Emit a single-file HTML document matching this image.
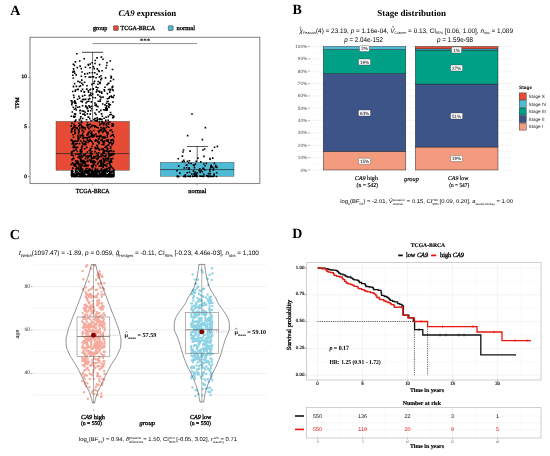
<!DOCTYPE html>
<html><head><meta charset="utf-8"><style>
html,body{margin:0;padding:0;background:#fff;width:550px;height:456px;overflow:hidden;}
svg{display:block;will-change:transform;}
text{white-space:pre;text-rendering:geometricPrecision;}
</style></head><body>
<svg width="550" height="456" viewBox="0 0 550 456">
<rect width="550" height="456" fill="#fff"/>
<text x="10.20" y="11.00" font-family='"Liberation Serif", serif' font-size="14.00" font-weight="bold" font-style="normal" text-anchor="start" fill="#000" dominant-baseline="central" >A</text>
<text x="118.41" y="12.90" font-family='"Liberation Serif", serif' font-size="8.80" font-weight="bold" font-style="italic" text-anchor="start" fill="#000" dominant-baseline="central" >CA9</text>
<text x="134.55" y="12.90" font-family='"Liberation Serif", serif' font-size="8.80" font-weight="bold" font-style="normal" text-anchor="start" fill="#000" dominant-baseline="central" > expression</text>
<g transform="translate(93.00,28.20) scale(0.9729,1)">
<text x="0.00" y="0.00" font-family='"Liberation Serif", serif' font-size="6.30" font-weight="normal" font-style="normal" text-anchor="start" fill="#000" dominant-baseline="central" stroke="#000" stroke-width="0.3">group</text>
</g>
<rect x="113.5" y="25.8" width="4.8" height="4.6" rx="0.5" fill="#E64B35" stroke="#444" stroke-width="0.6"/>
<g transform="translate(120.60,28.20) scale(0.9658,1)">
<text x="0.00" y="0.00" font-family='"Liberation Serif", serif' font-size="6.20" font-weight="normal" font-style="normal" text-anchor="start" fill="#000" dominant-baseline="central" stroke="#000" stroke-width="0.3">TCGA-BRCA</text>
</g>
<rect x="168.3" y="25.8" width="4.8" height="4.6" rx="0.5" fill="#4DBBD5" stroke="#444" stroke-width="0.6"/>
<g transform="translate(176.60,28.20) scale(1.0311,1)">
<text x="0.00" y="0.00" font-family='"Liberation Serif", serif' font-size="6.30" font-weight="normal" font-style="normal" text-anchor="start" fill="#000" dominant-baseline="central" stroke="#000" stroke-width="0.3">normal</text>
</g>
<rect x="30" y="37.3" width="229.8" height="146.2" fill="none" stroke="#8a8a8a" stroke-width="1.1"/>
<line x1="28" x2="30" y1="176.6" y2="176.6" stroke="#555" stroke-width="0.5"/>
<text x="26.80" y="176.60" font-family='"Liberation Serif", serif' font-size="5.20" font-weight="normal" font-style="normal" text-anchor="end" fill="#000" dominant-baseline="central" stroke="#000" stroke-width="0.3">0</text>
<line x1="28" x2="30" y1="127.0" y2="127.0" stroke="#555" stroke-width="0.5"/>
<text x="26.80" y="127.00" font-family='"Liberation Serif", serif' font-size="5.20" font-weight="normal" font-style="normal" text-anchor="end" fill="#000" dominant-baseline="central" stroke="#000" stroke-width="0.3">5</text>
<line x1="28" x2="30" y1="77.4" y2="77.4" stroke="#555" stroke-width="0.5"/>
<text x="26.80" y="77.40" font-family='"Liberation Serif", serif' font-size="5.20" font-weight="normal" font-style="normal" text-anchor="end" fill="#000" dominant-baseline="central" stroke="#000" stroke-width="0.3">10</text>
<text x="17.5" y="103" font-family='"Liberation Serif", serif' font-size="5.5" text-anchor="middle" dominant-baseline="central" transform="rotate(-90 17.5 103)" stroke="#000" stroke-width="0.3">TPM</text>
<line x1="92.6" x2="92.6" y1="183.5" y2="185.3" stroke="#555" stroke-width="0.5"/>
<g transform="translate(75.75,191.00) scale(0.9462,1)">
<text x="0.00" y="0.00" font-family='"Liberation Serif", serif' font-size="6.20" font-weight="normal" font-style="normal" text-anchor="start" fill="#000" dominant-baseline="central" stroke="#000" stroke-width="0.3">TCGA-BRCA</text>
</g>
<line x1="197.2" x2="197.2" y1="183.5" y2="185.3" stroke="#555" stroke-width="0.5"/>
<g transform="translate(188.30,191.00) scale(1.0250,1)">
<text x="0.00" y="0.00" font-family='"Liberation Serif", serif' font-size="6.20" font-weight="normal" font-style="normal" text-anchor="start" fill="#000" dominant-baseline="central" stroke="#000" stroke-width="0.3">normal</text>
</g>
<line x1="92.6" x2="92.6" y1="52" y2="176.6" stroke="#111" stroke-width="0.6"/>
<line x1="82" x2="103" y1="52.3" y2="52.3" stroke="#111" stroke-width="0.8"/>
<rect x="56" y="121.4" width="73.4" height="48.8" fill="#E64B35" stroke="#333" stroke-width="0.4"/>
<line x1="56" x2="129.4" y1="153.6" y2="153.6" stroke="#222" stroke-width="0.7"/>
<line x1="197.2" x2="197.2" y1="146.4" y2="176.2" stroke="#111" stroke-width="0.6"/>
<line x1="187" x2="208" y1="146.5" y2="146.5" stroke="#111" stroke-width="0.7"/>
<rect x="160.4" y="162.4" width="73.6" height="13.8" fill="#4DBBD5" stroke="#333" stroke-width="0.4"/>
<line x1="160.4" x2="234" y1="169.6" y2="169.6" stroke="#222" stroke-width="0.7"/>
<line x1="71" x2="114.2" y1="176.6" y2="176.6" stroke="#000" stroke-width="1.4"/>
<path d="M79.5 150.9h1.6v1.6h-1.6zM73.9 128.7h1.6v1.6h-1.6zM89.2 138.6h1.6v1.6h-1.6zM101.2 172.1h1.6v1.6h-1.6zM103.8 169.3h1.6v1.6h-1.6zM71.0 130.6h1.6v1.6h-1.6zM110.8 175.8h1.6v1.6h-1.6zM80.9 134.9h1.6v1.6h-1.6zM82.9 136.9h1.6v1.6h-1.6zM106.1 160.2h1.6v1.6h-1.6zM108.8 169.2h1.6v1.6h-1.6zM102.0 170.2h1.6v1.6h-1.6zM84.6 171.0h1.6v1.6h-1.6zM90.2 161.4h1.6v1.6h-1.6zM106.2 158.2h1.6v1.6h-1.6zM85.7 155.5h1.6v1.6h-1.6zM104.9 120.6h1.6v1.6h-1.6zM103.9 137.2h1.6v1.6h-1.6zM90.5 151.2h1.6v1.6h-1.6zM108.9 121.2h1.6v1.6h-1.6zM86.8 172.5h1.6v1.6h-1.6zM102.5 174.6h1.6v1.6h-1.6zM97.8 152.0h1.6v1.6h-1.6zM84.5 175.6h1.6v1.6h-1.6zM93.2 175.7h1.6v1.6h-1.6zM96.4 157.6h1.6v1.6h-1.6zM93.4 160.3h1.6v1.6h-1.6zM75.1 127.0h1.6v1.6h-1.6zM112.9 150.6h1.6v1.6h-1.6zM111.9 157.7h1.6v1.6h-1.6zM71.9 158.6h1.6v1.6h-1.6zM110.9 171.3h1.6v1.6h-1.6zM93.2 175.8h1.6v1.6h-1.6zM75.7 173.4h1.6v1.6h-1.6zM105.6 145.5h1.6v1.6h-1.6zM88.9 173.0h1.6v1.6h-1.6zM101.0 165.6h1.6v1.6h-1.6zM105.9 175.8h1.6v1.6h-1.6zM93.4 134.2h1.6v1.6h-1.6zM72.4 174.8h1.6v1.6h-1.6zM105.7 170.6h1.6v1.6h-1.6zM100.1 130.0h1.6v1.6h-1.6zM109.4 157.9h1.6v1.6h-1.6zM81.9 132.8h1.6v1.6h-1.6zM104.1 149.7h1.6v1.6h-1.6zM107.8 141.4h1.6v1.6h-1.6zM85.6 175.5h1.6v1.6h-1.6zM87.9 156.2h1.6v1.6h-1.6zM84.7 158.0h1.6v1.6h-1.6zM70.5 130.8h1.6v1.6h-1.6zM80.3 166.0h1.6v1.6h-1.6zM84.6 153.1h1.6v1.6h-1.6zM75.0 175.6h1.6v1.6h-1.6zM103.2 164.6h1.6v1.6h-1.6zM88.7 168.1h1.6v1.6h-1.6zM94.7 174.9h1.6v1.6h-1.6zM82.5 135.3h1.6v1.6h-1.6zM85.8 165.0h1.6v1.6h-1.6zM102.7 122.0h1.6v1.6h-1.6zM90.5 153.5h1.6v1.6h-1.6zM96.0 152.6h1.6v1.6h-1.6zM88.5 149.9h1.6v1.6h-1.6zM94.3 146.7h1.6v1.6h-1.6zM108.9 174.9h1.6v1.6h-1.6zM81.8 161.7h1.6v1.6h-1.6zM92.6 171.6h1.6v1.6h-1.6zM99.9 163.8h1.6v1.6h-1.6zM74.0 175.5h1.6v1.6h-1.6zM111.7 122.9h1.6v1.6h-1.6zM91.7 172.5h1.6v1.6h-1.6zM80.8 147.1h1.6v1.6h-1.6zM103.0 169.3h1.6v1.6h-1.6zM105.4 130.6h1.6v1.6h-1.6zM97.4 147.9h1.6v1.6h-1.6zM109.7 175.3h1.6v1.6h-1.6zM74.1 132.9h1.6v1.6h-1.6zM93.0 124.8h1.6v1.6h-1.6zM102.2 128.1h1.6v1.6h-1.6zM109.7 154.6h1.6v1.6h-1.6zM97.9 175.1h1.6v1.6h-1.6zM96.2 173.4h1.6v1.6h-1.6zM87.0 126.1h1.6v1.6h-1.6zM94.9 155.6h1.6v1.6h-1.6zM94.2 173.8h1.6v1.6h-1.6zM109.2 129.7h1.6v1.6h-1.6zM105.9 149.6h1.6v1.6h-1.6zM102.0 154.6h1.6v1.6h-1.6zM110.0 165.2h1.6v1.6h-1.6zM73.1 163.3h1.6v1.6h-1.6zM103.4 171.6h1.6v1.6h-1.6zM90.2 175.7h1.6v1.6h-1.6zM102.6 130.4h1.6v1.6h-1.6zM83.0 160.2h1.6v1.6h-1.6zM90.4 155.8h1.6v1.6h-1.6zM105.8 168.1h1.6v1.6h-1.6zM71.8 140.6h1.6v1.6h-1.6zM82.8 175.7h1.6v1.6h-1.6zM91.3 165.4h1.6v1.6h-1.6zM106.9 175.7h1.6v1.6h-1.6zM81.9 175.4h1.6v1.6h-1.6zM105.7 122.9h1.6v1.6h-1.6zM80.8 148.3h1.6v1.6h-1.6zM83.3 162.4h1.6v1.6h-1.6zM94.1 157.1h1.6v1.6h-1.6zM98.4 130.7h1.6v1.6h-1.6zM108.1 166.9h1.6v1.6h-1.6zM108.1 153.5h1.6v1.6h-1.6zM81.1 146.1h1.6v1.6h-1.6zM102.4 166.3h1.6v1.6h-1.6zM97.6 157.4h1.6v1.6h-1.6zM86.9 139.5h1.6v1.6h-1.6zM103.7 127.7h1.6v1.6h-1.6zM108.9 174.9h1.6v1.6h-1.6zM90.9 125.7h1.6v1.6h-1.6zM109.7 175.8h1.6v1.6h-1.6zM75.8 140.5h1.6v1.6h-1.6zM77.4 135.8h1.6v1.6h-1.6zM103.2 175.3h1.6v1.6h-1.6zM83.4 162.9h1.6v1.6h-1.6zM95.5 135.4h1.6v1.6h-1.6zM91.7 175.7h1.6v1.6h-1.6zM76.6 150.7h1.6v1.6h-1.6zM102.7 137.2h1.6v1.6h-1.6zM102.2 157.7h1.6v1.6h-1.6zM76.5 142.7h1.6v1.6h-1.6zM81.5 172.1h1.6v1.6h-1.6zM104.7 173.1h1.6v1.6h-1.6zM109.5 165.9h1.6v1.6h-1.6zM107.7 173.8h1.6v1.6h-1.6zM91.9 166.8h1.6v1.6h-1.6zM86.1 124.5h1.6v1.6h-1.6zM89.4 154.4h1.6v1.6h-1.6zM77.9 167.2h1.6v1.6h-1.6zM91.6 170.4h1.6v1.6h-1.6zM80.2 124.2h1.6v1.6h-1.6zM77.3 161.5h1.6v1.6h-1.6zM86.7 121.9h1.6v1.6h-1.6zM73.0 157.6h1.6v1.6h-1.6zM90.5 157.3h1.6v1.6h-1.6zM100.2 128.7h1.6v1.6h-1.6zM98.3 141.3h1.6v1.6h-1.6zM112.2 154.0h1.6v1.6h-1.6zM108.4 162.4h1.6v1.6h-1.6zM97.6 130.2h1.6v1.6h-1.6zM108.9 163.3h1.6v1.6h-1.6zM89.4 126.6h1.6v1.6h-1.6zM104.7 175.6h1.6v1.6h-1.6zM82.5 162.3h1.6v1.6h-1.6zM92.9 157.4h1.6v1.6h-1.6zM112.4 124.3h1.6v1.6h-1.6zM96.0 171.2h1.6v1.6h-1.6zM92.1 136.1h1.6v1.6h-1.6zM104.2 146.7h1.6v1.6h-1.6zM83.7 143.4h1.6v1.6h-1.6zM106.0 150.6h1.6v1.6h-1.6zM71.1 122.6h1.6v1.6h-1.6zM80.5 167.6h1.6v1.6h-1.6zM77.9 164.0h1.6v1.6h-1.6zM81.4 173.0h1.6v1.6h-1.6zM111.0 175.6h1.6v1.6h-1.6zM71.3 172.6h1.6v1.6h-1.6zM83.1 127.2h1.6v1.6h-1.6zM95.0 133.3h1.6v1.6h-1.6zM100.5 175.4h1.6v1.6h-1.6zM103.6 152.7h1.6v1.6h-1.6zM86.8 159.6h1.6v1.6h-1.6zM79.8 153.3h1.6v1.6h-1.6zM107.0 148.1h1.6v1.6h-1.6zM75.5 169.0h1.6v1.6h-1.6zM73.1 123.4h1.6v1.6h-1.6zM80.3 160.3h1.6v1.6h-1.6zM91.5 150.7h1.6v1.6h-1.6zM110.8 150.1h1.6v1.6h-1.6zM101.6 173.7h1.6v1.6h-1.6zM94.6 175.6h1.6v1.6h-1.6zM92.7 163.3h1.6v1.6h-1.6zM100.1 139.6h1.6v1.6h-1.6zM97.2 135.4h1.6v1.6h-1.6zM84.8 142.3h1.6v1.6h-1.6zM74.3 175.4h1.6v1.6h-1.6zM78.9 127.3h1.6v1.6h-1.6zM104.0 136.4h1.6v1.6h-1.6zM97.6 130.3h1.6v1.6h-1.6zM104.6 157.2h1.6v1.6h-1.6zM72.2 127.2h1.6v1.6h-1.6zM109.0 175.6h1.6v1.6h-1.6zM86.7 175.7h1.6v1.6h-1.6zM110.1 175.7h1.6v1.6h-1.6zM95.9 171.1h1.6v1.6h-1.6zM93.8 171.3h1.6v1.6h-1.6zM105.5 173.5h1.6v1.6h-1.6zM97.2 154.8h1.6v1.6h-1.6zM99.3 175.7h1.6v1.6h-1.6zM77.1 153.5h1.6v1.6h-1.6zM96.3 174.3h1.6v1.6h-1.6zM85.6 146.6h1.6v1.6h-1.6zM73.6 175.7h1.6v1.6h-1.6zM76.0 168.8h1.6v1.6h-1.6zM90.9 125.3h1.6v1.6h-1.6zM81.6 156.3h1.6v1.6h-1.6zM103.2 135.7h1.6v1.6h-1.6zM75.6 148.2h1.6v1.6h-1.6zM70.9 152.1h1.6v1.6h-1.6zM113.2 173.4h1.6v1.6h-1.6zM83.8 154.4h1.6v1.6h-1.6zM92.2 175.7h1.6v1.6h-1.6zM79.3 136.5h1.6v1.6h-1.6zM79.3 123.5h1.6v1.6h-1.6zM87.6 132.2h1.6v1.6h-1.6zM104.3 175.6h1.6v1.6h-1.6zM72.0 167.2h1.6v1.6h-1.6zM106.3 168.4h1.6v1.6h-1.6zM112.9 175.4h1.6v1.6h-1.6zM94.3 150.8h1.6v1.6h-1.6zM85.8 136.8h1.6v1.6h-1.6zM80.4 168.6h1.6v1.6h-1.6zM78.2 131.5h1.6v1.6h-1.6zM84.2 136.9h1.6v1.6h-1.6zM106.9 175.3h1.6v1.6h-1.6zM70.4 139.3h1.6v1.6h-1.6zM104.1 129.9h1.6v1.6h-1.6zM99.0 173.2h1.6v1.6h-1.6zM71.1 154.4h1.6v1.6h-1.6zM73.3 149.8h1.6v1.6h-1.6zM101.9 152.2h1.6v1.6h-1.6zM99.2 175.5h1.6v1.6h-1.6zM83.8 148.0h1.6v1.6h-1.6zM107.3 150.4h1.6v1.6h-1.6zM79.3 134.7h1.6v1.6h-1.6zM88.7 136.3h1.6v1.6h-1.6zM75.2 167.9h1.6v1.6h-1.6zM98.1 143.0h1.6v1.6h-1.6zM74.0 131.1h1.6v1.6h-1.6zM78.0 129.0h1.6v1.6h-1.6zM103.3 174.5h1.6v1.6h-1.6zM91.8 175.7h1.6v1.6h-1.6zM98.8 148.8h1.6v1.6h-1.6zM101.9 172.5h1.6v1.6h-1.6zM96.4 155.0h1.6v1.6h-1.6zM78.8 124.8h1.6v1.6h-1.6zM100.3 165.0h1.6v1.6h-1.6zM75.3 171.1h1.6v1.6h-1.6zM81.9 160.8h1.6v1.6h-1.6zM89.6 148.3h1.6v1.6h-1.6zM75.2 175.4h1.6v1.6h-1.6zM74.9 165.0h1.6v1.6h-1.6zM98.3 175.3h1.6v1.6h-1.6zM102.2 147.9h1.6v1.6h-1.6zM86.2 134.1h1.6v1.6h-1.6zM87.1 165.2h1.6v1.6h-1.6zM79.2 165.4h1.6v1.6h-1.6zM92.7 156.3h1.6v1.6h-1.6zM95.3 172.5h1.6v1.6h-1.6zM110.4 171.3h1.6v1.6h-1.6zM72.0 167.7h1.6v1.6h-1.6zM109.4 160.8h1.6v1.6h-1.6zM112.9 175.5h1.6v1.6h-1.6zM85.2 140.5h1.6v1.6h-1.6zM101.5 154.1h1.6v1.6h-1.6zM105.8 169.4h1.6v1.6h-1.6zM98.3 175.5h1.6v1.6h-1.6zM82.7 139.6h1.6v1.6h-1.6zM97.1 175.3h1.6v1.6h-1.6zM108.0 175.3h1.6v1.6h-1.6zM74.9 175.3h1.6v1.6h-1.6zM90.9 175.5h1.6v1.6h-1.6zM71.3 127.9h1.6v1.6h-1.6zM106.6 170.5h1.6v1.6h-1.6zM103.8 169.0h1.6v1.6h-1.6zM72.3 133.9h1.6v1.6h-1.6zM102.4 151.4h1.6v1.6h-1.6zM100.0 173.6h1.6v1.6h-1.6zM75.7 162.0h1.6v1.6h-1.6zM92.9 129.7h1.6v1.6h-1.6zM99.9 165.2h1.6v1.6h-1.6zM84.7 143.9h1.6v1.6h-1.6zM92.0 175.5h1.6v1.6h-1.6zM112.3 142.6h1.6v1.6h-1.6zM97.6 138.5h1.6v1.6h-1.6zM91.9 134.5h1.6v1.6h-1.6zM73.1 146.9h1.6v1.6h-1.6zM75.5 165.5h1.6v1.6h-1.6zM106.9 175.6h1.6v1.6h-1.6zM102.2 157.4h1.6v1.6h-1.6zM106.2 140.1h1.6v1.6h-1.6zM95.2 173.4h1.6v1.6h-1.6zM95.1 170.6h1.6v1.6h-1.6zM93.1 156.5h1.6v1.6h-1.6zM101.9 140.8h1.6v1.6h-1.6zM84.5 128.7h1.6v1.6h-1.6zM91.7 175.4h1.6v1.6h-1.6zM90.5 173.7h1.6v1.6h-1.6zM98.8 136.7h1.6v1.6h-1.6zM79.6 149.3h1.6v1.6h-1.6zM71.4 143.1h1.6v1.6h-1.6zM74.1 120.5h1.6v1.6h-1.6zM78.0 125.2h1.6v1.6h-1.6zM107.2 133.1h1.6v1.6h-1.6zM101.1 138.5h1.6v1.6h-1.6zM102.5 164.2h1.6v1.6h-1.6zM89.4 149.6h1.6v1.6h-1.6zM74.7 173.7h1.6v1.6h-1.6zM90.3 139.9h1.6v1.6h-1.6zM107.4 140.1h1.6v1.6h-1.6zM92.2 143.1h1.6v1.6h-1.6zM97.5 161.5h1.6v1.6h-1.6zM86.4 165.1h1.6v1.6h-1.6zM76.8 162.8h1.6v1.6h-1.6zM97.2 175.7h1.6v1.6h-1.6zM91.2 133.0h1.6v1.6h-1.6zM85.2 156.1h1.6v1.6h-1.6zM81.4 164.6h1.6v1.6h-1.6zM100.2 155.8h1.6v1.6h-1.6zM84.0 143.0h1.6v1.6h-1.6zM95.1 164.9h1.6v1.6h-1.6zM81.5 134.1h1.6v1.6h-1.6zM102.7 126.8h1.6v1.6h-1.6zM86.4 164.6h1.6v1.6h-1.6zM90.9 175.3h1.6v1.6h-1.6zM110.2 139.9h1.6v1.6h-1.6zM101.2 120.8h1.6v1.6h-1.6zM102.0 175.0h1.6v1.6h-1.6zM84.9 143.8h1.6v1.6h-1.6zM106.4 134.5h1.6v1.6h-1.6zM86.9 126.7h1.6v1.6h-1.6zM112.8 175.4h1.6v1.6h-1.6zM108.8 175.5h1.6v1.6h-1.6zM98.6 121.2h1.6v1.6h-1.6zM106.1 175.4h1.6v1.6h-1.6zM93.7 173.9h1.6v1.6h-1.6zM101.8 154.4h1.6v1.6h-1.6zM75.7 161.4h1.6v1.6h-1.6zM112.8 140.7h1.6v1.6h-1.6zM104.7 173.4h1.6v1.6h-1.6zM76.4 127.3h1.6v1.6h-1.6zM80.7 172.4h1.6v1.6h-1.6zM95.0 139.1h1.6v1.6h-1.6zM103.1 175.6h1.6v1.6h-1.6zM76.7 159.9h1.6v1.6h-1.6zM111.6 175.7h1.6v1.6h-1.6zM85.2 168.6h1.6v1.6h-1.6zM113.1 168.7h1.6v1.6h-1.6zM102.7 143.2h1.6v1.6h-1.6zM91.2 160.9h1.6v1.6h-1.6zM85.9 175.6h1.6v1.6h-1.6zM74.4 120.6h1.6v1.6h-1.6zM74.1 129.4h1.6v1.6h-1.6zM97.4 127.1h1.6v1.6h-1.6zM103.6 171.3h1.6v1.6h-1.6zM109.3 164.2h1.6v1.6h-1.6zM86.0 172.1h1.6v1.6h-1.6zM110.6 175.4h1.6v1.6h-1.6zM83.1 175.7h1.6v1.6h-1.6zM110.7 158.3h1.6v1.6h-1.6zM109.8 175.4h1.6v1.6h-1.6zM77.0 174.0h1.6v1.6h-1.6zM107.3 131.7h1.6v1.6h-1.6zM100.6 159.3h1.6v1.6h-1.6zM100.5 173.7h1.6v1.6h-1.6zM106.4 147.3h1.6v1.6h-1.6zM93.4 170.6h1.6v1.6h-1.6zM92.1 157.0h1.6v1.6h-1.6zM86.1 170.0h1.6v1.6h-1.6zM107.5 157.6h1.6v1.6h-1.6zM109.0 150.6h1.6v1.6h-1.6zM77.2 156.5h1.6v1.6h-1.6zM103.5 164.1h1.6v1.6h-1.6zM82.1 137.4h1.6v1.6h-1.6zM78.2 130.6h1.6v1.6h-1.6zM78.8 173.8h1.6v1.6h-1.6zM95.0 175.3h1.6v1.6h-1.6zM82.3 175.4h1.6v1.6h-1.6zM80.7 121.9h1.6v1.6h-1.6zM74.5 125.0h1.6v1.6h-1.6zM84.3 171.9h1.6v1.6h-1.6zM103.6 122.7h1.6v1.6h-1.6zM71.2 172.8h1.6v1.6h-1.6zM91.1 158.1h1.6v1.6h-1.6zM96.2 158.6h1.6v1.6h-1.6zM72.4 127.2h1.6v1.6h-1.6zM82.9 175.7h1.6v1.6h-1.6zM109.3 168.5h1.6v1.6h-1.6zM113.1 153.0h1.6v1.6h-1.6zM106.9 175.6h1.6v1.6h-1.6zM77.6 171.7h1.6v1.6h-1.6zM103.2 160.3h1.6v1.6h-1.6zM89.7 130.0h1.6v1.6h-1.6zM77.6 139.8h1.6v1.6h-1.6zM91.0 134.2h1.6v1.6h-1.6zM110.0 139.8h1.6v1.6h-1.6zM108.0 144.2h1.6v1.6h-1.6zM87.1 132.5h1.6v1.6h-1.6zM73.0 146.3h1.6v1.6h-1.6zM109.0 141.9h1.6v1.6h-1.6zM112.7 169.3h1.6v1.6h-1.6zM92.3 174.3h1.6v1.6h-1.6zM80.0 140.2h1.6v1.6h-1.6zM93.7 174.3h1.6v1.6h-1.6zM100.2 126.8h1.6v1.6h-1.6zM91.0 153.2h1.6v1.6h-1.6zM85.5 167.7h1.6v1.6h-1.6zM81.0 125.4h1.6v1.6h-1.6zM83.1 174.7h1.6v1.6h-1.6zM72.4 157.7h1.6v1.6h-1.6zM81.3 175.5h1.6v1.6h-1.6zM111.3 123.1h1.6v1.6h-1.6zM70.6 154.3h1.6v1.6h-1.6zM101.6 136.3h1.6v1.6h-1.6zM104.2 170.0h1.6v1.6h-1.6zM87.7 136.5h1.6v1.6h-1.6zM95.9 144.6h1.6v1.6h-1.6zM79.8 149.4h1.6v1.6h-1.6zM99.0 124.3h1.6v1.6h-1.6zM100.7 162.1h1.6v1.6h-1.6zM101.9 163.1h1.6v1.6h-1.6zM91.4 145.4h1.6v1.6h-1.6zM112.0 133.7h1.6v1.6h-1.6zM107.6 167.4h1.6v1.6h-1.6zM94.9 147.3h1.6v1.6h-1.6zM99.6 172.7h1.6v1.6h-1.6zM82.1 155.6h1.6v1.6h-1.6zM110.9 139.1h1.6v1.6h-1.6zM98.0 175.6h1.6v1.6h-1.6zM108.8 142.5h1.6v1.6h-1.6zM82.7 175.7h1.6v1.6h-1.6zM112.5 123.7h1.6v1.6h-1.6zM74.8 160.1h1.6v1.6h-1.6zM93.1 163.4h1.6v1.6h-1.6zM75.1 143.1h1.6v1.6h-1.6zM78.5 157.2h1.6v1.6h-1.6zM103.2 142.3h1.6v1.6h-1.6zM73.1 175.5h1.6v1.6h-1.6zM86.8 155.0h1.6v1.6h-1.6zM78.5 155.3h1.6v1.6h-1.6zM106.9 125.8h1.6v1.6h-1.6zM73.8 175.7h1.6v1.6h-1.6zM84.8 161.0h1.6v1.6h-1.6zM107.1 150.4h1.6v1.6h-1.6zM99.8 155.7h1.6v1.6h-1.6zM100.5 175.5h1.6v1.6h-1.6zM112.9 153.4h1.6v1.6h-1.6zM71.3 172.2h1.6v1.6h-1.6zM98.9 173.2h1.6v1.6h-1.6zM102.3 130.2h1.6v1.6h-1.6zM102.5 173.2h1.6v1.6h-1.6zM101.0 160.9h1.6v1.6h-1.6zM73.4 140.7h1.6v1.6h-1.6zM73.9 144.2h1.6v1.6h-1.6zM103.5 155.5h1.6v1.6h-1.6zM96.6 136.0h1.6v1.6h-1.6zM81.6 160.3h1.6v1.6h-1.6zM70.7 151.3h1.6v1.6h-1.6zM93.2 135.1h1.6v1.6h-1.6zM74.2 146.6h1.6v1.6h-1.6zM102.5 149.6h1.6v1.6h-1.6zM85.0 163.6h1.6v1.6h-1.6zM105.0 155.3h1.6v1.6h-1.6zM74.4 164.1h1.6v1.6h-1.6zM91.5 141.2h1.6v1.6h-1.6zM74.6 165.0h1.6v1.6h-1.6zM103.9 160.3h1.6v1.6h-1.6zM94.4 140.3h1.6v1.6h-1.6zM80.4 158.2h1.6v1.6h-1.6zM111.7 167.3h1.6v1.6h-1.6zM99.6 134.4h1.6v1.6h-1.6zM84.8 164.9h1.6v1.6h-1.6zM107.1 133.0h1.6v1.6h-1.6zM86.6 137.8h1.6v1.6h-1.6zM110.8 161.3h1.6v1.6h-1.6zM83.1 143.7h1.6v1.6h-1.6zM112.6 175.7h1.6v1.6h-1.6zM73.0 164.5h1.6v1.6h-1.6zM101.9 131.7h1.6v1.6h-1.6zM82.8 154.1h1.6v1.6h-1.6zM88.5 155.3h1.6v1.6h-1.6zM97.7 147.7h1.6v1.6h-1.6zM72.3 146.6h1.6v1.6h-1.6zM79.9 153.9h1.6v1.6h-1.6zM74.8 162.8h1.6v1.6h-1.6zM102.1 173.7h1.6v1.6h-1.6zM79.8 169.6h1.6v1.6h-1.6zM91.7 169.6h1.6v1.6h-1.6zM84.4 162.2h1.6v1.6h-1.6zM80.5 120.3h1.6v1.6h-1.6zM110.5 166.5h1.6v1.6h-1.6zM92.1 161.3h1.6v1.6h-1.6zM98.3 165.4h1.6v1.6h-1.6zM100.6 154.0h1.6v1.6h-1.6zM105.6 124.5h1.6v1.6h-1.6zM81.6 129.3h1.6v1.6h-1.6zM73.7 165.1h1.6v1.6h-1.6zM90.4 170.6h1.6v1.6h-1.6zM77.6 129.7h1.6v1.6h-1.6zM71.2 158.8h1.6v1.6h-1.6zM109.8 146.0h1.6v1.6h-1.6zM97.2 175.5h1.6v1.6h-1.6zM88.1 131.2h1.6v1.6h-1.6zM76.2 168.6h1.6v1.6h-1.6zM103.0 158.7h1.6v1.6h-1.6zM93.2 173.1h1.6v1.6h-1.6zM77.8 162.8h1.6v1.6h-1.6zM112.5 134.3h1.6v1.6h-1.6zM111.2 134.4h1.6v1.6h-1.6zM110.2 159.9h1.6v1.6h-1.6zM105.8 139.2h1.6v1.6h-1.6zM93.2 160.7h1.6v1.6h-1.6zM83.2 165.3h1.6v1.6h-1.6zM98.3 155.9h1.6v1.6h-1.6zM76.8 173.0h1.6v1.6h-1.6zM96.8 168.4h1.6v1.6h-1.6zM73.1 144.3h1.6v1.6h-1.6zM70.9 139.0h1.6v1.6h-1.6zM101.1 175.6h1.6v1.6h-1.6zM85.0 142.1h1.6v1.6h-1.6zM100.3 135.2h1.6v1.6h-1.6zM103.8 161.4h1.6v1.6h-1.6zM106.2 175.6h1.6v1.6h-1.6zM96.8 146.2h1.6v1.6h-1.6zM106.7 171.4h1.6v1.6h-1.6zM98.6 149.4h1.6v1.6h-1.6zM110.2 165.2h1.6v1.6h-1.6zM108.9 149.9h1.6v1.6h-1.6zM72.2 170.9h1.6v1.6h-1.6zM81.8 159.7h1.6v1.6h-1.6zM87.0 157.1h1.6v1.6h-1.6zM81.1 150.4h1.6v1.6h-1.6zM77.9 173.0h1.6v1.6h-1.6zM107.9 123.4h1.6v1.6h-1.6zM71.4 169.8h1.6v1.6h-1.6zM78.1 169.0h1.6v1.6h-1.6zM103.0 171.0h1.6v1.6h-1.6zM79.9 175.6h1.6v1.6h-1.6zM81.4 162.6h1.6v1.6h-1.6zM111.9 138.9h1.6v1.6h-1.6zM103.1 144.0h1.6v1.6h-1.6zM89.6 173.2h1.6v1.6h-1.6zM76.2 175.3h1.6v1.6h-1.6zM81.9 168.2h1.6v1.6h-1.6zM112.5 139.2h1.6v1.6h-1.6zM104.3 159.1h1.6v1.6h-1.6zM73.3 126.5h1.6v1.6h-1.6zM100.7 148.4h1.6v1.6h-1.6zM86.5 151.3h1.6v1.6h-1.6zM101.3 139.3h1.6v1.6h-1.6zM83.0 140.7h1.6v1.6h-1.6zM75.9 167.0h1.6v1.6h-1.6zM71.1 171.0h1.6v1.6h-1.6zM83.0 161.8h1.6v1.6h-1.6zM107.3 159.0h1.6v1.6h-1.6zM108.6 175.2h1.6v1.6h-1.6zM99.7 161.6h1.6v1.6h-1.6zM102.5 149.7h1.6v1.6h-1.6zM78.7 175.3h1.6v1.6h-1.6zM85.5 175.3h1.6v1.6h-1.6zM109.0 174.0h1.6v1.6h-1.6zM112.7 170.0h1.6v1.6h-1.6zM89.4 123.4h1.6v1.6h-1.6zM103.7 175.7h1.6v1.6h-1.6zM110.4 173.7h1.6v1.6h-1.6zM113.2 174.4h1.6v1.6h-1.6zM83.0 159.8h1.6v1.6h-1.6zM98.4 175.7h1.6v1.6h-1.6zM87.1 160.7h1.6v1.6h-1.6zM90.3 174.5h1.6v1.6h-1.6zM90.2 170.5h1.6v1.6h-1.6zM82.3 137.2h1.6v1.6h-1.6zM71.1 173.7h1.6v1.6h-1.6zM103.3 151.6h1.6v1.6h-1.6zM100.2 163.6h1.6v1.6h-1.6zM106.4 162.9h1.6v1.6h-1.6zM76.9 135.2h1.6v1.6h-1.6zM80.5 174.5h1.6v1.6h-1.6zM95.9 126.5h1.6v1.6h-1.6zM110.6 129.0h1.6v1.6h-1.6zM90.6 147.4h1.6v1.6h-1.6zM78.9 175.6h1.6v1.6h-1.6zM95.9 147.8h1.6v1.6h-1.6zM111.5 153.0h1.6v1.6h-1.6zM107.6 138.9h1.6v1.6h-1.6zM109.0 172.6h1.6v1.6h-1.6zM88.0 124.1h1.6v1.6h-1.6zM81.6 129.6h1.6v1.6h-1.6zM107.7 175.4h1.6v1.6h-1.6zM104.2 168.5h1.6v1.6h-1.6zM106.9 175.7h1.6v1.6h-1.6zM87.1 134.1h1.6v1.6h-1.6zM82.6 127.2h1.6v1.6h-1.6zM80.6 121.1h1.6v1.6h-1.6zM107.7 152.0h1.6v1.6h-1.6zM109.8 147.6h1.6v1.6h-1.6zM86.1 146.6h1.6v1.6h-1.6zM107.9 154.6h1.6v1.6h-1.6zM86.7 124.1h1.6v1.6h-1.6zM89.6 152.3h1.6v1.6h-1.6zM94.7 167.4h1.6v1.6h-1.6zM79.8 157.7h1.6v1.6h-1.6zM81.8 175.7h1.6v1.6h-1.6zM81.8 142.8h1.6v1.6h-1.6zM81.5 145.3h1.6v1.6h-1.6zM92.5 162.7h1.6v1.6h-1.6zM74.6 132.4h1.6v1.6h-1.6zM103.9 140.3h1.6v1.6h-1.6zM77.8 167.4h1.6v1.6h-1.6zM89.4 175.5h1.6v1.6h-1.6zM97.9 175.3h1.6v1.6h-1.6zM76.2 173.7h1.6v1.6h-1.6zM87.9 169.1h1.6v1.6h-1.6zM94.5 161.3h1.6v1.6h-1.6zM94.0 126.1h1.6v1.6h-1.6zM108.7 170.2h1.6v1.6h-1.6zM104.1 128.5h1.6v1.6h-1.6zM75.5 146.4h1.6v1.6h-1.6zM106.1 132.2h1.6v1.6h-1.6zM93.9 163.7h1.6v1.6h-1.6zM99.5 175.8h1.6v1.6h-1.6zM77.2 137.7h1.6v1.6h-1.6zM90.6 171.4h1.6v1.6h-1.6zM100.4 175.2h1.6v1.6h-1.6zM104.6 136.7h1.6v1.6h-1.6zM104.9 145.9h1.6v1.6h-1.6zM79.6 172.6h1.6v1.6h-1.6zM106.1 170.6h1.6v1.6h-1.6zM94.7 125.2h1.6v1.6h-1.6zM99.1 170.5h1.6v1.6h-1.6zM106.9 144.6h1.6v1.6h-1.6zM87.7 175.3h1.6v1.6h-1.6zM109.8 135.4h1.6v1.6h-1.6zM108.2 175.4h1.6v1.6h-1.6zM105.0 157.6h1.6v1.6h-1.6zM86.6 175.7h1.6v1.6h-1.6zM93.0 155.7h1.6v1.6h-1.6zM77.7 132.8h1.6v1.6h-1.6zM103.0 175.5h1.6v1.6h-1.6zM108.6 170.3h1.6v1.6h-1.6zM77.2 139.5h1.6v1.6h-1.6zM102.3 152.3h1.6v1.6h-1.6zM100.1 168.7h1.6v1.6h-1.6zM71.9 150.6h1.6v1.6h-1.6zM109.7 160.9h1.6v1.6h-1.6zM90.9 131.5h1.6v1.6h-1.6zM81.9 169.6h1.6v1.6h-1.6zM71.6 140.1h1.6v1.6h-1.6zM103.9 150.1h1.6v1.6h-1.6zM84.8 141.5h1.6v1.6h-1.6zM92.4 165.1h1.6v1.6h-1.6zM78.7 142.8h1.6v1.6h-1.6zM96.4 144.9h1.6v1.6h-1.6zM87.4 164.6h1.6v1.6h-1.6zM105.0 175.7h1.6v1.6h-1.6zM99.0 123.3h1.6v1.6h-1.6zM101.3 143.7h1.6v1.6h-1.6zM81.1 172.9h1.6v1.6h-1.6zM73.0 142.3h1.6v1.6h-1.6zM108.1 170.1h1.6v1.6h-1.6zM110.5 160.1h1.6v1.6h-1.6zM98.0 131.7h1.6v1.6h-1.6zM109.9 161.3h1.6v1.6h-1.6zM100.7 169.8h1.6v1.6h-1.6zM96.4 169.1h1.6v1.6h-1.6zM88.3 175.5h1.6v1.6h-1.6zM85.6 172.3h1.6v1.6h-1.6zM91.4 170.4h1.6v1.6h-1.6zM79.9 174.1h1.6v1.6h-1.6zM88.7 175.6h1.6v1.6h-1.6zM92.1 160.3h1.6v1.6h-1.6zM71.6 172.5h1.6v1.6h-1.6zM87.2 141.6h1.6v1.6h-1.6zM82.5 126.6h1.6v1.6h-1.6zM97.6 170.4h1.6v1.6h-1.6zM105.2 154.5h1.6v1.6h-1.6zM96.7 158.1h1.6v1.6h-1.6zM98.8 175.5h1.6v1.6h-1.6zM96.7 175.4h1.6v1.6h-1.6zM81.3 129.7h1.6v1.6h-1.6zM86.5 159.9h1.6v1.6h-1.6zM106.6 136.2h1.6v1.6h-1.6zM111.0 175.6h1.6v1.6h-1.6zM78.1 153.3h1.6v1.6h-1.6zM70.8 131.3h1.6v1.6h-1.6zM111.6 131.1h1.6v1.6h-1.6zM107.3 175.8h1.6v1.6h-1.6zM96.4 157.3h1.6v1.6h-1.6zM105.4 165.6h1.6v1.6h-1.6zM95.9 139.9h1.6v1.6h-1.6zM109.2 175.5h1.6v1.6h-1.6zM80.8 170.7h1.6v1.6h-1.6zM89.4 135.6h1.6v1.6h-1.6zM99.1 160.1h1.6v1.6h-1.6zM79.6 161.0h1.6v1.6h-1.6zM101.0 122.8h1.6v1.6h-1.6zM81.6 168.3h1.6v1.6h-1.6zM100.8 175.7h1.6v1.6h-1.6zM104.9 164.3h1.6v1.6h-1.6zM88.5 174.8h1.6v1.6h-1.6zM112.9 175.5h1.6v1.6h-1.6zM97.4 154.7h1.6v1.6h-1.6zM102.8 124.0h1.6v1.6h-1.6zM71.2 154.1h1.6v1.6h-1.6zM75.2 149.1h1.6v1.6h-1.6zM100.9 168.1h1.6v1.6h-1.6zM110.9 154.6h1.6v1.6h-1.6zM97.3 140.5h1.6v1.6h-1.6zM109.6 153.6h1.6v1.6h-1.6zM72.8 136.4h1.6v1.6h-1.6zM108.6 155.7h1.6v1.6h-1.6zM108.0 173.1h1.6v1.6h-1.6zM97.3 153.9h1.6v1.6h-1.6zM88.8 158.9h1.6v1.6h-1.6zM100.6 174.3h1.6v1.6h-1.6zM80.8 151.4h1.6v1.6h-1.6zM99.0 135.2h1.6v1.6h-1.6zM100.2 175.3h1.6v1.6h-1.6zM93.5 156.0h1.6v1.6h-1.6zM81.5 142.0h1.6v1.6h-1.6zM70.4 163.7h1.6v1.6h-1.6zM78.7 170.5h1.6v1.6h-1.6zM106.2 165.4h1.6v1.6h-1.6zM79.4 156.2h1.6v1.6h-1.6zM73.5 145.9h1.6v1.6h-1.6zM80.9 155.2h1.6v1.6h-1.6zM92.6 175.4h1.6v1.6h-1.6zM95.5 135.2h1.6v1.6h-1.6zM108.0 126.5h1.6v1.6h-1.6zM107.1 175.4h1.6v1.6h-1.6zM112.0 171.2h1.6v1.6h-1.6zM108.3 174.1h1.6v1.6h-1.6zM89.7 132.6h1.6v1.6h-1.6zM76.4 127.6h1.6v1.6h-1.6zM111.4 175.6h1.6v1.6h-1.6zM80.1 167.6h1.6v1.6h-1.6zM97.1 173.4h1.6v1.6h-1.6zM81.7 160.1h1.6v1.6h-1.6zM105.4 126.7h1.6v1.6h-1.6zM78.9 175.6h1.6v1.6h-1.6zM88.4 174.1h1.6v1.6h-1.6zM79.7 159.1h1.6v1.6h-1.6zM107.3 157.1h1.6v1.6h-1.6zM96.9 141.1h1.6v1.6h-1.6zM97.4 161.8h1.6v1.6h-1.6zM83.8 175.3h1.6v1.6h-1.6zM77.9 166.4h1.6v1.6h-1.6zM107.2 121.7h1.6v1.6h-1.6zM103.2 140.6h1.6v1.6h-1.6zM101.9 175.4h1.6v1.6h-1.6zM113.2 135.9h1.6v1.6h-1.6zM94.4 168.8h1.6v1.6h-1.6zM78.0 138.1h1.6v1.6h-1.6zM96.5 175.8h1.6v1.6h-1.6zM82.7 130.8h1.6v1.6h-1.6zM92.4 174.5h1.6v1.6h-1.6zM90.1 160.9h1.6v1.6h-1.6zM94.5 147.9h1.6v1.6h-1.6zM109.9 158.0h1.6v1.6h-1.6zM105.1 174.4h1.6v1.6h-1.6zM88.2 175.3h1.6v1.6h-1.6zM105.4 169.9h1.6v1.6h-1.6zM107.3 175.6h1.6v1.6h-1.6zM103.6 172.5h1.6v1.6h-1.6zM94.0 175.3h1.6v1.6h-1.6zM109.0 160.4h1.6v1.6h-1.6zM91.5 166.3h1.6v1.6h-1.6zM74.9 153.7h1.6v1.6h-1.6zM82.0 170.1h1.6v1.6h-1.6zM98.6 175.7h1.6v1.6h-1.6zM86.6 167.7h1.6v1.6h-1.6zM88.5 140.3h1.6v1.6h-1.6zM87.6 171.0h1.6v1.6h-1.6zM78.6 163.6h1.6v1.6h-1.6zM74.3 140.3h1.6v1.6h-1.6zM72.4 163.5h1.6v1.6h-1.6zM99.2 129.5h1.6v1.6h-1.6zM84.2 127.0h1.6v1.6h-1.6zM89.9 168.8h1.6v1.6h-1.6zM110.5 141.9h1.6v1.6h-1.6zM97.2 171.1h1.6v1.6h-1.6zM105.2 175.3h1.6v1.6h-1.6zM103.1 161.8h1.6v1.6h-1.6zM111.3 152.8h1.6v1.6h-1.6zM73.2 125.5h1.6v1.6h-1.6zM86.8 175.1h1.6v1.6h-1.6zM111.1 143.8h1.6v1.6h-1.6zM90.3 159.8h1.6v1.6h-1.6zM111.1 175.3h1.6v1.6h-1.6zM78.2 122.5h1.6v1.6h-1.6zM72.9 145.1h1.6v1.6h-1.6zM108.8 175.3h1.6v1.6h-1.6zM88.0 128.0h1.6v1.6h-1.6zM92.2 175.4h1.6v1.6h-1.6zM110.6 175.5h1.6v1.6h-1.6zM79.7 167.6h1.6v1.6h-1.6zM111.9 125.3h1.6v1.6h-1.6zM87.4 175.7h1.6v1.6h-1.6zM80.9 126.9h1.6v1.6h-1.6zM80.3 152.0h1.6v1.6h-1.6zM92.6 175.6h1.6v1.6h-1.6zM90.4 154.7h1.6v1.6h-1.6zM108.4 160.7h1.6v1.6h-1.6zM72.5 154.9h1.6v1.6h-1.6zM72.2 141.8h1.6v1.6h-1.6zM76.9 146.5h1.6v1.6h-1.6zM96.3 120.5h1.6v1.6h-1.6zM103.9 174.7h1.6v1.6h-1.6zM90.9 135.6h1.6v1.6h-1.6zM96.7 163.3h1.6v1.6h-1.6zM97.9 138.0h1.6v1.6h-1.6zM71.1 129.1h1.6v1.6h-1.6zM80.9 120.9h1.6v1.6h-1.6zM113.2 170.6h1.6v1.6h-1.6zM84.5 161.0h1.6v1.6h-1.6zM111.0 124.9h1.6v1.6h-1.6zM91.5 124.7h1.6v1.6h-1.6zM79.9 165.4h1.6v1.6h-1.6zM70.4 125.1h1.6v1.6h-1.6zM79.7 163.6h1.6v1.6h-1.6zM84.1 165.3h1.6v1.6h-1.6zM89.2 140.2h1.6v1.6h-1.6zM89.5 160.0h1.6v1.6h-1.6zM93.9 161.3h1.6v1.6h-1.6zM90.7 164.7h1.6v1.6h-1.6zM71.7 162.1h1.6v1.6h-1.6zM81.8 88.6h1.6v1.6h-1.6zM111.7 68.7h1.6v1.6h-1.6zM71.5 111.2h1.6v1.6h-1.6zM101.9 103.2h1.6v1.6h-1.6zM90.8 107.9h1.6v1.6h-1.6zM100.7 113.1h1.6v1.6h-1.6zM84.6 75.9h1.6v1.6h-1.6zM86.2 84.9h1.6v1.6h-1.6zM92.5 87.9h1.6v1.6h-1.6zM109.4 89.5h1.6v1.6h-1.6zM84.4 111.5h1.6v1.6h-1.6zM74.0 72.5h1.6v1.6h-1.6zM71.9 90.7h1.6v1.6h-1.6zM108.2 106.4h1.6v1.6h-1.6zM83.8 81.4h1.6v1.6h-1.6zM75.4 74.1h1.6v1.6h-1.6zM95.9 109.0h1.6v1.6h-1.6zM106.6 97.9h1.6v1.6h-1.6zM96.1 89.1h1.6v1.6h-1.6zM76.8 106.4h1.6v1.6h-1.6zM87.7 64.4h1.6v1.6h-1.6zM81.8 95.3h1.6v1.6h-1.6zM71.0 103.8h1.6v1.6h-1.6zM111.8 86.3h1.6v1.6h-1.6zM90.0 92.2h1.6v1.6h-1.6zM76.1 52.9h1.6v1.6h-1.6zM108.4 104.4h1.6v1.6h-1.6zM112.7 78.7h1.6v1.6h-1.6zM105.4 109.3h1.6v1.6h-1.6zM81.2 71.2h1.6v1.6h-1.6zM78.5 119.2h1.6v1.6h-1.6zM92.9 82.6h1.6v1.6h-1.6zM95.4 86.3h1.6v1.6h-1.6zM108.1 82.4h1.6v1.6h-1.6zM111.9 85.4h1.6v1.6h-1.6zM109.4 88.4h1.6v1.6h-1.6zM85.0 105.1h1.6v1.6h-1.6zM95.5 119.9h1.6v1.6h-1.6zM75.6 85.6h1.6v1.6h-1.6zM92.6 65.9h1.6v1.6h-1.6zM73.3 101.2h1.6v1.6h-1.6zM75.1 104.9h1.6v1.6h-1.6zM75.5 109.2h1.6v1.6h-1.6zM83.3 91.5h1.6v1.6h-1.6zM83.6 91.0h1.6v1.6h-1.6zM100.6 56.3h1.6v1.6h-1.6zM73.6 64.6h1.6v1.6h-1.6zM75.1 102.6h1.6v1.6h-1.6zM98.5 70.7h1.6v1.6h-1.6zM99.2 82.6h1.6v1.6h-1.6zM100.8 91.3h1.6v1.6h-1.6zM101.3 70.0h1.6v1.6h-1.6zM98.8 63.8h1.6v1.6h-1.6zM94.1 117.7h1.6v1.6h-1.6zM102.2 96.3h1.6v1.6h-1.6zM73.8 82.8h1.6v1.6h-1.6zM79.4 109.4h1.6v1.6h-1.6zM102.2 58.5h1.6v1.6h-1.6zM78.6 85.7h1.6v1.6h-1.6zM93.1 118.9h1.6v1.6h-1.6zM81.5 110.2h1.6v1.6h-1.6zM88.8 106.4h1.6v1.6h-1.6zM106.2 109.3h1.6v1.6h-1.6zM98.7 90.4h1.6v1.6h-1.6zM89.4 63.2h1.6v1.6h-1.6zM82.1 83.8h1.6v1.6h-1.6zM104.9 107.3h1.6v1.6h-1.6zM98.6 76.1h1.6v1.6h-1.6zM89.2 106.3h1.6v1.6h-1.6zM107.7 88.7h1.6v1.6h-1.6zM100.1 78.8h1.6v1.6h-1.6zM112.5 116.8h1.6v1.6h-1.6zM98.9 91.4h1.6v1.6h-1.6zM109.0 91.3h1.6v1.6h-1.6zM94.0 71.9h1.6v1.6h-1.6zM100.8 112.9h1.6v1.6h-1.6zM106.5 108.1h1.6v1.6h-1.6zM74.2 102.4h1.6v1.6h-1.6zM90.7 105.6h1.6v1.6h-1.6zM96.3 73.5h1.6v1.6h-1.6zM72.8 115.5h1.6v1.6h-1.6zM104.2 104.1h1.6v1.6h-1.6zM101.1 118.6h1.6v1.6h-1.6zM110.6 113.7h1.6v1.6h-1.6zM86.3 106.6h1.6v1.6h-1.6zM90.5 101.1h1.6v1.6h-1.6zM109.5 60.2h1.6v1.6h-1.6zM88.0 116.4h1.6v1.6h-1.6zM106.2 61.9h1.6v1.6h-1.6zM88.4 76.4h1.6v1.6h-1.6zM84.8 98.6h1.6v1.6h-1.6zM82.2 113.5h1.6v1.6h-1.6zM79.5 112.5h1.6v1.6h-1.6zM88.9 97.8h1.6v1.6h-1.6zM77.2 80.6h1.6v1.6h-1.6zM105.9 64.7h1.6v1.6h-1.6zM112.2 115.0h1.6v1.6h-1.6zM74.5 101.3h1.6v1.6h-1.6zM72.7 85.6h1.6v1.6h-1.6zM70.5 115.5h1.6v1.6h-1.6zM110.4 95.2h1.6v1.6h-1.6zM73.5 70.6h1.6v1.6h-1.6zM99.5 100.4h1.6v1.6h-1.6zM83.4 58.0h1.6v1.6h-1.6zM78.8 97.3h1.6v1.6h-1.6zM80.9 82.4h1.6v1.6h-1.6zM100.0 109.6h1.6v1.6h-1.6zM71.1 100.3h1.6v1.6h-1.6zM107.5 115.6h1.6v1.6h-1.6zM94.7 118.0h1.6v1.6h-1.6zM80.4 90.3h1.6v1.6h-1.6zM79.3 65.3h1.6v1.6h-1.6zM98.5 118.1h1.6v1.6h-1.6zM97.4 100.4h1.6v1.6h-1.6zM84.0 73.1h1.6v1.6h-1.6zM84.7 66.5h1.6v1.6h-1.6zM90.2 119.9h1.6v1.6h-1.6zM109.5 103.9h1.6v1.6h-1.6zM93.4 67.8h1.6v1.6h-1.6zM106.4 100.7h1.6v1.6h-1.6zM97.9 100.4h1.6v1.6h-1.6zM94.5 97.0h1.6v1.6h-1.6zM91.4 62.0h1.6v1.6h-1.6zM99.6 118.5h1.6v1.6h-1.6zM91.4 76.0h1.6v1.6h-1.6zM101.5 115.5h1.6v1.6h-1.6zM78.1 95.5h1.6v1.6h-1.6zM84.2 114.3h1.6v1.6h-1.6zM107.8 105.9h1.6v1.6h-1.6zM87.3 110.3h1.6v1.6h-1.6zM106.6 92.8h1.6v1.6h-1.6zM110.6 76.6h1.6v1.6h-1.6zM95.2 113.7h1.6v1.6h-1.6zM74.7 89.3h1.6v1.6h-1.6zM102.8 109.0h1.6v1.6h-1.6zM98.9 82.0h1.6v1.6h-1.6zM82.8 98.8h1.6v1.6h-1.6zM107.4 119.4h1.6v1.6h-1.6zM91.1 83.6h1.6v1.6h-1.6zM72.8 68.1h1.6v1.6h-1.6zM73.2 96.6h1.6v1.6h-1.6zM80.1 115.9h1.6v1.6h-1.6zM96.5 68.1h1.6v1.6h-1.6zM105.4 106.5h1.6v1.6h-1.6zM74.6 61.1h1.6v1.6h-1.6zM71.3 102.1h1.6v1.6h-1.6zM97.1 94.1h1.6v1.6h-1.6zM87.9 100.4h1.6v1.6h-1.6zM89.3 89.0h1.6v1.6h-1.6zM105.6 107.3h1.6v1.6h-1.6zM109.8 80.3h1.6v1.6h-1.6zM111.9 117.0h1.6v1.6h-1.6zM103.8 90.2h1.6v1.6h-1.6zM70.4 99.9h1.6v1.6h-1.6zM76.8 98.5h1.6v1.6h-1.6zM95.6 105.1h1.6v1.6h-1.6zM111.4 88.7h1.6v1.6h-1.6zM73.8 113.1h1.6v1.6h-1.6zM92.4 88.5h1.6v1.6h-1.6zM87.3 109.9h1.6v1.6h-1.6zM87.8 91.4h1.6v1.6h-1.6zM81.8 104.9h1.6v1.6h-1.6zM81.9 117.7h1.6v1.6h-1.6zM80.5 67.8h1.6v1.6h-1.6zM74.7 113.3h1.6v1.6h-1.6zM94.1 102.2h1.6v1.6h-1.6zM89.5 93.9h1.6v1.6h-1.6zM101.0 92.3h1.6v1.6h-1.6zM97.8 69.8h1.6v1.6h-1.6zM111.3 86.6h1.6v1.6h-1.6zM84.9 105.8h1.6v1.6h-1.6zM108.2 97.3h1.6v1.6h-1.6zM86.8 107.8h1.6v1.6h-1.6zM98.7 118.9h1.6v1.6h-1.6zM104.9 119.6h1.6v1.6h-1.6zM87.4 116.3h1.6v1.6h-1.6zM89.5 113.3h1.6v1.6h-1.6zM97.4 80.7h1.6v1.6h-1.6zM75.1 119.2h1.6v1.6h-1.6zM93.2 82.6h1.6v1.6h-1.6zM74.4 115.6h1.6v1.6h-1.6zM80.0 115.9h1.6v1.6h-1.6zM97.1 105.8h1.6v1.6h-1.6zM112.1 101.2h1.6v1.6h-1.6zM113.3 94.7h1.6v1.6h-1.6zM81.5 101.1h1.6v1.6h-1.6zM76.6 88.7h1.6v1.6h-1.6zM92.6 76.1h1.6v1.6h-1.6zM89.3 76.3h1.6v1.6h-1.6zM86.6 113.1h1.6v1.6h-1.6zM103.3 117.5h1.6v1.6h-1.6zM100.8 77.6h1.6v1.6h-1.6zM94.5 59.7h1.6v1.6h-1.6zM97.0 86.9h1.6v1.6h-1.6zM95.3 76.9h1.6v1.6h-1.6zM99.4 81.5h1.6v1.6h-1.6zM110.2 77.2h1.6v1.6h-1.6zM111.0 96.3h1.6v1.6h-1.6zM112.4 96.6h1.6v1.6h-1.6zM107.3 82.8h1.6v1.6h-1.6zM74.8 107.6h1.6v1.6h-1.6zM89.7 88.6h1.6v1.6h-1.6zM103.9 109.2h1.6v1.6h-1.6zM83.0 98.4h1.6v1.6h-1.6zM96.4 116.9h1.6v1.6h-1.6zM72.7 85.8h1.6v1.6h-1.6zM79.1 109.8h1.6v1.6h-1.6zM87.5 89.9h1.6v1.6h-1.6zM73.3 116.5h1.6v1.6h-1.6zM88.5 94.8h1.6v1.6h-1.6zM80.2 100.4h1.6v1.6h-1.6zM107.4 115.9h1.6v1.6h-1.6zM84.0 94.5h1.6v1.6h-1.6zM86.7 72.8h1.6v1.6h-1.6zM104.8 77.1h1.6v1.6h-1.6zM94.4 119.9h1.6v1.6h-1.6zM72.5 63.5h1.6v1.6h-1.6zM79.7 85.1h1.6v1.6h-1.6zM96.6 118.8h1.6v1.6h-1.6zM78.9 60.2h1.6v1.6h-1.6zM81.0 79.3h1.6v1.6h-1.6zM97.1 83.4h1.6v1.6h-1.6zM91.6 71.9h1.6v1.6h-1.6zM81.9 98.8h1.6v1.6h-1.6zM94.3 104.5h1.6v1.6h-1.6zM97.6 90.4h1.6v1.6h-1.6zM72.0 74.4h1.6v1.6h-1.6zM82.1 113.4h1.6v1.6h-1.6zM83.5 113.2h1.6v1.6h-1.6zM108.1 103.1h1.6v1.6h-1.6zM72.5 77.2h1.6v1.6h-1.6zM85.2 102.2h1.6v1.6h-1.6zM78.7 106.1h1.6v1.6h-1.6zM100.2 96.6h1.6v1.6h-1.6zM105.2 67.2h1.6v1.6h-1.6zM72.8 94.5h1.6v1.6h-1.6zM107.4 100.7h1.6v1.6h-1.6zM100.2 74.9h1.6v1.6h-1.6zM79.6 117.8h1.6v1.6h-1.6zM109.7 111.7h1.6v1.6h-1.6zM82.9 110.3h1.6v1.6h-1.6zM104.2 86.5h1.6v1.6h-1.6zM73.5 108.5h1.6v1.6h-1.6zM89.9 109.9h1.6v1.6h-1.6zM92.0 96.7h1.6v1.6h-1.6zM108.9 95.9h1.6v1.6h-1.6zM106.3 83.9h1.6v1.6h-1.6zM93.8 80.5h1.6v1.6h-1.6zM72.5 106.5h1.6v1.6h-1.6zM88.8 71.9h1.6v1.6h-1.6zM86.4 101.0h1.6v1.6h-1.6zM113.1 115.8h1.6v1.6h-1.6zM99.6 98.7h1.6v1.6h-1.6zM87.7 98.5h1.6v1.6h-1.6zM86.0 88.3h1.6v1.6h-1.6zM103.3 117.4h1.6v1.6h-1.6zM74.4 90.5h1.6v1.6h-1.6zM105.4 108.9h1.6v1.6h-1.6zM99.1 95.6h1.6v1.6h-1.6zM89.0 118.0h1.6v1.6h-1.6zM100.8 118.4h1.6v1.6h-1.6zM87.4 63.7h1.6v1.6h-1.6zM76.5 66.8h1.6v1.6h-1.6zM88.2 105.0h1.6v1.6h-1.6zM72.5 70.4h1.6v1.6h-1.6zM74.0 100.1h1.6v1.6h-1.6zM89.2 67.0h1.6v1.6h-1.6zM105.8 102.5h1.6v1.6h-1.6zM79.1 81.3h1.6v1.6h-1.6zM91.8 93.3h1.6v1.6h-1.6zM112.4 89.6h1.6v1.6h-1.6zM105.9 104.9h1.6v1.6h-1.6zM109.1 113.9h1.6v1.6h-1.6zM99.3 118.0h1.6v1.6h-1.6zM95.6 91.1h1.6v1.6h-1.6zM95.3 103.5h1.6v1.6h-1.6zM96.2 57.1h1.6v1.6h-1.6zM90.3 94.7h1.6v1.6h-1.6zM85.8 118.9h1.6v1.6h-1.6zM80.6 75.4h1.6v1.6h-1.6zM73.1 115.6h1.6v1.6h-1.6zM86.2 107.1h1.6v1.6h-1.6zM103.4 88.9h1.6v1.6h-1.6zM94.1 112.2h1.6v1.6h-1.6zM77.4 88.6h1.6v1.6h-1.6zM105.3 116.5h1.6v1.6h-1.6zM72.1 71.5h1.6v1.6h-1.6zM110.3 75.4h1.6v1.6h-1.6zM98.3 111.1h1.6v1.6h-1.6zM94.2 62.7h1.6v1.6h-1.6zM88.0 175.7h1.6v1.6h-1.6zM105.8 174.2h1.6v1.6h-1.6zM70.6 174.1h1.6v1.6h-1.6zM71.0 169.9h1.6v1.6h-1.6zM92.7 174.4h1.6v1.6h-1.6zM83.1 175.5h1.6v1.6h-1.6zM87.6 173.3h1.6v1.6h-1.6zM93.4 171.9h1.6v1.6h-1.6zM72.2 174.9h1.6v1.6h-1.6zM112.6 170.8h1.6v1.6h-1.6zM99.4 174.6h1.6v1.6h-1.6zM74.6 171.6h1.6v1.6h-1.6zM102.1 174.8h1.6v1.6h-1.6zM93.2 170.6h1.6v1.6h-1.6zM99.8 174.6h1.6v1.6h-1.6zM102.0 171.4h1.6v1.6h-1.6zM112.9 170.8h1.6v1.6h-1.6zM75.4 174.3h1.6v1.6h-1.6zM113.1 175.2h1.6v1.6h-1.6zM90.8 172.3h1.6v1.6h-1.6zM78.9 172.8h1.6v1.6h-1.6zM86.4 172.9h1.6v1.6h-1.6zM86.0 171.1h1.6v1.6h-1.6zM108.8 173.0h1.6v1.6h-1.6zM92.8 172.8h1.6v1.6h-1.6zM73.2 172.9h1.6v1.6h-1.6zM101.0 173.1h1.6v1.6h-1.6zM91.7 173.4h1.6v1.6h-1.6zM105.3 174.8h1.6v1.6h-1.6zM72.3 174.0h1.6v1.6h-1.6zM107.5 174.2h1.6v1.6h-1.6zM108.7 174.3h1.6v1.6h-1.6zM70.7 171.1h1.6v1.6h-1.6zM90.8 175.1h1.6v1.6h-1.6zM75.5 174.6h1.6v1.6h-1.6zM93.1 172.7h1.6v1.6h-1.6zM74.1 173.9h1.6v1.6h-1.6zM108.4 174.4h1.6v1.6h-1.6zM78.2 173.6h1.6v1.6h-1.6zM99.0 172.8h1.6v1.6h-1.6zM98.4 171.8h1.6v1.6h-1.6zM84.1 170.0h1.6v1.6h-1.6zM79.5 170.7h1.6v1.6h-1.6zM109.7 173.2h1.6v1.6h-1.6zM72.0 173.1h1.6v1.6h-1.6zM81.2 173.3h1.6v1.6h-1.6zM84.3 174.4h1.6v1.6h-1.6zM95.4 170.1h1.6v1.6h-1.6zM86.2 175.4h1.6v1.6h-1.6zM75.1 174.6h1.6v1.6h-1.6zM94.8 171.9h1.6v1.6h-1.6zM101.4 172.3h1.6v1.6h-1.6zM100.6 174.1h1.6v1.6h-1.6zM91.4 170.2h1.6v1.6h-1.6zM83.5 173.4h1.6v1.6h-1.6zM70.7 172.3h1.6v1.6h-1.6zM93.2 175.3h1.6v1.6h-1.6zM97.3 170.5h1.6v1.6h-1.6zM89.3 175.2h1.6v1.6h-1.6zM111.5 173.5h1.6v1.6h-1.6zM79.0 170.5h1.6v1.6h-1.6zM105.3 170.2h1.6v1.6h-1.6zM101.2 170.4h1.6v1.6h-1.6zM109.0 170.9h1.6v1.6h-1.6zM110.1 174.4h1.6v1.6h-1.6zM80.5 175.6h1.6v1.6h-1.6zM109.9 173.1h1.6v1.6h-1.6zM87.6 175.4h1.6v1.6h-1.6zM99.5 170.1h1.6v1.6h-1.6zM111.3 175.8h1.6v1.6h-1.6zM95.9 173.9h1.6v1.6h-1.6zM95.4 174.6h1.6v1.6h-1.6zM73.3 175.7h1.6v1.6h-1.6zM96.0 172.8h1.6v1.6h-1.6zM80.7 175.3h1.6v1.6h-1.6zM87.0 170.4h1.6v1.6h-1.6zM86.5 171.7h1.6v1.6h-1.6zM112.2 173.6h1.6v1.6h-1.6zM97.7 170.8h1.6v1.6h-1.6zM101.5 171.1h1.6v1.6h-1.6zM77.7 173.9h1.6v1.6h-1.6zM83.4 170.8h1.6v1.6h-1.6zM108.0 170.3h1.6v1.6h-1.6zM75.5 172.1h1.6v1.6h-1.6zM111.3 173.7h1.6v1.6h-1.6zM88.7 170.4h1.6v1.6h-1.6zM87.1 170.2h1.6v1.6h-1.6zM92.4 173.7h1.6v1.6h-1.6zM89.4 175.3h1.6v1.6h-1.6zM90.5 170.6h1.6v1.6h-1.6zM88.5 171.8h1.6v1.6h-1.6zM100.5 174.4h1.6v1.6h-1.6zM82.2 172.4h1.6v1.6h-1.6zM77.5 174.0h1.6v1.6h-1.6zM89.0 170.3h1.6v1.6h-1.6zM74.1 173.8h1.6v1.6h-1.6zM89.5 174.6h1.6v1.6h-1.6zM91.6 175.5h1.6v1.6h-1.6zM104.0 173.8h1.6v1.6h-1.6zM75.0 169.9h1.6v1.6h-1.6zM87.4 174.5h1.6v1.6h-1.6zM103.9 173.1h1.6v1.6h-1.6zM84.8 170.0h1.6v1.6h-1.6zM106.3 175.8h1.6v1.6h-1.6zM101.2 174.0h1.6v1.6h-1.6zM72.1 170.9h1.6v1.6h-1.6zM86.9 175.2h1.6v1.6h-1.6zM103.3 170.3h1.6v1.6h-1.6zM92.9 170.8h1.6v1.6h-1.6zM99.2 174.9h1.6v1.6h-1.6zM112.9 172.3h1.6v1.6h-1.6zM99.3 172.5h1.6v1.6h-1.6zM93.8 171.7h1.6v1.6h-1.6zM106.7 174.0h1.6v1.6h-1.6zM88.8 173.5h1.6v1.6h-1.6zM70.7 174.4h1.6v1.6h-1.6zM82.0 174.1h1.6v1.6h-1.6zM95.9 174.8h1.6v1.6h-1.6zM111.1 170.4h1.6v1.6h-1.6zM96.4 170.5h1.6v1.6h-1.6zM82.5 173.7h1.6v1.6h-1.6zM113.0 171.7h1.6v1.6h-1.6zM87.5 172.9h1.6v1.6h-1.6zM80.1 174.1h1.6v1.6h-1.6zM94.1 173.7h1.6v1.6h-1.6zM85.1 170.1h1.6v1.6h-1.6zM75.1 173.8h1.6v1.6h-1.6zM100.9 172.4h1.6v1.6h-1.6zM100.0 170.2h1.6v1.6h-1.6zM112.1 174.0h1.6v1.6h-1.6zM76.2 171.0h1.6v1.6h-1.6zM109.5 175.1h1.6v1.6h-1.6zM104.6 171.4h1.6v1.6h-1.6zM81.2 171.0h1.6v1.6h-1.6zM90.9 170.8h1.6v1.6h-1.6zM97.4 170.0h1.6v1.6h-1.6zM83.8 171.6h1.6v1.6h-1.6zM74.9 170.0h1.6v1.6h-1.6zM106.3 174.1h1.6v1.6h-1.6zM77.4 172.7h1.6v1.6h-1.6zM192.7 170.3h1.6v1.6h-1.6zM188.6 171.5h1.6v1.6h-1.6zM209.3 158.5h1.6v1.6h-1.6zM209.1 168.7h1.6v1.6h-1.6zM196.3 171.9h1.6v1.6h-1.6zM211.5 149.7h1.6v1.6h-1.6zM202.9 173.6h1.6v1.6h-1.6zM204.3 164.9h1.6v1.6h-1.6zM187.2 175.4h1.6v1.6h-1.6zM186.1 164.2h1.6v1.6h-1.6zM185.5 164.3h1.6v1.6h-1.6zM213.6 162.6h1.6v1.6h-1.6zM209.0 170.4h1.6v1.6h-1.6zM213.1 175.4h1.6v1.6h-1.6zM209.9 167.0h1.6v1.6h-1.6zM209.2 157.8h1.6v1.6h-1.6zM194.1 174.6h1.6v1.6h-1.6zM207.6 175.8h1.6v1.6h-1.6zM183.0 175.5h1.6v1.6h-1.6zM203.1 155.6h1.6v1.6h-1.6zM178.0 175.8h1.6v1.6h-1.6zM215.8 175.7h1.6v1.6h-1.6zM212.3 175.6h1.6v1.6h-1.6zM183.0 159.5h1.6v1.6h-1.6zM207.7 172.8h1.6v1.6h-1.6zM210.0 165.7h1.6v1.6h-1.6zM177.9 165.3h1.6v1.6h-1.6zM199.4 171.6h1.6v1.6h-1.6zM193.4 164.7h1.6v1.6h-1.6zM201.6 171.0h1.6v1.6h-1.6zM212.5 169.1h1.6v1.6h-1.6zM205.8 174.7h1.6v1.6h-1.6zM184.9 175.8h1.6v1.6h-1.6zM198.9 167.9h1.6v1.6h-1.6zM199.2 175.3h1.6v1.6h-1.6zM176.7 175.3h1.6v1.6h-1.6zM181.6 160.8h1.6v1.6h-1.6zM190.9 173.3h1.6v1.6h-1.6zM183.5 175.6h1.6v1.6h-1.6zM185.9 167.0h1.6v1.6h-1.6zM203.9 169.1h1.6v1.6h-1.6zM215.6 175.7h1.6v1.6h-1.6zM195.0 173.7h1.6v1.6h-1.6zM202.7 167.5h1.6v1.6h-1.6zM207.4 175.3h1.6v1.6h-1.6zM203.8 148.2h1.6v1.6h-1.6zM203.1 163.2h1.6v1.6h-1.6zM176.2 169.9h1.6v1.6h-1.6zM211.9 157.3h1.6v1.6h-1.6zM182.8 175.7h1.6v1.6h-1.6zM183.6 175.4h1.6v1.6h-1.6zM197.1 157.3h1.6v1.6h-1.6zM200.3 169.8h1.6v1.6h-1.6zM207.2 175.5h1.6v1.6h-1.6zM188.2 168.4h1.6v1.6h-1.6zM215.0 164.8h1.6v1.6h-1.6zM202.0 167.6h1.6v1.6h-1.6zM210.8 175.7h1.6v1.6h-1.6zM195.8 175.7h1.6v1.6h-1.6zM179.1 172.3h1.6v1.6h-1.6zM176.7 175.8h1.6v1.6h-1.6zM202.5 175.7h1.6v1.6h-1.6zM193.7 166.8h1.6v1.6h-1.6zM194.3 171.5h1.6v1.6h-1.6zM189.6 175.6h1.6v1.6h-1.6zM183.5 161.0h1.6v1.6h-1.6zM195.6 173.2h1.6v1.6h-1.6zM186.6 160.4h1.6v1.6h-1.6zM212.8 167.5h1.6v1.6h-1.6zM183.5 167.2h1.6v1.6h-1.6zM215.9 171.9h1.6v1.6h-1.6zM211.5 166.1h1.6v1.6h-1.6zM191.9 175.4h1.6v1.6h-1.6zM207.9 175.3h1.6v1.6h-1.6zM200.0 161.1h1.6v1.6h-1.6zM195.3 175.4h1.6v1.6h-1.6zM209.5 172.8h1.6v1.6h-1.6zM210.3 164.4h1.6v1.6h-1.6zM184.5 174.1h1.6v1.6h-1.6zM213.3 173.3h1.6v1.6h-1.6zM177.5 157.9h1.6v1.6h-1.6zM176.4 175.4h1.6v1.6h-1.6zM196.0 175.4h1.6v1.6h-1.6zM188.6 160.0h1.6v1.6h-1.6zM193.5 175.3h1.6v1.6h-1.6zM195.8 174.1h1.6v1.6h-1.6zM195.4 160.5h1.6v1.6h-1.6zM213.4 174.3h1.6v1.6h-1.6zM213.8 146.5h1.6v1.6h-1.6zM190.4 162.7h1.6v1.6h-1.6zM188.0 162.1h1.6v1.6h-1.6zM203.0 175.4h1.6v1.6h-1.6zM184.3 175.4h1.6v1.6h-1.6zM192.6 164.3h1.6v1.6h-1.6zM205.6 162.6h1.6v1.6h-1.6zM176.4 175.4h1.6v1.6h-1.6zM207.8 175.4h1.6v1.6h-1.6zM206.3 175.4h1.6v1.6h-1.6zM192.1 175.6h1.6v1.6h-1.6zM186.4 171.9h1.6v1.6h-1.6zM198.3 170.0h1.6v1.6h-1.6zM188.3 167.1h1.6v1.6h-1.6zM209.9 175.7h1.6v1.6h-1.6zM200.4 175.5h1.6v1.6h-1.6zM188.8 175.6h1.6v1.6h-1.6zM209.3 175.3h1.6v1.6h-1.6zM201.1 175.5h1.6v1.6h-1.6zM181.6 155.3h1.6v1.6h-1.6zM193.2 173.1h1.6v1.6h-1.6zM196.3 175.6h1.6v1.6h-1.6zM214.9 166.2h1.6v1.6h-1.6zM189.3 150.3h1.6v1.6h-1.6zM194.6 163.3h1.6v1.6h-1.6zM216.2 166.6h1.6v1.6h-1.6zM193.7 173.0h1.6v1.6h-1.6zM191.2 113.2h1.6v1.6h-1.6zM204.6 126.8h1.6v1.6h-1.6zM186.8 134.8h1.6v1.6h-1.6zM201.6 138.8h1.6v1.6h-1.6zM216.6 145.6h1.6v1.6h-1.6zM182.2 151.2h1.6v1.6h-1.6zM182.7 149.2h1.6v1.6h-1.6zM202.2 149.2h1.6v1.6h-1.6z" fill="#000"/>
<line x1="92.6" x2="197.2" y1="43.6" y2="43.6" stroke="#222" stroke-width="0.5"/>
<text x="145.00" y="41.20" font-family='"Liberation Serif", serif' font-size="7.00" font-weight="bold" font-style="normal" text-anchor="middle" fill="#000" dominant-baseline="central" >***</text>
<text x="292.50" y="10.80" font-family='"Liberation Serif", serif' font-size="14.00" font-weight="bold" font-style="normal" text-anchor="start" fill="#000" dominant-baseline="central" >B</text>
<text x="411.70" y="13.30" font-family='"Liberation Serif", serif' font-size="9.00" font-weight="bold" font-style="normal" text-anchor="middle" fill="#000" dominant-baseline="central" >Stage distribution</text>
<line x1="310" x2="512" y1="170.00" y2="170.00" stroke="#e8e8e8" stroke-width="0.5"/>
<line x1="310" x2="512" y1="163.82" y2="163.82" stroke="#f2f2f2" stroke-width="0.5"/>
<line x1="310" x2="512" y1="157.65" y2="157.65" stroke="#e8e8e8" stroke-width="0.5"/>
<line x1="310" x2="512" y1="151.47" y2="151.47" stroke="#f2f2f2" stroke-width="0.5"/>
<line x1="310" x2="512" y1="145.30" y2="145.30" stroke="#e8e8e8" stroke-width="0.5"/>
<line x1="310" x2="512" y1="139.12" y2="139.12" stroke="#f2f2f2" stroke-width="0.5"/>
<line x1="310" x2="512" y1="132.95" y2="132.95" stroke="#e8e8e8" stroke-width="0.5"/>
<line x1="310" x2="512" y1="126.78" y2="126.78" stroke="#f2f2f2" stroke-width="0.5"/>
<line x1="310" x2="512" y1="120.60" y2="120.60" stroke="#e8e8e8" stroke-width="0.5"/>
<line x1="310" x2="512" y1="114.42" y2="114.42" stroke="#f2f2f2" stroke-width="0.5"/>
<line x1="310" x2="512" y1="108.25" y2="108.25" stroke="#e8e8e8" stroke-width="0.5"/>
<line x1="310" x2="512" y1="102.07" y2="102.07" stroke="#f2f2f2" stroke-width="0.5"/>
<line x1="310" x2="512" y1="95.90" y2="95.90" stroke="#e8e8e8" stroke-width="0.5"/>
<line x1="310" x2="512" y1="89.72" y2="89.72" stroke="#f2f2f2" stroke-width="0.5"/>
<line x1="310" x2="512" y1="83.55" y2="83.55" stroke="#e8e8e8" stroke-width="0.5"/>
<line x1="310" x2="512" y1="77.37" y2="77.37" stroke="#f2f2f2" stroke-width="0.5"/>
<line x1="310" x2="512" y1="71.20" y2="71.20" stroke="#e8e8e8" stroke-width="0.5"/>
<line x1="310" x2="512" y1="65.02" y2="65.02" stroke="#f2f2f2" stroke-width="0.5"/>
<line x1="310" x2="512" y1="58.85" y2="58.85" stroke="#e8e8e8" stroke-width="0.5"/>
<line x1="310" x2="512" y1="52.67" y2="52.67" stroke="#f2f2f2" stroke-width="0.5"/>
<line x1="310" x2="512" y1="46.50" y2="46.50" stroke="#e8e8e8" stroke-width="0.5"/>
<line x1="307.8" x2="310" y1="170.00" y2="170.00" stroke="#444" stroke-width="0.4"/>
<text x="307.20" y="170.00" font-family='"Liberation Sans", sans-serif' font-size="4.70" font-weight="normal" font-style="normal" text-anchor="end" fill="#555" dominant-baseline="central" >0%</text>
<line x1="307.8" x2="310" y1="157.65" y2="157.65" stroke="#444" stroke-width="0.4"/>
<text x="307.20" y="157.65" font-family='"Liberation Sans", sans-serif' font-size="4.70" font-weight="normal" font-style="normal" text-anchor="end" fill="#555" dominant-baseline="central" >10%</text>
<line x1="307.8" x2="310" y1="145.30" y2="145.30" stroke="#444" stroke-width="0.4"/>
<text x="307.20" y="145.30" font-family='"Liberation Sans", sans-serif' font-size="4.70" font-weight="normal" font-style="normal" text-anchor="end" fill="#555" dominant-baseline="central" >20%</text>
<line x1="307.8" x2="310" y1="132.95" y2="132.95" stroke="#444" stroke-width="0.4"/>
<text x="307.20" y="132.95" font-family='"Liberation Sans", sans-serif' font-size="4.70" font-weight="normal" font-style="normal" text-anchor="end" fill="#555" dominant-baseline="central" >30%</text>
<line x1="307.8" x2="310" y1="120.60" y2="120.60" stroke="#444" stroke-width="0.4"/>
<text x="307.20" y="120.60" font-family='"Liberation Sans", sans-serif' font-size="4.70" font-weight="normal" font-style="normal" text-anchor="end" fill="#555" dominant-baseline="central" >40%</text>
<line x1="307.8" x2="310" y1="108.25" y2="108.25" stroke="#444" stroke-width="0.4"/>
<text x="307.20" y="108.25" font-family='"Liberation Sans", sans-serif' font-size="4.70" font-weight="normal" font-style="normal" text-anchor="end" fill="#555" dominant-baseline="central" >50%</text>
<line x1="307.8" x2="310" y1="95.90" y2="95.90" stroke="#444" stroke-width="0.4"/>
<text x="307.20" y="95.90" font-family='"Liberation Sans", sans-serif' font-size="4.70" font-weight="normal" font-style="normal" text-anchor="end" fill="#555" dominant-baseline="central" >60%</text>
<line x1="307.8" x2="310" y1="83.55" y2="83.55" stroke="#444" stroke-width="0.4"/>
<text x="307.20" y="83.55" font-family='"Liberation Sans", sans-serif' font-size="4.70" font-weight="normal" font-style="normal" text-anchor="end" fill="#555" dominant-baseline="central" >70%</text>
<line x1="307.8" x2="310" y1="71.20" y2="71.20" stroke="#444" stroke-width="0.4"/>
<text x="307.20" y="71.20" font-family='"Liberation Sans", sans-serif' font-size="4.70" font-weight="normal" font-style="normal" text-anchor="end" fill="#555" dominant-baseline="central" >80%</text>
<line x1="307.8" x2="310" y1="58.85" y2="58.85" stroke="#444" stroke-width="0.4"/>
<text x="307.20" y="58.85" font-family='"Liberation Sans", sans-serif' font-size="4.70" font-weight="normal" font-style="normal" text-anchor="end" fill="#555" dominant-baseline="central" >90%</text>
<line x1="307.8" x2="310" y1="46.50" y2="46.50" stroke="#444" stroke-width="0.4"/>
<text x="307.20" y="46.50" font-family='"Liberation Sans", sans-serif' font-size="4.70" font-weight="normal" font-style="normal" text-anchor="end" fill="#555" dominant-baseline="central" >100%</text>
<rect x="323.2" y="151.47" width="82.6" height="18.53" fill="#F39B7F" stroke="#222" stroke-width="0.45"/>
<rect x="323.2" y="73.42" width="82.6" height="78.05" fill="#3C5488" stroke="#222" stroke-width="0.45"/>
<rect x="323.2" y="49.59" width="82.6" height="23.84" fill="#00A087" stroke="#222" stroke-width="0.45"/>
<rect x="323.2" y="46.50" width="82.6" height="3.09" fill="#4DBBD5" stroke="#222" stroke-width="0.45"/>
<rect x="415.3" y="147.03" width="82.7" height="22.97" fill="#F39B7F" stroke="#222" stroke-width="0.45"/>
<rect x="415.3" y="84.04" width="82.7" height="62.98" fill="#3C5488" stroke="#222" stroke-width="0.45"/>
<rect x="415.3" y="50.08" width="82.7" height="33.96" fill="#00A087" stroke="#222" stroke-width="0.45"/>
<rect x="415.3" y="48.85" width="82.7" height="1.23" fill="#4DBBD5" stroke="#222" stroke-width="0.45"/>
<rect x="415.3" y="46.50" width="82.7" height="2.35" fill="#E64B35" stroke="#222" stroke-width="0.45"/>
<rect x="358.5" y="158.2" width="12" height="6" rx="1" fill="#fff" stroke="#333" stroke-width="0.35"/>
<text x="364.50" y="161.40" font-family='"Liberation Sans", sans-serif' font-size="4.60" font-weight="normal" font-style="normal" text-anchor="middle" fill="#000" dominant-baseline="central" >15%</text>
<rect x="358.5" y="110.0" width="12" height="6" rx="1" fill="#fff" stroke="#333" stroke-width="0.35"/>
<text x="364.50" y="113.20" font-family='"Liberation Sans", sans-serif' font-size="4.60" font-weight="normal" font-style="normal" text-anchor="middle" fill="#000" dominant-baseline="central" >63%</text>
<rect x="358.5" y="59.0" width="12" height="6" rx="1" fill="#fff" stroke="#333" stroke-width="0.35"/>
<text x="364.50" y="62.20" font-family='"Liberation Sans", sans-serif' font-size="4.60" font-weight="normal" font-style="normal" text-anchor="middle" fill="#000" dominant-baseline="central" >19%</text>
<rect x="359.5" y="45.6" width="10" height="6" rx="1" fill="#fff" stroke="#333" stroke-width="0.35"/>
<text x="364.50" y="48.80" font-family='"Liberation Sans", sans-serif' font-size="4.60" font-weight="normal" font-style="normal" text-anchor="middle" fill="#000" dominant-baseline="central" >2%</text>
<rect x="450.6" y="155.6" width="12" height="6" rx="1" fill="#fff" stroke="#333" stroke-width="0.35"/>
<text x="456.60" y="158.80" font-family='"Liberation Sans", sans-serif' font-size="4.60" font-weight="normal" font-style="normal" text-anchor="middle" fill="#000" dominant-baseline="central" >19%</text>
<rect x="450.6" y="113.0" width="12" height="6" rx="1" fill="#fff" stroke="#333" stroke-width="0.35"/>
<text x="456.60" y="116.20" font-family='"Liberation Sans", sans-serif' font-size="4.60" font-weight="normal" font-style="normal" text-anchor="middle" fill="#000" dominant-baseline="central" >51%</text>
<rect x="450.6" y="65.0" width="12" height="6" rx="1" fill="#fff" stroke="#333" stroke-width="0.35"/>
<text x="456.60" y="68.20" font-family='"Liberation Sans", sans-serif' font-size="4.60" font-weight="normal" font-style="normal" text-anchor="middle" fill="#000" dominant-baseline="central" >27%</text>
<rect x="451.6" y="47.0" width="10" height="6" rx="1" fill="#fff" stroke="#333" stroke-width="0.35"/>
<text x="456.60" y="50.20" font-family='"Liberation Sans", sans-serif' font-size="4.60" font-weight="normal" font-style="normal" text-anchor="middle" fill="#000" dominant-baseline="central" >1%</text>
<g transform="translate(299.40,31.00) scale(0.9696,1)">
<text x="0.00" y="0.00" font-family='"Liberation Sans", sans-serif' font-size="6.60" font-weight="normal" font-style="italic" text-anchor="start" fill="#000" dominant-baseline="central" >&#967;</text>
<text x="0.00" y="-3.30" font-family='"Liberation Sans", sans-serif' font-size="3.63" font-weight="normal" font-style="normal" text-anchor="start" fill="#000" dominant-baseline="central" >2</text>
<text x="3.60" y="1.98" font-family='"Liberation Sans", sans-serif' font-size="3.63" font-weight="normal" font-style="italic" text-anchor="start" fill="#000" dominant-baseline="central" >Pearson</text>
<text x="17.12" y="0.00" font-family='"Liberation Sans", sans-serif' font-size="6.60" font-weight="normal" font-style="normal" text-anchor="start" fill="#000" dominant-baseline="central" >(4) = 23.19, </text>
<text x="52.90" y="0.00" font-family='"Liberation Sans", sans-serif' font-size="6.60" font-weight="normal" font-style="italic" text-anchor="start" fill="#000" dominant-baseline="central" >p</text>
<text x="56.57" y="0.00" font-family='"Liberation Sans", sans-serif' font-size="6.60" font-weight="normal" font-style="normal" text-anchor="start" fill="#000" dominant-baseline="central" > = 1.16e-04, </text>
<text x="93.81" y="0.00" font-family='"Liberation Sans", sans-serif' font-size="6.60" font-weight="normal" font-style="italic" text-anchor="start" fill="#000" dominant-baseline="central" >V&#770;</text>
<text x="98.21" y="1.98" font-family='"Liberation Sans", sans-serif' font-size="3.63" font-weight="normal" font-style="normal" text-anchor="start" fill="#000" dominant-baseline="central" >Cramer</text>
<text x="110.31" y="0.00" font-family='"Liberation Sans", sans-serif' font-size="6.60" font-weight="normal" font-style="normal" text-anchor="start" fill="#000" dominant-baseline="central" > = 0.13, CI</text>
<text x="140.95" y="1.98" font-family='"Liberation Sans", sans-serif' font-size="3.63" font-weight="normal" font-style="normal" text-anchor="start" fill="#000" dominant-baseline="central" >95%</text>
<text x="148.21" y="0.00" font-family='"Liberation Sans", sans-serif' font-size="6.60" font-weight="normal" font-style="normal" text-anchor="start" fill="#000" dominant-baseline="central" > [0.06, 1.00], </text>
<text x="186.74" y="0.00" font-family='"Liberation Sans", sans-serif' font-size="6.60" font-weight="normal" font-style="italic" text-anchor="start" fill="#000" dominant-baseline="central" >n</text>
<text x="190.41" y="1.98" font-family='"Liberation Sans", sans-serif' font-size="3.63" font-weight="normal" font-style="normal" text-anchor="start" fill="#000" dominant-baseline="central" >obs</text>
<text x="196.26" y="0.00" font-family='"Liberation Sans", sans-serif' font-size="6.60" font-weight="normal" font-style="normal" text-anchor="start" fill="#000" dominant-baseline="central" > = 1,089</text>
</g>
<g transform="translate(344.20,40.50) scale(0.8940,1)">
<text x="0.00" y="0.00" font-family='"Liberation Sans", sans-serif' font-size="7.00" font-weight="normal" font-style="italic" text-anchor="start" fill="#000" dominant-baseline="central" >p</text>
<text x="3.89" y="0.00" font-family='"Liberation Sans", sans-serif' font-size="7.00" font-weight="normal" font-style="normal" text-anchor="start" fill="#000" dominant-baseline="central" > = 2.04e-152</text>
</g>
<g transform="translate(437.00,40.80) scale(0.9113,1)">
<text x="0.00" y="0.00" font-family='"Liberation Sans", sans-serif' font-size="7.00" font-weight="normal" font-style="italic" text-anchor="start" fill="#000" dominant-baseline="central" >p</text>
<text x="3.89" y="0.00" font-family='"Liberation Sans", sans-serif' font-size="7.00" font-weight="normal" font-style="normal" text-anchor="start" fill="#000" dominant-baseline="central" > = 1.59e-98</text>
</g>
<g transform="translate(354.70,179.00) scale(1.0204,1)">
<text x="0.00" y="0.00" font-family='"Liberation Serif", serif' font-size="6.00" font-weight="normal" font-style="italic" text-anchor="start" fill="#000" dominant-baseline="central" stroke="#000" stroke-width="0.16">CA9</text>
<text x="10.67" y="0.00" font-family='"Liberation Serif", serif' font-size="6.00" font-weight="normal" font-style="normal" text-anchor="start" fill="#000" dominant-baseline="central" stroke="#000" stroke-width="0.16"> high</text>
</g>
<g transform="translate(356.50,185.60) scale(0.9770,1)">
<text x="0.00" y="0.00" font-family='"Liberation Serif", serif' font-size="5.90" font-weight="normal" font-style="normal" text-anchor="start" fill="#000" dominant-baseline="central" stroke="#000" stroke-width="0.16">(n = 542)</text>
</g>
<g transform="translate(448.00,179.00) scale(0.9638,1)">
<text x="0.00" y="0.00" font-family='"Liberation Serif", serif' font-size="6.00" font-weight="normal" font-style="italic" text-anchor="start" fill="#000" dominant-baseline="central" stroke="#000" stroke-width="0.16">CA9</text>
<text x="10.67" y="0.00" font-family='"Liberation Serif", serif' font-size="6.00" font-weight="normal" font-style="normal" text-anchor="start" fill="#000" dominant-baseline="central" stroke="#000" stroke-width="0.16"> low</text>
</g>
<g transform="translate(449.30,185.60) scale(0.9043,1)">
<text x="0.00" y="0.00" font-family='"Liberation Serif", serif' font-size="5.90" font-weight="normal" font-style="normal" text-anchor="start" fill="#000" dominant-baseline="central" stroke="#000" stroke-width="0.16">(n = 547)</text>
</g>
<g transform="translate(404.00,179.00) scale(1.0149,1)">
<text x="0.00" y="0.00" font-family='"Liberation Serif", serif' font-size="6.20" font-weight="normal" font-style="italic" text-anchor="start" fill="#000" dominant-baseline="central" stroke="#000" stroke-width="0.16">group</text>
</g>
<g transform="translate(340.30,202.30) scale(1.0669,1)">
<text x="0.00" y="0.00" font-family='"Liberation Sans", sans-serif' font-size="5.50" font-weight="normal" font-style="normal" text-anchor="start" fill="#000" dominant-baseline="central" >log</text>
<text x="7.34" y="1.65" font-family='"Liberation Sans", sans-serif' font-size="3.30" font-weight="normal" font-style="normal" text-anchor="start" fill="#000" dominant-baseline="central" >e</text>
<text x="9.17" y="0.00" font-family='"Liberation Sans", sans-serif' font-size="5.50" font-weight="normal" font-style="normal" text-anchor="start" fill="#000" dominant-baseline="central" >(BF</text>
<text x="18.03" y="1.65" font-family='"Liberation Sans", sans-serif' font-size="3.30" font-weight="normal" font-style="normal" text-anchor="start" fill="#000" dominant-baseline="central" >01</text>
<text x="21.71" y="0.00" font-family='"Liberation Sans", sans-serif' font-size="5.50" font-weight="normal" font-style="normal" text-anchor="start" fill="#000" dominant-baseline="central" >) = -2.01, </text>
<text x="45.40" y="0.00" font-family='"Liberation Sans", sans-serif' font-size="5.50" font-weight="normal" font-style="italic" text-anchor="start" fill="#000" dominant-baseline="central" >V&#770;</text>
<text x="49.07" y="-2.20" font-family='"Liberation Sans", sans-serif' font-size="3.03" font-weight="normal" font-style="normal" text-anchor="start" fill="#000" dominant-baseline="central" >posterior</text>
<text x="49.07" y="1.92" font-family='"Liberation Sans", sans-serif' font-size="3.03" font-weight="normal" font-style="normal" text-anchor="start" fill="#000" dominant-baseline="central" >Cramer</text>
<text x="60.84" y="0.00" font-family='"Liberation Sans", sans-serif' font-size="5.50" font-weight="normal" font-style="normal" text-anchor="start" fill="#000" dominant-baseline="central" > = 0.15, CI</text>
<text x="86.36" y="-2.20" font-family='"Liberation Sans", sans-serif' font-size="3.03" font-weight="normal" font-style="normal" text-anchor="start" fill="#000" dominant-baseline="central" >HDI</text>
<text x="86.36" y="1.92" font-family='"Liberation Sans", sans-serif' font-size="3.03" font-weight="normal" font-style="normal" text-anchor="start" fill="#000" dominant-baseline="central" >95%</text>
<text x="91.57" y="0.00" font-family='"Liberation Sans", sans-serif' font-size="5.50" font-weight="normal" font-style="normal" text-anchor="start" fill="#000" dominant-baseline="central" > [0.09, 0.20], </text>
<text x="123.68" y="0.00" font-family='"Liberation Sans", sans-serif' font-size="5.50" font-weight="normal" font-style="italic" text-anchor="start" fill="#000" dominant-baseline="central" >a</text>
<text x="126.74" y="1.65" font-family='"Liberation Sans", sans-serif' font-size="3.03" font-weight="normal" font-style="normal" text-anchor="start" fill="#000" dominant-baseline="central" >Gunel-Dickey</text>
<text x="144.89" y="0.00" font-family='"Liberation Sans", sans-serif' font-size="5.50" font-weight="normal" font-style="normal" text-anchor="start" fill="#000" dominant-baseline="central" > = 1.00</text>
</g>
<text x="519.00" y="88.00" font-family='"Liberation Sans", sans-serif' font-size="4.80" font-weight="bold" font-style="normal" text-anchor="start" fill="#000" dominant-baseline="central" >Stage</text>
<rect x="519.2" y="92.90" width="7" height="7" fill="#E64B35" stroke="#222" stroke-width="0.4"/>
<text x="528.60" y="96.50" font-family='"Liberation Sans", sans-serif' font-size="4.60" font-weight="normal" font-style="normal" text-anchor="start" fill="#222" dominant-baseline="central" >Stage X</text>
<rect x="519.2" y="100.45" width="7" height="7" fill="#4DBBD5" stroke="#222" stroke-width="0.4"/>
<text x="528.60" y="104.05" font-family='"Liberation Sans", sans-serif' font-size="4.60" font-weight="normal" font-style="normal" text-anchor="start" fill="#222" dominant-baseline="central" >Stage IV</text>
<rect x="519.2" y="108.00" width="7" height="7" fill="#00A087" stroke="#222" stroke-width="0.4"/>
<text x="528.60" y="111.60" font-family='"Liberation Sans", sans-serif' font-size="4.60" font-weight="normal" font-style="normal" text-anchor="start" fill="#222" dominant-baseline="central" >Stage III</text>
<rect x="519.2" y="115.55" width="7" height="7" fill="#3C5488" stroke="#222" stroke-width="0.4"/>
<text x="528.60" y="119.15" font-family='"Liberation Sans", sans-serif' font-size="4.60" font-weight="normal" font-style="normal" text-anchor="start" fill="#222" dominant-baseline="central" >Stage II</text>
<rect x="519.2" y="123.10" width="7" height="7" fill="#F39B7F" stroke="#222" stroke-width="0.4"/>
<text x="528.60" y="126.70" font-family='"Liberation Sans", sans-serif' font-size="4.60" font-weight="normal" font-style="normal" text-anchor="start" fill="#222" dominant-baseline="central" >Stage I</text>
<text x="9.70" y="235.60" font-family='"Liberation Serif", serif' font-size="14.00" font-weight="bold" font-style="normal" text-anchor="start" fill="#000" dominant-baseline="central" >C</text>
<line x1="32.5" x2="266.5" y1="395.10" y2="395.10" stroke="#efefef" stroke-width="0.6"/>
<line x1="32.5" x2="266.5" y1="373.40" y2="373.40" stroke="#e4e4e4" stroke-width="0.6"/>
<line x1="32.5" x2="266.5" y1="351.70" y2="351.70" stroke="#efefef" stroke-width="0.6"/>
<line x1="32.5" x2="266.5" y1="330.00" y2="330.00" stroke="#e4e4e4" stroke-width="0.6"/>
<line x1="32.5" x2="266.5" y1="308.30" y2="308.30" stroke="#efefef" stroke-width="0.6"/>
<line x1="32.5" x2="266.5" y1="286.60" y2="286.60" stroke="#e4e4e4" stroke-width="0.6"/>
<line x1="32.5" x2="266.5" y1="264.90" y2="264.90" stroke="#efefef" stroke-width="0.6"/>
<line x1="30.8" x2="32.5" y1="373.40" y2="373.40" stroke="#444" stroke-width="0.4"/>
<text x="30.20" y="373.40" font-family='"Liberation Sans", sans-serif' font-size="5.20" font-weight="normal" font-style="normal" text-anchor="end" fill="#333" dominant-baseline="central" >40</text>
<line x1="30.8" x2="32.5" y1="330.00" y2="330.00" stroke="#444" stroke-width="0.4"/>
<text x="30.20" y="330.00" font-family='"Liberation Sans", sans-serif' font-size="5.20" font-weight="normal" font-style="normal" text-anchor="end" fill="#333" dominant-baseline="central" >60</text>
<line x1="30.8" x2="32.5" y1="286.60" y2="286.60" stroke="#444" stroke-width="0.4"/>
<text x="30.20" y="286.60" font-family='"Liberation Sans", sans-serif' font-size="5.20" font-weight="normal" font-style="normal" text-anchor="end" fill="#333" dominant-baseline="central" >80</text>
<text x="17.8" y="334" font-family='"Liberation Sans", sans-serif' font-size="5.3" font-style="italic" text-anchor="middle" dominant-baseline="central" transform="rotate(-90 17.8 334)">age</text>
<text x="19.00" y="253.40" font-family='"Liberation Sans", sans-serif' font-size="6.45" font-weight="normal" font-style="italic" text-anchor="start" fill="#000" dominant-baseline="central" >t</text>
<text x="20.79" y="255.46" font-family='"Liberation Sans", sans-serif' font-size="4.00" font-weight="normal" font-style="italic" text-anchor="start" fill="#000" dominant-baseline="central" >Welch</text>
<text x="31.83" y="253.40" font-family='"Liberation Sans", sans-serif' font-size="6.45" font-weight="normal" font-style="normal" text-anchor="start" fill="#000" dominant-baseline="central" >(1097.47) = -1.89, </text>
<text x="85.09" y="253.40" font-family='"Liberation Sans", sans-serif' font-size="6.45" font-weight="normal" font-style="italic" text-anchor="start" fill="#000" dominant-baseline="central" >p</text>
<text x="88.68" y="253.40" font-family='"Liberation Sans", sans-serif' font-size="6.45" font-weight="normal" font-style="normal" text-anchor="start" fill="#000" dominant-baseline="central" > = 0.059, </text>
<text x="115.76" y="253.40" font-family='"Liberation Sans", sans-serif' font-size="6.45" font-weight="normal" font-style="italic" text-anchor="start" fill="#000" dominant-baseline="central" >g&#770;</text>
<text x="119.35" y="255.46" font-family='"Liberation Sans", sans-serif' font-size="4.00" font-weight="normal" font-style="normal" text-anchor="start" fill="#000" dominant-baseline="central" >Hedges</text>
<text x="133.13" y="253.40" font-family='"Liberation Sans", sans-serif' font-size="6.45" font-weight="normal" font-style="normal" text-anchor="start" fill="#000" dominant-baseline="central" > = -0.11, CI</text>
<text x="164.74" y="255.46" font-family='"Liberation Sans", sans-serif' font-size="4.00" font-weight="normal" font-style="normal" text-anchor="start" fill="#000" dominant-baseline="central" >95%</text>
<text x="172.75" y="253.40" font-family='"Liberation Sans", sans-serif' font-size="6.45" font-weight="normal" font-style="normal" text-anchor="start" fill="#000" dominant-baseline="central" > [-0.23, 4.46e-03], </text>
<text x="225.47" y="253.40" font-family='"Liberation Sans", sans-serif' font-size="6.45" font-weight="normal" font-style="italic" text-anchor="start" fill="#000" dominant-baseline="central" >n</text>
<text x="229.06" y="255.46" font-family='"Liberation Sans", sans-serif' font-size="4.00" font-weight="normal" font-style="normal" text-anchor="start" fill="#000" dominant-baseline="central" >obs</text>
<text x="235.50" y="253.40" font-family='"Liberation Sans", sans-serif' font-size="6.45" font-weight="normal" font-style="normal" text-anchor="start" fill="#000" dominant-baseline="central" > = 1,100</text>
<path d="M87.3 311.2a1.2 1.2 0 1 0 2.4 0a1.2 1.2 0 1 0 -2.4 0M87.5 370.2a1.2 1.2 0 1 0 2.4 0a1.2 1.2 0 1 0 -2.4 0M84.9 333.0a1.2 1.2 0 1 0 2.4 0a1.2 1.2 0 1 0 -2.4 0M93.4 318.5a1.2 1.2 0 1 0 2.4 0a1.2 1.2 0 1 0 -2.4 0M102.9 340.1a1.2 1.2 0 1 0 2.4 0a1.2 1.2 0 1 0 -2.4 0M98.8 323.6a1.2 1.2 0 1 0 2.4 0a1.2 1.2 0 1 0 -2.4 0M84.8 361.5a1.2 1.2 0 1 0 2.4 0a1.2 1.2 0 1 0 -2.4 0M83.7 375.5a1.2 1.2 0 1 0 2.4 0a1.2 1.2 0 1 0 -2.4 0M87.4 353.3a1.2 1.2 0 1 0 2.4 0a1.2 1.2 0 1 0 -2.4 0M84.7 304.7a1.2 1.2 0 1 0 2.4 0a1.2 1.2 0 1 0 -2.4 0M84.2 308.1a1.2 1.2 0 1 0 2.4 0a1.2 1.2 0 1 0 -2.4 0M97.5 348.4a1.2 1.2 0 1 0 2.4 0a1.2 1.2 0 1 0 -2.4 0M88.1 303.4a1.2 1.2 0 1 0 2.4 0a1.2 1.2 0 1 0 -2.4 0M93.8 344.9a1.2 1.2 0 1 0 2.4 0a1.2 1.2 0 1 0 -2.4 0M88.1 295.0a1.2 1.2 0 1 0 2.4 0a1.2 1.2 0 1 0 -2.4 0M103.3 323.0a1.2 1.2 0 1 0 2.4 0a1.2 1.2 0 1 0 -2.4 0M94.4 348.3a1.2 1.2 0 1 0 2.4 0a1.2 1.2 0 1 0 -2.4 0M84.2 314.5a1.2 1.2 0 1 0 2.4 0a1.2 1.2 0 1 0 -2.4 0M98.6 357.1a1.2 1.2 0 1 0 2.4 0a1.2 1.2 0 1 0 -2.4 0M87.5 361.4a1.2 1.2 0 1 0 2.4 0a1.2 1.2 0 1 0 -2.4 0M91.3 375.4a1.2 1.2 0 1 0 2.4 0a1.2 1.2 0 1 0 -2.4 0M87.5 329.1a1.2 1.2 0 1 0 2.4 0a1.2 1.2 0 1 0 -2.4 0M92.1 337.5a1.2 1.2 0 1 0 2.4 0a1.2 1.2 0 1 0 -2.4 0M87.9 338.2a1.2 1.2 0 1 0 2.4 0a1.2 1.2 0 1 0 -2.4 0M88.2 347.2a1.2 1.2 0 1 0 2.4 0a1.2 1.2 0 1 0 -2.4 0M84.6 297.1a1.2 1.2 0 1 0 2.4 0a1.2 1.2 0 1 0 -2.4 0M102.7 347.6a1.2 1.2 0 1 0 2.4 0a1.2 1.2 0 1 0 -2.4 0M85.7 355.7a1.2 1.2 0 1 0 2.4 0a1.2 1.2 0 1 0 -2.4 0M87.4 302.3a1.2 1.2 0 1 0 2.4 0a1.2 1.2 0 1 0 -2.4 0M90.3 297.5a1.2 1.2 0 1 0 2.4 0a1.2 1.2 0 1 0 -2.4 0M83.7 326.9a1.2 1.2 0 1 0 2.4 0a1.2 1.2 0 1 0 -2.4 0M86.2 383.3a1.2 1.2 0 1 0 2.4 0a1.2 1.2 0 1 0 -2.4 0M90.2 352.3a1.2 1.2 0 1 0 2.4 0a1.2 1.2 0 1 0 -2.4 0M94.2 319.5a1.2 1.2 0 1 0 2.4 0a1.2 1.2 0 1 0 -2.4 0M93.1 335.6a1.2 1.2 0 1 0 2.4 0a1.2 1.2 0 1 0 -2.4 0M89.3 293.9a1.2 1.2 0 1 0 2.4 0a1.2 1.2 0 1 0 -2.4 0M96.3 373.2a1.2 1.2 0 1 0 2.4 0a1.2 1.2 0 1 0 -2.4 0M97.9 317.7a1.2 1.2 0 1 0 2.4 0a1.2 1.2 0 1 0 -2.4 0M87.0 353.1a1.2 1.2 0 1 0 2.4 0a1.2 1.2 0 1 0 -2.4 0M86.4 300.2a1.2 1.2 0 1 0 2.4 0a1.2 1.2 0 1 0 -2.4 0M95.1 338.1a1.2 1.2 0 1 0 2.4 0a1.2 1.2 0 1 0 -2.4 0M90.3 308.1a1.2 1.2 0 1 0 2.4 0a1.2 1.2 0 1 0 -2.4 0M99.8 353.6a1.2 1.2 0 1 0 2.4 0a1.2 1.2 0 1 0 -2.4 0M81.2 374.3a1.2 1.2 0 1 0 2.4 0a1.2 1.2 0 1 0 -2.4 0M93.2 366.2a1.2 1.2 0 1 0 2.4 0a1.2 1.2 0 1 0 -2.4 0M88.9 352.5a1.2 1.2 0 1 0 2.4 0a1.2 1.2 0 1 0 -2.4 0M85.8 363.9a1.2 1.2 0 1 0 2.4 0a1.2 1.2 0 1 0 -2.4 0M100.6 303.5a1.2 1.2 0 1 0 2.4 0a1.2 1.2 0 1 0 -2.4 0M85.9 299.8a1.2 1.2 0 1 0 2.4 0a1.2 1.2 0 1 0 -2.4 0M98.8 328.7a1.2 1.2 0 1 0 2.4 0a1.2 1.2 0 1 0 -2.4 0M100.3 294.5a1.2 1.2 0 1 0 2.4 0a1.2 1.2 0 1 0 -2.4 0M102.9 339.3a1.2 1.2 0 1 0 2.4 0a1.2 1.2 0 1 0 -2.4 0M83.6 354.7a1.2 1.2 0 1 0 2.4 0a1.2 1.2 0 1 0 -2.4 0M84.5 296.6a1.2 1.2 0 1 0 2.4 0a1.2 1.2 0 1 0 -2.4 0M82.9 327.5a1.2 1.2 0 1 0 2.4 0a1.2 1.2 0 1 0 -2.4 0M88.2 387.2a1.2 1.2 0 1 0 2.4 0a1.2 1.2 0 1 0 -2.4 0M101.5 346.9a1.2 1.2 0 1 0 2.4 0a1.2 1.2 0 1 0 -2.4 0M95.5 390.6a1.2 1.2 0 1 0 2.4 0a1.2 1.2 0 1 0 -2.4 0M84.5 357.0a1.2 1.2 0 1 0 2.4 0a1.2 1.2 0 1 0 -2.4 0M83.4 366.4a1.2 1.2 0 1 0 2.4 0a1.2 1.2 0 1 0 -2.4 0M97.9 321.5a1.2 1.2 0 1 0 2.4 0a1.2 1.2 0 1 0 -2.4 0M95.1 333.5a1.2 1.2 0 1 0 2.4 0a1.2 1.2 0 1 0 -2.4 0M81.1 357.8a1.2 1.2 0 1 0 2.4 0a1.2 1.2 0 1 0 -2.4 0M94.3 346.6a1.2 1.2 0 1 0 2.4 0a1.2 1.2 0 1 0 -2.4 0M85.3 293.6a1.2 1.2 0 1 0 2.4 0a1.2 1.2 0 1 0 -2.4 0M87.6 362.1a1.2 1.2 0 1 0 2.4 0a1.2 1.2 0 1 0 -2.4 0M83.3 361.0a1.2 1.2 0 1 0 2.4 0a1.2 1.2 0 1 0 -2.4 0M103.4 342.3a1.2 1.2 0 1 0 2.4 0a1.2 1.2 0 1 0 -2.4 0M91.3 355.0a1.2 1.2 0 1 0 2.4 0a1.2 1.2 0 1 0 -2.4 0M94.9 347.7a1.2 1.2 0 1 0 2.4 0a1.2 1.2 0 1 0 -2.4 0M85.6 321.7a1.2 1.2 0 1 0 2.4 0a1.2 1.2 0 1 0 -2.4 0M89.5 289.1a1.2 1.2 0 1 0 2.4 0a1.2 1.2 0 1 0 -2.4 0M95.6 384.3a1.2 1.2 0 1 0 2.4 0a1.2 1.2 0 1 0 -2.4 0M97.9 336.6a1.2 1.2 0 1 0 2.4 0a1.2 1.2 0 1 0 -2.4 0M101.5 335.0a1.2 1.2 0 1 0 2.4 0a1.2 1.2 0 1 0 -2.4 0M86.6 338.4a1.2 1.2 0 1 0 2.4 0a1.2 1.2 0 1 0 -2.4 0M86.4 341.2a1.2 1.2 0 1 0 2.4 0a1.2 1.2 0 1 0 -2.4 0M90.1 345.3a1.2 1.2 0 1 0 2.4 0a1.2 1.2 0 1 0 -2.4 0M88.0 308.8a1.2 1.2 0 1 0 2.4 0a1.2 1.2 0 1 0 -2.4 0M99.5 348.7a1.2 1.2 0 1 0 2.4 0a1.2 1.2 0 1 0 -2.4 0M89.4 339.5a1.2 1.2 0 1 0 2.4 0a1.2 1.2 0 1 0 -2.4 0M89.4 336.1a1.2 1.2 0 1 0 2.4 0a1.2 1.2 0 1 0 -2.4 0M92.4 333.2a1.2 1.2 0 1 0 2.4 0a1.2 1.2 0 1 0 -2.4 0M93.7 340.7a1.2 1.2 0 1 0 2.4 0a1.2 1.2 0 1 0 -2.4 0M89.0 309.0a1.2 1.2 0 1 0 2.4 0a1.2 1.2 0 1 0 -2.4 0M81.2 336.3a1.2 1.2 0 1 0 2.4 0a1.2 1.2 0 1 0 -2.4 0M97.6 331.4a1.2 1.2 0 1 0 2.4 0a1.2 1.2 0 1 0 -2.4 0M83.6 337.5a1.2 1.2 0 1 0 2.4 0a1.2 1.2 0 1 0 -2.4 0M100.3 363.3a1.2 1.2 0 1 0 2.4 0a1.2 1.2 0 1 0 -2.4 0M86.6 358.6a1.2 1.2 0 1 0 2.4 0a1.2 1.2 0 1 0 -2.4 0M86.8 326.5a1.2 1.2 0 1 0 2.4 0a1.2 1.2 0 1 0 -2.4 0M93.1 330.9a1.2 1.2 0 1 0 2.4 0a1.2 1.2 0 1 0 -2.4 0M101.5 355.4a1.2 1.2 0 1 0 2.4 0a1.2 1.2 0 1 0 -2.4 0M89.6 364.9a1.2 1.2 0 1 0 2.4 0a1.2 1.2 0 1 0 -2.4 0M91.9 329.6a1.2 1.2 0 1 0 2.4 0a1.2 1.2 0 1 0 -2.4 0M90.4 321.8a1.2 1.2 0 1 0 2.4 0a1.2 1.2 0 1 0 -2.4 0M83.5 383.8a1.2 1.2 0 1 0 2.4 0a1.2 1.2 0 1 0 -2.4 0M87.5 290.2a1.2 1.2 0 1 0 2.4 0a1.2 1.2 0 1 0 -2.4 0M101.7 335.2a1.2 1.2 0 1 0 2.4 0a1.2 1.2 0 1 0 -2.4 0M102.2 338.9a1.2 1.2 0 1 0 2.4 0a1.2 1.2 0 1 0 -2.4 0M86.8 336.3a1.2 1.2 0 1 0 2.4 0a1.2 1.2 0 1 0 -2.4 0M101.8 334.2a1.2 1.2 0 1 0 2.4 0a1.2 1.2 0 1 0 -2.4 0M81.4 352.5a1.2 1.2 0 1 0 2.4 0a1.2 1.2 0 1 0 -2.4 0M97.2 276.5a1.2 1.2 0 1 0 2.4 0a1.2 1.2 0 1 0 -2.4 0M81.6 365.2a1.2 1.2 0 1 0 2.4 0a1.2 1.2 0 1 0 -2.4 0M90.6 338.7a1.2 1.2 0 1 0 2.4 0a1.2 1.2 0 1 0 -2.4 0M90.3 313.1a1.2 1.2 0 1 0 2.4 0a1.2 1.2 0 1 0 -2.4 0M90.8 365.1a1.2 1.2 0 1 0 2.4 0a1.2 1.2 0 1 0 -2.4 0M102.3 338.8a1.2 1.2 0 1 0 2.4 0a1.2 1.2 0 1 0 -2.4 0M89.0 325.6a1.2 1.2 0 1 0 2.4 0a1.2 1.2 0 1 0 -2.4 0M81.4 270.9a1.2 1.2 0 1 0 2.4 0a1.2 1.2 0 1 0 -2.4 0M83.5 360.3a1.2 1.2 0 1 0 2.4 0a1.2 1.2 0 1 0 -2.4 0M97.9 337.4a1.2 1.2 0 1 0 2.4 0a1.2 1.2 0 1 0 -2.4 0M83.9 318.2a1.2 1.2 0 1 0 2.4 0a1.2 1.2 0 1 0 -2.4 0M82.3 319.1a1.2 1.2 0 1 0 2.4 0a1.2 1.2 0 1 0 -2.4 0M85.4 368.7a1.2 1.2 0 1 0 2.4 0a1.2 1.2 0 1 0 -2.4 0M103.1 325.0a1.2 1.2 0 1 0 2.4 0a1.2 1.2 0 1 0 -2.4 0M91.0 333.2a1.2 1.2 0 1 0 2.4 0a1.2 1.2 0 1 0 -2.4 0M84.3 324.0a1.2 1.2 0 1 0 2.4 0a1.2 1.2 0 1 0 -2.4 0M95.9 305.4a1.2 1.2 0 1 0 2.4 0a1.2 1.2 0 1 0 -2.4 0M89.5 308.6a1.2 1.2 0 1 0 2.4 0a1.2 1.2 0 1 0 -2.4 0M93.5 325.0a1.2 1.2 0 1 0 2.4 0a1.2 1.2 0 1 0 -2.4 0M103.5 327.7a1.2 1.2 0 1 0 2.4 0a1.2 1.2 0 1 0 -2.4 0M96.8 365.9a1.2 1.2 0 1 0 2.4 0a1.2 1.2 0 1 0 -2.4 0M93.1 339.7a1.2 1.2 0 1 0 2.4 0a1.2 1.2 0 1 0 -2.4 0M103.6 330.1a1.2 1.2 0 1 0 2.4 0a1.2 1.2 0 1 0 -2.4 0M92.4 347.0a1.2 1.2 0 1 0 2.4 0a1.2 1.2 0 1 0 -2.4 0M91.2 333.4a1.2 1.2 0 1 0 2.4 0a1.2 1.2 0 1 0 -2.4 0M100.2 324.3a1.2 1.2 0 1 0 2.4 0a1.2 1.2 0 1 0 -2.4 0M102.7 294.5a1.2 1.2 0 1 0 2.4 0a1.2 1.2 0 1 0 -2.4 0M97.3 277.7a1.2 1.2 0 1 0 2.4 0a1.2 1.2 0 1 0 -2.4 0M89.3 346.6a1.2 1.2 0 1 0 2.4 0a1.2 1.2 0 1 0 -2.4 0M90.1 325.2a1.2 1.2 0 1 0 2.4 0a1.2 1.2 0 1 0 -2.4 0M81.2 342.4a1.2 1.2 0 1 0 2.4 0a1.2 1.2 0 1 0 -2.4 0M86.4 346.5a1.2 1.2 0 1 0 2.4 0a1.2 1.2 0 1 0 -2.4 0M98.6 324.3a1.2 1.2 0 1 0 2.4 0a1.2 1.2 0 1 0 -2.4 0M92.0 334.0a1.2 1.2 0 1 0 2.4 0a1.2 1.2 0 1 0 -2.4 0M100.4 342.1a1.2 1.2 0 1 0 2.4 0a1.2 1.2 0 1 0 -2.4 0M96.1 332.7a1.2 1.2 0 1 0 2.4 0a1.2 1.2 0 1 0 -2.4 0M93.8 363.2a1.2 1.2 0 1 0 2.4 0a1.2 1.2 0 1 0 -2.4 0M99.2 287.8a1.2 1.2 0 1 0 2.4 0a1.2 1.2 0 1 0 -2.4 0M92.3 355.4a1.2 1.2 0 1 0 2.4 0a1.2 1.2 0 1 0 -2.4 0M96.1 321.6a1.2 1.2 0 1 0 2.4 0a1.2 1.2 0 1 0 -2.4 0M92.1 332.6a1.2 1.2 0 1 0 2.4 0a1.2 1.2 0 1 0 -2.4 0M89.0 306.4a1.2 1.2 0 1 0 2.4 0a1.2 1.2 0 1 0 -2.4 0M98.3 336.5a1.2 1.2 0 1 0 2.4 0a1.2 1.2 0 1 0 -2.4 0M82.6 308.3a1.2 1.2 0 1 0 2.4 0a1.2 1.2 0 1 0 -2.4 0M103.1 361.1a1.2 1.2 0 1 0 2.4 0a1.2 1.2 0 1 0 -2.4 0M102.7 319.5a1.2 1.2 0 1 0 2.4 0a1.2 1.2 0 1 0 -2.4 0M99.8 342.2a1.2 1.2 0 1 0 2.4 0a1.2 1.2 0 1 0 -2.4 0M91.6 330.8a1.2 1.2 0 1 0 2.4 0a1.2 1.2 0 1 0 -2.4 0M91.2 334.1a1.2 1.2 0 1 0 2.4 0a1.2 1.2 0 1 0 -2.4 0M90.1 310.7a1.2 1.2 0 1 0 2.4 0a1.2 1.2 0 1 0 -2.4 0M91.4 390.9a1.2 1.2 0 1 0 2.4 0a1.2 1.2 0 1 0 -2.4 0M86.0 327.3a1.2 1.2 0 1 0 2.4 0a1.2 1.2 0 1 0 -2.4 0M99.1 376.6a1.2 1.2 0 1 0 2.4 0a1.2 1.2 0 1 0 -2.4 0M100.9 303.3a1.2 1.2 0 1 0 2.4 0a1.2 1.2 0 1 0 -2.4 0M92.3 332.9a1.2 1.2 0 1 0 2.4 0a1.2 1.2 0 1 0 -2.4 0M100.3 363.3a1.2 1.2 0 1 0 2.4 0a1.2 1.2 0 1 0 -2.4 0M87.6 351.0a1.2 1.2 0 1 0 2.4 0a1.2 1.2 0 1 0 -2.4 0M100.4 291.6a1.2 1.2 0 1 0 2.4 0a1.2 1.2 0 1 0 -2.4 0M103.0 371.0a1.2 1.2 0 1 0 2.4 0a1.2 1.2 0 1 0 -2.4 0M96.2 333.0a1.2 1.2 0 1 0 2.4 0a1.2 1.2 0 1 0 -2.4 0M102.8 354.9a1.2 1.2 0 1 0 2.4 0a1.2 1.2 0 1 0 -2.4 0M97.4 384.9a1.2 1.2 0 1 0 2.4 0a1.2 1.2 0 1 0 -2.4 0M96.7 345.2a1.2 1.2 0 1 0 2.4 0a1.2 1.2 0 1 0 -2.4 0M91.7 348.6a1.2 1.2 0 1 0 2.4 0a1.2 1.2 0 1 0 -2.4 0M82.4 341.1a1.2 1.2 0 1 0 2.4 0a1.2 1.2 0 1 0 -2.4 0M83.8 310.5a1.2 1.2 0 1 0 2.4 0a1.2 1.2 0 1 0 -2.4 0M99.7 345.9a1.2 1.2 0 1 0 2.4 0a1.2 1.2 0 1 0 -2.4 0M85.1 335.9a1.2 1.2 0 1 0 2.4 0a1.2 1.2 0 1 0 -2.4 0M96.5 275.0a1.2 1.2 0 1 0 2.4 0a1.2 1.2 0 1 0 -2.4 0M84.6 326.8a1.2 1.2 0 1 0 2.4 0a1.2 1.2 0 1 0 -2.4 0M98.1 284.6a1.2 1.2 0 1 0 2.4 0a1.2 1.2 0 1 0 -2.4 0M102.6 313.1a1.2 1.2 0 1 0 2.4 0a1.2 1.2 0 1 0 -2.4 0M95.0 330.8a1.2 1.2 0 1 0 2.4 0a1.2 1.2 0 1 0 -2.4 0M81.9 352.9a1.2 1.2 0 1 0 2.4 0a1.2 1.2 0 1 0 -2.4 0M97.7 356.6a1.2 1.2 0 1 0 2.4 0a1.2 1.2 0 1 0 -2.4 0M91.8 296.4a1.2 1.2 0 1 0 2.4 0a1.2 1.2 0 1 0 -2.4 0M100.6 366.2a1.2 1.2 0 1 0 2.4 0a1.2 1.2 0 1 0 -2.4 0M84.4 360.8a1.2 1.2 0 1 0 2.4 0a1.2 1.2 0 1 0 -2.4 0M87.3 338.7a1.2 1.2 0 1 0 2.4 0a1.2 1.2 0 1 0 -2.4 0M101.8 347.6a1.2 1.2 0 1 0 2.4 0a1.2 1.2 0 1 0 -2.4 0M99.9 283.0a1.2 1.2 0 1 0 2.4 0a1.2 1.2 0 1 0 -2.4 0M101.5 365.6a1.2 1.2 0 1 0 2.4 0a1.2 1.2 0 1 0 -2.4 0M92.8 326.3a1.2 1.2 0 1 0 2.4 0a1.2 1.2 0 1 0 -2.4 0M96.2 316.7a1.2 1.2 0 1 0 2.4 0a1.2 1.2 0 1 0 -2.4 0M102.1 366.5a1.2 1.2 0 1 0 2.4 0a1.2 1.2 0 1 0 -2.4 0M95.9 353.6a1.2 1.2 0 1 0 2.4 0a1.2 1.2 0 1 0 -2.4 0M83.0 324.3a1.2 1.2 0 1 0 2.4 0a1.2 1.2 0 1 0 -2.4 0M84.5 291.9a1.2 1.2 0 1 0 2.4 0a1.2 1.2 0 1 0 -2.4 0M81.1 361.0a1.2 1.2 0 1 0 2.4 0a1.2 1.2 0 1 0 -2.4 0M83.5 378.9a1.2 1.2 0 1 0 2.4 0a1.2 1.2 0 1 0 -2.4 0M81.6 359.9a1.2 1.2 0 1 0 2.4 0a1.2 1.2 0 1 0 -2.4 0M89.7 294.7a1.2 1.2 0 1 0 2.4 0a1.2 1.2 0 1 0 -2.4 0M94.9 345.2a1.2 1.2 0 1 0 2.4 0a1.2 1.2 0 1 0 -2.4 0M100.5 396.1a1.2 1.2 0 1 0 2.4 0a1.2 1.2 0 1 0 -2.4 0M90.2 296.7a1.2 1.2 0 1 0 2.4 0a1.2 1.2 0 1 0 -2.4 0M84.6 341.5a1.2 1.2 0 1 0 2.4 0a1.2 1.2 0 1 0 -2.4 0M101.5 305.6a1.2 1.2 0 1 0 2.4 0a1.2 1.2 0 1 0 -2.4 0M101.7 337.3a1.2 1.2 0 1 0 2.4 0a1.2 1.2 0 1 0 -2.4 0M103.1 346.3a1.2 1.2 0 1 0 2.4 0a1.2 1.2 0 1 0 -2.4 0M81.5 348.3a1.2 1.2 0 1 0 2.4 0a1.2 1.2 0 1 0 -2.4 0M94.4 296.1a1.2 1.2 0 1 0 2.4 0a1.2 1.2 0 1 0 -2.4 0M95.3 297.2a1.2 1.2 0 1 0 2.4 0a1.2 1.2 0 1 0 -2.4 0M93.1 394.1a1.2 1.2 0 1 0 2.4 0a1.2 1.2 0 1 0 -2.4 0M85.2 361.5a1.2 1.2 0 1 0 2.4 0a1.2 1.2 0 1 0 -2.4 0M101.8 287.9a1.2 1.2 0 1 0 2.4 0a1.2 1.2 0 1 0 -2.4 0M93.1 346.0a1.2 1.2 0 1 0 2.4 0a1.2 1.2 0 1 0 -2.4 0M81.8 373.0a1.2 1.2 0 1 0 2.4 0a1.2 1.2 0 1 0 -2.4 0M88.8 336.0a1.2 1.2 0 1 0 2.4 0a1.2 1.2 0 1 0 -2.4 0M97.4 339.0a1.2 1.2 0 1 0 2.4 0a1.2 1.2 0 1 0 -2.4 0M85.6 338.7a1.2 1.2 0 1 0 2.4 0a1.2 1.2 0 1 0 -2.4 0M98.5 349.1a1.2 1.2 0 1 0 2.4 0a1.2 1.2 0 1 0 -2.4 0M85.7 344.5a1.2 1.2 0 1 0 2.4 0a1.2 1.2 0 1 0 -2.4 0M90.8 348.4a1.2 1.2 0 1 0 2.4 0a1.2 1.2 0 1 0 -2.4 0M87.6 281.8a1.2 1.2 0 1 0 2.4 0a1.2 1.2 0 1 0 -2.4 0M83.9 358.1a1.2 1.2 0 1 0 2.4 0a1.2 1.2 0 1 0 -2.4 0M101.0 343.9a1.2 1.2 0 1 0 2.4 0a1.2 1.2 0 1 0 -2.4 0M88.7 340.0a1.2 1.2 0 1 0 2.4 0a1.2 1.2 0 1 0 -2.4 0M98.0 300.7a1.2 1.2 0 1 0 2.4 0a1.2 1.2 0 1 0 -2.4 0M101.1 325.9a1.2 1.2 0 1 0 2.4 0a1.2 1.2 0 1 0 -2.4 0M87.4 339.1a1.2 1.2 0 1 0 2.4 0a1.2 1.2 0 1 0 -2.4 0M81.1 321.5a1.2 1.2 0 1 0 2.4 0a1.2 1.2 0 1 0 -2.4 0M92.9 309.7a1.2 1.2 0 1 0 2.4 0a1.2 1.2 0 1 0 -2.4 0M86.3 306.6a1.2 1.2 0 1 0 2.4 0a1.2 1.2 0 1 0 -2.4 0M100.8 384.9a1.2 1.2 0 1 0 2.4 0a1.2 1.2 0 1 0 -2.4 0M84.7 287.4a1.2 1.2 0 1 0 2.4 0a1.2 1.2 0 1 0 -2.4 0M97.3 299.6a1.2 1.2 0 1 0 2.4 0a1.2 1.2 0 1 0 -2.4 0M81.6 327.8a1.2 1.2 0 1 0 2.4 0a1.2 1.2 0 1 0 -2.4 0M87.1 347.3a1.2 1.2 0 1 0 2.4 0a1.2 1.2 0 1 0 -2.4 0M85.4 312.1a1.2 1.2 0 1 0 2.4 0a1.2 1.2 0 1 0 -2.4 0M100.3 322.1a1.2 1.2 0 1 0 2.4 0a1.2 1.2 0 1 0 -2.4 0M94.5 335.3a1.2 1.2 0 1 0 2.4 0a1.2 1.2 0 1 0 -2.4 0M95.9 376.1a1.2 1.2 0 1 0 2.4 0a1.2 1.2 0 1 0 -2.4 0M82.9 370.6a1.2 1.2 0 1 0 2.4 0a1.2 1.2 0 1 0 -2.4 0M88.0 326.6a1.2 1.2 0 1 0 2.4 0a1.2 1.2 0 1 0 -2.4 0M101.2 315.2a1.2 1.2 0 1 0 2.4 0a1.2 1.2 0 1 0 -2.4 0M94.9 314.3a1.2 1.2 0 1 0 2.4 0a1.2 1.2 0 1 0 -2.4 0M98.1 303.1a1.2 1.2 0 1 0 2.4 0a1.2 1.2 0 1 0 -2.4 0M92.3 347.3a1.2 1.2 0 1 0 2.4 0a1.2 1.2 0 1 0 -2.4 0M85.6 343.0a1.2 1.2 0 1 0 2.4 0a1.2 1.2 0 1 0 -2.4 0M101.7 325.5a1.2 1.2 0 1 0 2.4 0a1.2 1.2 0 1 0 -2.4 0M87.0 324.8a1.2 1.2 0 1 0 2.4 0a1.2 1.2 0 1 0 -2.4 0M84.8 357.8a1.2 1.2 0 1 0 2.4 0a1.2 1.2 0 1 0 -2.4 0M95.7 352.1a1.2 1.2 0 1 0 2.4 0a1.2 1.2 0 1 0 -2.4 0M82.9 392.3a1.2 1.2 0 1 0 2.4 0a1.2 1.2 0 1 0 -2.4 0M98.3 360.9a1.2 1.2 0 1 0 2.4 0a1.2 1.2 0 1 0 -2.4 0M97.1 385.0a1.2 1.2 0 1 0 2.4 0a1.2 1.2 0 1 0 -2.4 0M89.7 324.2a1.2 1.2 0 1 0 2.4 0a1.2 1.2 0 1 0 -2.4 0M92.6 334.4a1.2 1.2 0 1 0 2.4 0a1.2 1.2 0 1 0 -2.4 0M92.0 311.3a1.2 1.2 0 1 0 2.4 0a1.2 1.2 0 1 0 -2.4 0M82.7 326.4a1.2 1.2 0 1 0 2.4 0a1.2 1.2 0 1 0 -2.4 0M82.8 353.3a1.2 1.2 0 1 0 2.4 0a1.2 1.2 0 1 0 -2.4 0M89.0 326.7a1.2 1.2 0 1 0 2.4 0a1.2 1.2 0 1 0 -2.4 0M81.1 346.7a1.2 1.2 0 1 0 2.4 0a1.2 1.2 0 1 0 -2.4 0M85.2 319.6a1.2 1.2 0 1 0 2.4 0a1.2 1.2 0 1 0 -2.4 0M89.3 327.5a1.2 1.2 0 1 0 2.4 0a1.2 1.2 0 1 0 -2.4 0M95.2 362.9a1.2 1.2 0 1 0 2.4 0a1.2 1.2 0 1 0 -2.4 0M92.7 336.0a1.2 1.2 0 1 0 2.4 0a1.2 1.2 0 1 0 -2.4 0M84.9 386.3a1.2 1.2 0 1 0 2.4 0a1.2 1.2 0 1 0 -2.4 0M98.2 344.4a1.2 1.2 0 1 0 2.4 0a1.2 1.2 0 1 0 -2.4 0M99.0 287.5a1.2 1.2 0 1 0 2.4 0a1.2 1.2 0 1 0 -2.4 0M96.0 289.6a1.2 1.2 0 1 0 2.4 0a1.2 1.2 0 1 0 -2.4 0M96.5 346.1a1.2 1.2 0 1 0 2.4 0a1.2 1.2 0 1 0 -2.4 0M86.7 345.6a1.2 1.2 0 1 0 2.4 0a1.2 1.2 0 1 0 -2.4 0M99.9 397.1a1.2 1.2 0 1 0 2.4 0a1.2 1.2 0 1 0 -2.4 0M94.2 339.6a1.2 1.2 0 1 0 2.4 0a1.2 1.2 0 1 0 -2.4 0M85.0 347.9a1.2 1.2 0 1 0 2.4 0a1.2 1.2 0 1 0 -2.4 0M96.5 394.7a1.2 1.2 0 1 0 2.4 0a1.2 1.2 0 1 0 -2.4 0M95.2 328.3a1.2 1.2 0 1 0 2.4 0a1.2 1.2 0 1 0 -2.4 0M93.9 320.0a1.2 1.2 0 1 0 2.4 0a1.2 1.2 0 1 0 -2.4 0M91.6 310.9a1.2 1.2 0 1 0 2.4 0a1.2 1.2 0 1 0 -2.4 0M98.3 346.2a1.2 1.2 0 1 0 2.4 0a1.2 1.2 0 1 0 -2.4 0M97.5 362.3a1.2 1.2 0 1 0 2.4 0a1.2 1.2 0 1 0 -2.4 0M94.3 315.4a1.2 1.2 0 1 0 2.4 0a1.2 1.2 0 1 0 -2.4 0M82.5 377.2a1.2 1.2 0 1 0 2.4 0a1.2 1.2 0 1 0 -2.4 0M86.2 344.6a1.2 1.2 0 1 0 2.4 0a1.2 1.2 0 1 0 -2.4 0M103.1 283.2a1.2 1.2 0 1 0 2.4 0a1.2 1.2 0 1 0 -2.4 0M90.1 268.7a1.2 1.2 0 1 0 2.4 0a1.2 1.2 0 1 0 -2.4 0M95.3 323.4a1.2 1.2 0 1 0 2.4 0a1.2 1.2 0 1 0 -2.4 0M84.0 340.1a1.2 1.2 0 1 0 2.4 0a1.2 1.2 0 1 0 -2.4 0M93.9 367.9a1.2 1.2 0 1 0 2.4 0a1.2 1.2 0 1 0 -2.4 0M94.8 337.0a1.2 1.2 0 1 0 2.4 0a1.2 1.2 0 1 0 -2.4 0M98.2 325.1a1.2 1.2 0 1 0 2.4 0a1.2 1.2 0 1 0 -2.4 0M102.9 363.8a1.2 1.2 0 1 0 2.4 0a1.2 1.2 0 1 0 -2.4 0M91.3 326.8a1.2 1.2 0 1 0 2.4 0a1.2 1.2 0 1 0 -2.4 0M88.1 302.3a1.2 1.2 0 1 0 2.4 0a1.2 1.2 0 1 0 -2.4 0M84.6 307.1a1.2 1.2 0 1 0 2.4 0a1.2 1.2 0 1 0 -2.4 0M88.6 379.0a1.2 1.2 0 1 0 2.4 0a1.2 1.2 0 1 0 -2.4 0M91.0 362.5a1.2 1.2 0 1 0 2.4 0a1.2 1.2 0 1 0 -2.4 0M102.8 379.8a1.2 1.2 0 1 0 2.4 0a1.2 1.2 0 1 0 -2.4 0M92.6 307.0a1.2 1.2 0 1 0 2.4 0a1.2 1.2 0 1 0 -2.4 0M96.3 319.5a1.2 1.2 0 1 0 2.4 0a1.2 1.2 0 1 0 -2.4 0M97.6 317.0a1.2 1.2 0 1 0 2.4 0a1.2 1.2 0 1 0 -2.4 0M81.3 359.9a1.2 1.2 0 1 0 2.4 0a1.2 1.2 0 1 0 -2.4 0M86.3 367.7a1.2 1.2 0 1 0 2.4 0a1.2 1.2 0 1 0 -2.4 0M93.2 334.0a1.2 1.2 0 1 0 2.4 0a1.2 1.2 0 1 0 -2.4 0M82.3 333.3a1.2 1.2 0 1 0 2.4 0a1.2 1.2 0 1 0 -2.4 0M84.4 359.2a1.2 1.2 0 1 0 2.4 0a1.2 1.2 0 1 0 -2.4 0M98.0 332.2a1.2 1.2 0 1 0 2.4 0a1.2 1.2 0 1 0 -2.4 0M96.2 318.6a1.2 1.2 0 1 0 2.4 0a1.2 1.2 0 1 0 -2.4 0M84.1 329.9a1.2 1.2 0 1 0 2.4 0a1.2 1.2 0 1 0 -2.4 0M83.7 364.3a1.2 1.2 0 1 0 2.4 0a1.2 1.2 0 1 0 -2.4 0M100.1 393.4a1.2 1.2 0 1 0 2.4 0a1.2 1.2 0 1 0 -2.4 0M91.7 287.0a1.2 1.2 0 1 0 2.4 0a1.2 1.2 0 1 0 -2.4 0M88.1 331.6a1.2 1.2 0 1 0 2.4 0a1.2 1.2 0 1 0 -2.4 0M97.3 343.1a1.2 1.2 0 1 0 2.4 0a1.2 1.2 0 1 0 -2.4 0M96.1 347.7a1.2 1.2 0 1 0 2.4 0a1.2 1.2 0 1 0 -2.4 0M103.5 351.7a1.2 1.2 0 1 0 2.4 0a1.2 1.2 0 1 0 -2.4 0M83.3 316.7a1.2 1.2 0 1 0 2.4 0a1.2 1.2 0 1 0 -2.4 0M98.4 337.5a1.2 1.2 0 1 0 2.4 0a1.2 1.2 0 1 0 -2.4 0M91.4 332.7a1.2 1.2 0 1 0 2.4 0a1.2 1.2 0 1 0 -2.4 0M86.6 362.4a1.2 1.2 0 1 0 2.4 0a1.2 1.2 0 1 0 -2.4 0M92.3 352.9a1.2 1.2 0 1 0 2.4 0a1.2 1.2 0 1 0 -2.4 0M81.5 331.6a1.2 1.2 0 1 0 2.4 0a1.2 1.2 0 1 0 -2.4 0M83.8 363.3a1.2 1.2 0 1 0 2.4 0a1.2 1.2 0 1 0 -2.4 0M83.5 370.2a1.2 1.2 0 1 0 2.4 0a1.2 1.2 0 1 0 -2.4 0M96.6 345.0a1.2 1.2 0 1 0 2.4 0a1.2 1.2 0 1 0 -2.4 0M97.0 303.5a1.2 1.2 0 1 0 2.4 0a1.2 1.2 0 1 0 -2.4 0M86.5 330.9a1.2 1.2 0 1 0 2.4 0a1.2 1.2 0 1 0 -2.4 0M87.9 296.5a1.2 1.2 0 1 0 2.4 0a1.2 1.2 0 1 0 -2.4 0M98.5 339.6a1.2 1.2 0 1 0 2.4 0a1.2 1.2 0 1 0 -2.4 0M89.8 344.5a1.2 1.2 0 1 0 2.4 0a1.2 1.2 0 1 0 -2.4 0M88.9 373.8a1.2 1.2 0 1 0 2.4 0a1.2 1.2 0 1 0 -2.4 0M102.4 351.7a1.2 1.2 0 1 0 2.4 0a1.2 1.2 0 1 0 -2.4 0M93.3 297.1a1.2 1.2 0 1 0 2.4 0a1.2 1.2 0 1 0 -2.4 0M93.2 327.2a1.2 1.2 0 1 0 2.4 0a1.2 1.2 0 1 0 -2.4 0M94.8 316.2a1.2 1.2 0 1 0 2.4 0a1.2 1.2 0 1 0 -2.4 0M81.9 317.0a1.2 1.2 0 1 0 2.4 0a1.2 1.2 0 1 0 -2.4 0M90.0 336.3a1.2 1.2 0 1 0 2.4 0a1.2 1.2 0 1 0 -2.4 0M98.8 341.6a1.2 1.2 0 1 0 2.4 0a1.2 1.2 0 1 0 -2.4 0M95.7 332.8a1.2 1.2 0 1 0 2.4 0a1.2 1.2 0 1 0 -2.4 0M101.1 317.9a1.2 1.2 0 1 0 2.4 0a1.2 1.2 0 1 0 -2.4 0M88.0 323.7a1.2 1.2 0 1 0 2.4 0a1.2 1.2 0 1 0 -2.4 0M91.7 322.7a1.2 1.2 0 1 0 2.4 0a1.2 1.2 0 1 0 -2.4 0M86.3 331.9a1.2 1.2 0 1 0 2.4 0a1.2 1.2 0 1 0 -2.4 0M85.2 357.0a1.2 1.2 0 1 0 2.4 0a1.2 1.2 0 1 0 -2.4 0M83.1 343.2a1.2 1.2 0 1 0 2.4 0a1.2 1.2 0 1 0 -2.4 0M85.5 361.6a1.2 1.2 0 1 0 2.4 0a1.2 1.2 0 1 0 -2.4 0M84.7 308.8a1.2 1.2 0 1 0 2.4 0a1.2 1.2 0 1 0 -2.4 0M90.9 393.1a1.2 1.2 0 1 0 2.4 0a1.2 1.2 0 1 0 -2.4 0M90.3 342.0a1.2 1.2 0 1 0 2.4 0a1.2 1.2 0 1 0 -2.4 0M98.3 271.3a1.2 1.2 0 1 0 2.4 0a1.2 1.2 0 1 0 -2.4 0M98.6 345.3a1.2 1.2 0 1 0 2.4 0a1.2 1.2 0 1 0 -2.4 0M93.2 366.9a1.2 1.2 0 1 0 2.4 0a1.2 1.2 0 1 0 -2.4 0M95.8 336.6a1.2 1.2 0 1 0 2.4 0a1.2 1.2 0 1 0 -2.4 0M91.6 301.1a1.2 1.2 0 1 0 2.4 0a1.2 1.2 0 1 0 -2.4 0M88.0 340.4a1.2 1.2 0 1 0 2.4 0a1.2 1.2 0 1 0 -2.4 0M92.4 319.4a1.2 1.2 0 1 0 2.4 0a1.2 1.2 0 1 0 -2.4 0M95.3 333.4a1.2 1.2 0 1 0 2.4 0a1.2 1.2 0 1 0 -2.4 0M102.6 346.2a1.2 1.2 0 1 0 2.4 0a1.2 1.2 0 1 0 -2.4 0M99.5 334.1a1.2 1.2 0 1 0 2.4 0a1.2 1.2 0 1 0 -2.4 0M82.5 350.6a1.2 1.2 0 1 0 2.4 0a1.2 1.2 0 1 0 -2.4 0M95.5 349.4a1.2 1.2 0 1 0 2.4 0a1.2 1.2 0 1 0 -2.4 0M83.1 325.8a1.2 1.2 0 1 0 2.4 0a1.2 1.2 0 1 0 -2.4 0M95.1 325.0a1.2 1.2 0 1 0 2.4 0a1.2 1.2 0 1 0 -2.4 0M100.2 342.0a1.2 1.2 0 1 0 2.4 0a1.2 1.2 0 1 0 -2.4 0M96.8 359.9a1.2 1.2 0 1 0 2.4 0a1.2 1.2 0 1 0 -2.4 0M83.7 374.9a1.2 1.2 0 1 0 2.4 0a1.2 1.2 0 1 0 -2.4 0M90.6 321.6a1.2 1.2 0 1 0 2.4 0a1.2 1.2 0 1 0 -2.4 0M85.4 344.5a1.2 1.2 0 1 0 2.4 0a1.2 1.2 0 1 0 -2.4 0M95.9 343.8a1.2 1.2 0 1 0 2.4 0a1.2 1.2 0 1 0 -2.4 0M97.1 376.3a1.2 1.2 0 1 0 2.4 0a1.2 1.2 0 1 0 -2.4 0M97.7 351.6a1.2 1.2 0 1 0 2.4 0a1.2 1.2 0 1 0 -2.4 0M89.1 355.8a1.2 1.2 0 1 0 2.4 0a1.2 1.2 0 1 0 -2.4 0M94.5 337.1a1.2 1.2 0 1 0 2.4 0a1.2 1.2 0 1 0 -2.4 0M85.7 375.5a1.2 1.2 0 1 0 2.4 0a1.2 1.2 0 1 0 -2.4 0M102.0 334.7a1.2 1.2 0 1 0 2.4 0a1.2 1.2 0 1 0 -2.4 0M102.2 332.7a1.2 1.2 0 1 0 2.4 0a1.2 1.2 0 1 0 -2.4 0M81.7 289.5a1.2 1.2 0 1 0 2.4 0a1.2 1.2 0 1 0 -2.4 0M93.7 353.0a1.2 1.2 0 1 0 2.4 0a1.2 1.2 0 1 0 -2.4 0M97.2 359.3a1.2 1.2 0 1 0 2.4 0a1.2 1.2 0 1 0 -2.4 0M86.2 311.5a1.2 1.2 0 1 0 2.4 0a1.2 1.2 0 1 0 -2.4 0M81.7 345.4a1.2 1.2 0 1 0 2.4 0a1.2 1.2 0 1 0 -2.4 0M81.0 381.1a1.2 1.2 0 1 0 2.4 0a1.2 1.2 0 1 0 -2.4 0M97.0 347.8a1.2 1.2 0 1 0 2.4 0a1.2 1.2 0 1 0 -2.4 0M81.3 313.1a1.2 1.2 0 1 0 2.4 0a1.2 1.2 0 1 0 -2.4 0M89.7 353.2a1.2 1.2 0 1 0 2.4 0a1.2 1.2 0 1 0 -2.4 0M99.0 332.3a1.2 1.2 0 1 0 2.4 0a1.2 1.2 0 1 0 -2.4 0M82.2 359.0a1.2 1.2 0 1 0 2.4 0a1.2 1.2 0 1 0 -2.4 0M97.0 283.5a1.2 1.2 0 1 0 2.4 0a1.2 1.2 0 1 0 -2.4 0M90.7 311.3a1.2 1.2 0 1 0 2.4 0a1.2 1.2 0 1 0 -2.4 0M89.8 305.5a1.2 1.2 0 1 0 2.4 0a1.2 1.2 0 1 0 -2.4 0M91.9 372.1a1.2 1.2 0 1 0 2.4 0a1.2 1.2 0 1 0 -2.4 0M89.0 365.9a1.2 1.2 0 1 0 2.4 0a1.2 1.2 0 1 0 -2.4 0M100.5 306.8a1.2 1.2 0 1 0 2.4 0a1.2 1.2 0 1 0 -2.4 0M96.1 341.3a1.2 1.2 0 1 0 2.4 0a1.2 1.2 0 1 0 -2.4 0M89.8 343.1a1.2 1.2 0 1 0 2.4 0a1.2 1.2 0 1 0 -2.4 0M83.7 382.1a1.2 1.2 0 1 0 2.4 0a1.2 1.2 0 1 0 -2.4 0M92.4 370.1a1.2 1.2 0 1 0 2.4 0a1.2 1.2 0 1 0 -2.4 0M103.6 315.1a1.2 1.2 0 1 0 2.4 0a1.2 1.2 0 1 0 -2.4 0M101.2 276.9a1.2 1.2 0 1 0 2.4 0a1.2 1.2 0 1 0 -2.4 0M82.5 323.1a1.2 1.2 0 1 0 2.4 0a1.2 1.2 0 1 0 -2.4 0M89.0 354.3a1.2 1.2 0 1 0 2.4 0a1.2 1.2 0 1 0 -2.4 0M91.6 322.2a1.2 1.2 0 1 0 2.4 0a1.2 1.2 0 1 0 -2.4 0M90.2 341.2a1.2 1.2 0 1 0 2.4 0a1.2 1.2 0 1 0 -2.4 0M83.5 310.2a1.2 1.2 0 1 0 2.4 0a1.2 1.2 0 1 0 -2.4 0M85.2 305.4a1.2 1.2 0 1 0 2.4 0a1.2 1.2 0 1 0 -2.4 0M93.1 311.3a1.2 1.2 0 1 0 2.4 0a1.2 1.2 0 1 0 -2.4 0M97.3 322.1a1.2 1.2 0 1 0 2.4 0a1.2 1.2 0 1 0 -2.4 0M97.2 318.9a1.2 1.2 0 1 0 2.4 0a1.2 1.2 0 1 0 -2.4 0M96.2 313.4a1.2 1.2 0 1 0 2.4 0a1.2 1.2 0 1 0 -2.4 0M96.2 343.5a1.2 1.2 0 1 0 2.4 0a1.2 1.2 0 1 0 -2.4 0M81.2 333.5a1.2 1.2 0 1 0 2.4 0a1.2 1.2 0 1 0 -2.4 0M85.9 343.8a1.2 1.2 0 1 0 2.4 0a1.2 1.2 0 1 0 -2.4 0M88.6 373.8a1.2 1.2 0 1 0 2.4 0a1.2 1.2 0 1 0 -2.4 0M86.8 350.7a1.2 1.2 0 1 0 2.4 0a1.2 1.2 0 1 0 -2.4 0M89.8 337.3a1.2 1.2 0 1 0 2.4 0a1.2 1.2 0 1 0 -2.4 0M90.0 297.6a1.2 1.2 0 1 0 2.4 0a1.2 1.2 0 1 0 -2.4 0M88.7 353.0a1.2 1.2 0 1 0 2.4 0a1.2 1.2 0 1 0 -2.4 0M81.2 360.6a1.2 1.2 0 1 0 2.4 0a1.2 1.2 0 1 0 -2.4 0M100.6 296.7a1.2 1.2 0 1 0 2.4 0a1.2 1.2 0 1 0 -2.4 0M102.6 361.0a1.2 1.2 0 1 0 2.4 0a1.2 1.2 0 1 0 -2.4 0M94.9 279.8a1.2 1.2 0 1 0 2.4 0a1.2 1.2 0 1 0 -2.4 0M87.2 334.7a1.2 1.2 0 1 0 2.4 0a1.2 1.2 0 1 0 -2.4 0M91.2 360.0a1.2 1.2 0 1 0 2.4 0a1.2 1.2 0 1 0 -2.4 0M101.6 309.4a1.2 1.2 0 1 0 2.4 0a1.2 1.2 0 1 0 -2.4 0M94.6 290.1a1.2 1.2 0 1 0 2.4 0a1.2 1.2 0 1 0 -2.4 0M96.7 375.0a1.2 1.2 0 1 0 2.4 0a1.2 1.2 0 1 0 -2.4 0M96.8 293.8a1.2 1.2 0 1 0 2.4 0a1.2 1.2 0 1 0 -2.4 0M103.2 343.7a1.2 1.2 0 1 0 2.4 0a1.2 1.2 0 1 0 -2.4 0M95.8 295.8a1.2 1.2 0 1 0 2.4 0a1.2 1.2 0 1 0 -2.4 0M83.4 305.0a1.2 1.2 0 1 0 2.4 0a1.2 1.2 0 1 0 -2.4 0M92.4 378.9a1.2 1.2 0 1 0 2.4 0a1.2 1.2 0 1 0 -2.4 0M101.8 322.5a1.2 1.2 0 1 0 2.4 0a1.2 1.2 0 1 0 -2.4 0M83.9 310.9a1.2 1.2 0 1 0 2.4 0a1.2 1.2 0 1 0 -2.4 0M82.2 279.2a1.2 1.2 0 1 0 2.4 0a1.2 1.2 0 1 0 -2.4 0M82.1 289.3a1.2 1.2 0 1 0 2.4 0a1.2 1.2 0 1 0 -2.4 0M82.6 317.2a1.2 1.2 0 1 0 2.4 0a1.2 1.2 0 1 0 -2.4 0M84.7 342.5a1.2 1.2 0 1 0 2.4 0a1.2 1.2 0 1 0 -2.4 0M98.4 350.2a1.2 1.2 0 1 0 2.4 0a1.2 1.2 0 1 0 -2.4 0M94.5 344.1a1.2 1.2 0 1 0 2.4 0a1.2 1.2 0 1 0 -2.4 0M97.5 358.6a1.2 1.2 0 1 0 2.4 0a1.2 1.2 0 1 0 -2.4 0M93.6 343.5a1.2 1.2 0 1 0 2.4 0a1.2 1.2 0 1 0 -2.4 0M89.0 331.2a1.2 1.2 0 1 0 2.4 0a1.2 1.2 0 1 0 -2.4 0M98.8 336.9a1.2 1.2 0 1 0 2.4 0a1.2 1.2 0 1 0 -2.4 0M84.8 266.5a1.2 1.2 0 1 0 2.4 0a1.2 1.2 0 1 0 -2.4 0M89.1 315.5a1.2 1.2 0 1 0 2.4 0a1.2 1.2 0 1 0 -2.4 0M90.4 349.1a1.2 1.2 0 1 0 2.4 0a1.2 1.2 0 1 0 -2.4 0M96.4 320.8a1.2 1.2 0 1 0 2.4 0a1.2 1.2 0 1 0 -2.4 0M98.2 369.3a1.2 1.2 0 1 0 2.4 0a1.2 1.2 0 1 0 -2.4 0M93.8 352.4a1.2 1.2 0 1 0 2.4 0a1.2 1.2 0 1 0 -2.4 0M94.7 386.7a1.2 1.2 0 1 0 2.4 0a1.2 1.2 0 1 0 -2.4 0M87.4 297.1a1.2 1.2 0 1 0 2.4 0a1.2 1.2 0 1 0 -2.4 0M94.4 320.0a1.2 1.2 0 1 0 2.4 0a1.2 1.2 0 1 0 -2.4 0M100.1 368.0a1.2 1.2 0 1 0 2.4 0a1.2 1.2 0 1 0 -2.4 0M90.9 337.7a1.2 1.2 0 1 0 2.4 0a1.2 1.2 0 1 0 -2.4 0M98.0 277.8a1.2 1.2 0 1 0 2.4 0a1.2 1.2 0 1 0 -2.4 0M92.5 322.6a1.2 1.2 0 1 0 2.4 0a1.2 1.2 0 1 0 -2.4 0M92.6 325.7a1.2 1.2 0 1 0 2.4 0a1.2 1.2 0 1 0 -2.4 0M94.7 359.3a1.2 1.2 0 1 0 2.4 0a1.2 1.2 0 1 0 -2.4 0M84.2 353.4a1.2 1.2 0 1 0 2.4 0a1.2 1.2 0 1 0 -2.4 0M85.9 333.5a1.2 1.2 0 1 0 2.4 0a1.2 1.2 0 1 0 -2.4 0M85.0 311.1a1.2 1.2 0 1 0 2.4 0a1.2 1.2 0 1 0 -2.4 0M93.1 358.6a1.2 1.2 0 1 0 2.4 0a1.2 1.2 0 1 0 -2.4 0M96.1 366.5a1.2 1.2 0 1 0 2.4 0a1.2 1.2 0 1 0 -2.4 0M97.0 305.0a1.2 1.2 0 1 0 2.4 0a1.2 1.2 0 1 0 -2.4 0M85.7 361.3a1.2 1.2 0 1 0 2.4 0a1.2 1.2 0 1 0 -2.4 0M88.5 306.9a1.2 1.2 0 1 0 2.4 0a1.2 1.2 0 1 0 -2.4 0M84.3 329.5a1.2 1.2 0 1 0 2.4 0a1.2 1.2 0 1 0 -2.4 0M95.8 312.2a1.2 1.2 0 1 0 2.4 0a1.2 1.2 0 1 0 -2.4 0M90.5 288.8a1.2 1.2 0 1 0 2.4 0a1.2 1.2 0 1 0 -2.4 0M87.2 317.4a1.2 1.2 0 1 0 2.4 0a1.2 1.2 0 1 0 -2.4 0M86.1 315.0a1.2 1.2 0 1 0 2.4 0a1.2 1.2 0 1 0 -2.4 0M102.4 361.0a1.2 1.2 0 1 0 2.4 0a1.2 1.2 0 1 0 -2.4 0M91.9 354.9a1.2 1.2 0 1 0 2.4 0a1.2 1.2 0 1 0 -2.4 0M103.4 374.0a1.2 1.2 0 1 0 2.4 0a1.2 1.2 0 1 0 -2.4 0M88.3 294.5a1.2 1.2 0 1 0 2.4 0a1.2 1.2 0 1 0 -2.4 0M85.9 298.3a1.2 1.2 0 1 0 2.4 0a1.2 1.2 0 1 0 -2.4 0M97.2 273.2a1.2 1.2 0 1 0 2.4 0a1.2 1.2 0 1 0 -2.4 0M101.6 327.6a1.2 1.2 0 1 0 2.4 0a1.2 1.2 0 1 0 -2.4 0M84.7 330.6a1.2 1.2 0 1 0 2.4 0a1.2 1.2 0 1 0 -2.4 0M100.5 308.8a1.2 1.2 0 1 0 2.4 0a1.2 1.2 0 1 0 -2.4 0M94.3 335.6a1.2 1.2 0 1 0 2.4 0a1.2 1.2 0 1 0 -2.4 0M101.4 378.8a1.2 1.2 0 1 0 2.4 0a1.2 1.2 0 1 0 -2.4 0M102.4 364.5a1.2 1.2 0 1 0 2.4 0a1.2 1.2 0 1 0 -2.4 0M90.6 295.4a1.2 1.2 0 1 0 2.4 0a1.2 1.2 0 1 0 -2.4 0M102.3 365.2a1.2 1.2 0 1 0 2.4 0a1.2 1.2 0 1 0 -2.4 0M85.1 294.6a1.2 1.2 0 1 0 2.4 0a1.2 1.2 0 1 0 -2.4 0M91.0 374.6a1.2 1.2 0 1 0 2.4 0a1.2 1.2 0 1 0 -2.4 0M91.0 306.3a1.2 1.2 0 1 0 2.4 0a1.2 1.2 0 1 0 -2.4 0M86.5 364.0a1.2 1.2 0 1 0 2.4 0a1.2 1.2 0 1 0 -2.4 0M91.9 313.2a1.2 1.2 0 1 0 2.4 0a1.2 1.2 0 1 0 -2.4 0M98.0 379.2a1.2 1.2 0 1 0 2.4 0a1.2 1.2 0 1 0 -2.4 0M83.4 348.0a1.2 1.2 0 1 0 2.4 0a1.2 1.2 0 1 0 -2.4 0M91.9 304.1a1.2 1.2 0 1 0 2.4 0a1.2 1.2 0 1 0 -2.4 0M92.9 357.9a1.2 1.2 0 1 0 2.4 0a1.2 1.2 0 1 0 -2.4 0M85.4 334.3a1.2 1.2 0 1 0 2.4 0a1.2 1.2 0 1 0 -2.4 0M95.5 349.1a1.2 1.2 0 1 0 2.4 0a1.2 1.2 0 1 0 -2.4 0M86.7 398.7a1.2 1.2 0 1 0 2.4 0a1.2 1.2 0 1 0 -2.4 0M93.9 327.7a1.2 1.2 0 1 0 2.4 0a1.2 1.2 0 1 0 -2.4 0M93.9 324.4a1.2 1.2 0 1 0 2.4 0a1.2 1.2 0 1 0 -2.4 0M97.9 366.1a1.2 1.2 0 1 0 2.4 0a1.2 1.2 0 1 0 -2.4 0M102.1 320.5a1.2 1.2 0 1 0 2.4 0a1.2 1.2 0 1 0 -2.4 0M101.9 357.7a1.2 1.2 0 1 0 2.4 0a1.2 1.2 0 1 0 -2.4 0M92.3 363.3a1.2 1.2 0 1 0 2.4 0a1.2 1.2 0 1 0 -2.4 0M86.9 335.9a1.2 1.2 0 1 0 2.4 0a1.2 1.2 0 1 0 -2.4 0M86.5 294.7a1.2 1.2 0 1 0 2.4 0a1.2 1.2 0 1 0 -2.4 0M98.8 273.9a1.2 1.2 0 1 0 2.4 0a1.2 1.2 0 1 0 -2.4 0M98.2 276.2a1.2 1.2 0 1 0 2.4 0a1.2 1.2 0 1 0 -2.4 0M98.9 316.0a1.2 1.2 0 1 0 2.4 0a1.2 1.2 0 1 0 -2.4 0M99.8 309.3a1.2 1.2 0 1 0 2.4 0a1.2 1.2 0 1 0 -2.4 0M93.8 389.8a1.2 1.2 0 1 0 2.4 0a1.2 1.2 0 1 0 -2.4 0M101.3 383.1a1.2 1.2 0 1 0 2.4 0a1.2 1.2 0 1 0 -2.4 0M95.9 320.8a1.2 1.2 0 1 0 2.4 0a1.2 1.2 0 1 0 -2.4 0M95.3 349.1a1.2 1.2 0 1 0 2.4 0a1.2 1.2 0 1 0 -2.4 0M99.9 325.7a1.2 1.2 0 1 0 2.4 0a1.2 1.2 0 1 0 -2.4 0M95.7 305.2a1.2 1.2 0 1 0 2.4 0a1.2 1.2 0 1 0 -2.4 0M98.4 346.2a1.2 1.2 0 1 0 2.4 0a1.2 1.2 0 1 0 -2.4 0M102.0 364.9a1.2 1.2 0 1 0 2.4 0a1.2 1.2 0 1 0 -2.4 0M89.9 330.5a1.2 1.2 0 1 0 2.4 0a1.2 1.2 0 1 0 -2.4 0M98.0 361.3a1.2 1.2 0 1 0 2.4 0a1.2 1.2 0 1 0 -2.4 0M87.7 327.6a1.2 1.2 0 1 0 2.4 0a1.2 1.2 0 1 0 -2.4 0M92.0 329.8a1.2 1.2 0 1 0 2.4 0a1.2 1.2 0 1 0 -2.4 0M100.7 275.7a1.2 1.2 0 1 0 2.4 0a1.2 1.2 0 1 0 -2.4 0M103.0 289.3a1.2 1.2 0 1 0 2.4 0a1.2 1.2 0 1 0 -2.4 0M102.4 306.7a1.2 1.2 0 1 0 2.4 0a1.2 1.2 0 1 0 -2.4 0M98.1 313.1a1.2 1.2 0 1 0 2.4 0a1.2 1.2 0 1 0 -2.4 0M100.2 368.2a1.2 1.2 0 1 0 2.4 0a1.2 1.2 0 1 0 -2.4 0M101.0 347.1a1.2 1.2 0 1 0 2.4 0a1.2 1.2 0 1 0 -2.4 0M94.8 350.9a1.2 1.2 0 1 0 2.4 0a1.2 1.2 0 1 0 -2.4 0M86.5 347.3a1.2 1.2 0 1 0 2.4 0a1.2 1.2 0 1 0 -2.4 0M81.4 333.6a1.2 1.2 0 1 0 2.4 0a1.2 1.2 0 1 0 -2.4 0M98.2 342.4a1.2 1.2 0 1 0 2.4 0a1.2 1.2 0 1 0 -2.4 0M98.2 329.9a1.2 1.2 0 1 0 2.4 0a1.2 1.2 0 1 0 -2.4 0M97.5 326.2a1.2 1.2 0 1 0 2.4 0a1.2 1.2 0 1 0 -2.4 0M94.1 332.2a1.2 1.2 0 1 0 2.4 0a1.2 1.2 0 1 0 -2.4 0M95.9 301.1a1.2 1.2 0 1 0 2.4 0a1.2 1.2 0 1 0 -2.4 0M97.2 331.0a1.2 1.2 0 1 0 2.4 0a1.2 1.2 0 1 0 -2.4 0M93.0 265.8a1.2 1.2 0 1 0 2.4 0a1.2 1.2 0 1 0 -2.4 0M95.9 337.6a1.2 1.2 0 1 0 2.4 0a1.2 1.2 0 1 0 -2.4 0M86.1 265.3a1.2 1.2 0 1 0 2.4 0a1.2 1.2 0 1 0 -2.4 0M93.1 344.2a1.2 1.2 0 1 0 2.4 0a1.2 1.2 0 1 0 -2.4 0M95.2 342.9a1.2 1.2 0 1 0 2.4 0a1.2 1.2 0 1 0 -2.4 0M93.9 354.1a1.2 1.2 0 1 0 2.4 0a1.2 1.2 0 1 0 -2.4 0M86.8 318.0a1.2 1.2 0 1 0 2.4 0a1.2 1.2 0 1 0 -2.4 0M83.9 348.2a1.2 1.2 0 1 0 2.4 0a1.2 1.2 0 1 0 -2.4 0M95.8 352.4a1.2 1.2 0 1 0 2.4 0a1.2 1.2 0 1 0 -2.4 0M83.5 315.8a1.2 1.2 0 1 0 2.4 0a1.2 1.2 0 1 0 -2.4 0M98.9 321.0a1.2 1.2 0 1 0 2.4 0a1.2 1.2 0 1 0 -2.4 0M85.1 350.5a1.2 1.2 0 1 0 2.4 0a1.2 1.2 0 1 0 -2.4 0M98.4 381.5a1.2 1.2 0 1 0 2.4 0a1.2 1.2 0 1 0 -2.4 0M89.0 319.2a1.2 1.2 0 1 0 2.4 0a1.2 1.2 0 1 0 -2.4 0M101.4 355.1a1.2 1.2 0 1 0 2.4 0a1.2 1.2 0 1 0 -2.4 0M86.1 326.4a1.2 1.2 0 1 0 2.4 0a1.2 1.2 0 1 0 -2.4 0M84.6 325.9a1.2 1.2 0 1 0 2.4 0a1.2 1.2 0 1 0 -2.4 0M96.3 303.4a1.2 1.2 0 1 0 2.4 0a1.2 1.2 0 1 0 -2.4 0M98.5 307.7a1.2 1.2 0 1 0 2.4 0a1.2 1.2 0 1 0 -2.4 0M88.9 351.7a1.2 1.2 0 1 0 2.4 0a1.2 1.2 0 1 0 -2.4 0" fill="#EE7E68" fill-opacity="0.65"/>
<path d="M204.5 388.6a1.2 1.2 0 1 0 2.4 0a1.2 1.2 0 1 0 -2.4 0M208.1 342.3a1.2 1.2 0 1 0 2.4 0a1.2 1.2 0 1 0 -2.4 0M207.5 348.7a1.2 1.2 0 1 0 2.4 0a1.2 1.2 0 1 0 -2.4 0M196.6 337.9a1.2 1.2 0 1 0 2.4 0a1.2 1.2 0 1 0 -2.4 0M205.7 345.1a1.2 1.2 0 1 0 2.4 0a1.2 1.2 0 1 0 -2.4 0M197.9 322.0a1.2 1.2 0 1 0 2.4 0a1.2 1.2 0 1 0 -2.4 0M206.6 336.4a1.2 1.2 0 1 0 2.4 0a1.2 1.2 0 1 0 -2.4 0M190.1 346.3a1.2 1.2 0 1 0 2.4 0a1.2 1.2 0 1 0 -2.4 0M208.1 303.5a1.2 1.2 0 1 0 2.4 0a1.2 1.2 0 1 0 -2.4 0M204.9 366.6a1.2 1.2 0 1 0 2.4 0a1.2 1.2 0 1 0 -2.4 0M193.0 305.7a1.2 1.2 0 1 0 2.4 0a1.2 1.2 0 1 0 -2.4 0M195.2 307.1a1.2 1.2 0 1 0 2.4 0a1.2 1.2 0 1 0 -2.4 0M196.5 312.5a1.2 1.2 0 1 0 2.4 0a1.2 1.2 0 1 0 -2.4 0M200.9 356.7a1.2 1.2 0 1 0 2.4 0a1.2 1.2 0 1 0 -2.4 0M209.4 338.8a1.2 1.2 0 1 0 2.4 0a1.2 1.2 0 1 0 -2.4 0M210.8 325.3a1.2 1.2 0 1 0 2.4 0a1.2 1.2 0 1 0 -2.4 0M202.8 372.8a1.2 1.2 0 1 0 2.4 0a1.2 1.2 0 1 0 -2.4 0M192.2 293.6a1.2 1.2 0 1 0 2.4 0a1.2 1.2 0 1 0 -2.4 0M210.9 322.7a1.2 1.2 0 1 0 2.4 0a1.2 1.2 0 1 0 -2.4 0M210.5 346.8a1.2 1.2 0 1 0 2.4 0a1.2 1.2 0 1 0 -2.4 0M191.7 326.4a1.2 1.2 0 1 0 2.4 0a1.2 1.2 0 1 0 -2.4 0M204.2 339.6a1.2 1.2 0 1 0 2.4 0a1.2 1.2 0 1 0 -2.4 0M204.2 350.4a1.2 1.2 0 1 0 2.4 0a1.2 1.2 0 1 0 -2.4 0M204.1 317.4a1.2 1.2 0 1 0 2.4 0a1.2 1.2 0 1 0 -2.4 0M205.5 351.6a1.2 1.2 0 1 0 2.4 0a1.2 1.2 0 1 0 -2.4 0M189.9 367.4a1.2 1.2 0 1 0 2.4 0a1.2 1.2 0 1 0 -2.4 0M196.5 347.1a1.2 1.2 0 1 0 2.4 0a1.2 1.2 0 1 0 -2.4 0M197.1 333.6a1.2 1.2 0 1 0 2.4 0a1.2 1.2 0 1 0 -2.4 0M203.8 358.7a1.2 1.2 0 1 0 2.4 0a1.2 1.2 0 1 0 -2.4 0M191.9 297.7a1.2 1.2 0 1 0 2.4 0a1.2 1.2 0 1 0 -2.4 0M195.8 358.9a1.2 1.2 0 1 0 2.4 0a1.2 1.2 0 1 0 -2.4 0M193.6 373.8a1.2 1.2 0 1 0 2.4 0a1.2 1.2 0 1 0 -2.4 0M190.8 307.3a1.2 1.2 0 1 0 2.4 0a1.2 1.2 0 1 0 -2.4 0M200.0 355.1a1.2 1.2 0 1 0 2.4 0a1.2 1.2 0 1 0 -2.4 0M194.2 327.2a1.2 1.2 0 1 0 2.4 0a1.2 1.2 0 1 0 -2.4 0M200.2 299.8a1.2 1.2 0 1 0 2.4 0a1.2 1.2 0 1 0 -2.4 0M194.3 335.5a1.2 1.2 0 1 0 2.4 0a1.2 1.2 0 1 0 -2.4 0M206.9 361.6a1.2 1.2 0 1 0 2.4 0a1.2 1.2 0 1 0 -2.4 0M192.2 327.6a1.2 1.2 0 1 0 2.4 0a1.2 1.2 0 1 0 -2.4 0M206.5 278.7a1.2 1.2 0 1 0 2.4 0a1.2 1.2 0 1 0 -2.4 0M204.0 369.3a1.2 1.2 0 1 0 2.4 0a1.2 1.2 0 1 0 -2.4 0M193.2 316.1a1.2 1.2 0 1 0 2.4 0a1.2 1.2 0 1 0 -2.4 0M198.0 330.2a1.2 1.2 0 1 0 2.4 0a1.2 1.2 0 1 0 -2.4 0M198.1 329.5a1.2 1.2 0 1 0 2.4 0a1.2 1.2 0 1 0 -2.4 0M199.6 340.6a1.2 1.2 0 1 0 2.4 0a1.2 1.2 0 1 0 -2.4 0M204.4 338.8a1.2 1.2 0 1 0 2.4 0a1.2 1.2 0 1 0 -2.4 0M190.1 303.4a1.2 1.2 0 1 0 2.4 0a1.2 1.2 0 1 0 -2.4 0M193.4 314.9a1.2 1.2 0 1 0 2.4 0a1.2 1.2 0 1 0 -2.4 0M204.9 356.4a1.2 1.2 0 1 0 2.4 0a1.2 1.2 0 1 0 -2.4 0M191.8 289.8a1.2 1.2 0 1 0 2.4 0a1.2 1.2 0 1 0 -2.4 0M208.0 364.2a1.2 1.2 0 1 0 2.4 0a1.2 1.2 0 1 0 -2.4 0M197.8 313.1a1.2 1.2 0 1 0 2.4 0a1.2 1.2 0 1 0 -2.4 0M190.6 325.9a1.2 1.2 0 1 0 2.4 0a1.2 1.2 0 1 0 -2.4 0M206.4 299.2a1.2 1.2 0 1 0 2.4 0a1.2 1.2 0 1 0 -2.4 0M195.1 321.1a1.2 1.2 0 1 0 2.4 0a1.2 1.2 0 1 0 -2.4 0M211.4 302.9a1.2 1.2 0 1 0 2.4 0a1.2 1.2 0 1 0 -2.4 0M209.7 331.0a1.2 1.2 0 1 0 2.4 0a1.2 1.2 0 1 0 -2.4 0M208.9 392.0a1.2 1.2 0 1 0 2.4 0a1.2 1.2 0 1 0 -2.4 0M208.9 321.4a1.2 1.2 0 1 0 2.4 0a1.2 1.2 0 1 0 -2.4 0M191.4 274.4a1.2 1.2 0 1 0 2.4 0a1.2 1.2 0 1 0 -2.4 0M190.4 348.4a1.2 1.2 0 1 0 2.4 0a1.2 1.2 0 1 0 -2.4 0M198.5 299.2a1.2 1.2 0 1 0 2.4 0a1.2 1.2 0 1 0 -2.4 0M198.9 318.2a1.2 1.2 0 1 0 2.4 0a1.2 1.2 0 1 0 -2.4 0M198.6 325.7a1.2 1.2 0 1 0 2.4 0a1.2 1.2 0 1 0 -2.4 0M202.7 345.0a1.2 1.2 0 1 0 2.4 0a1.2 1.2 0 1 0 -2.4 0M206.7 318.6a1.2 1.2 0 1 0 2.4 0a1.2 1.2 0 1 0 -2.4 0M206.8 368.7a1.2 1.2 0 1 0 2.4 0a1.2 1.2 0 1 0 -2.4 0M209.9 365.9a1.2 1.2 0 1 0 2.4 0a1.2 1.2 0 1 0 -2.4 0M204.4 311.7a1.2 1.2 0 1 0 2.4 0a1.2 1.2 0 1 0 -2.4 0M208.8 370.8a1.2 1.2 0 1 0 2.4 0a1.2 1.2 0 1 0 -2.4 0M191.8 356.3a1.2 1.2 0 1 0 2.4 0a1.2 1.2 0 1 0 -2.4 0M190.4 337.4a1.2 1.2 0 1 0 2.4 0a1.2 1.2 0 1 0 -2.4 0M199.6 323.8a1.2 1.2 0 1 0 2.4 0a1.2 1.2 0 1 0 -2.4 0M208.9 328.3a1.2 1.2 0 1 0 2.4 0a1.2 1.2 0 1 0 -2.4 0M198.1 319.3a1.2 1.2 0 1 0 2.4 0a1.2 1.2 0 1 0 -2.4 0M192.2 337.5a1.2 1.2 0 1 0 2.4 0a1.2 1.2 0 1 0 -2.4 0M192.5 339.8a1.2 1.2 0 1 0 2.4 0a1.2 1.2 0 1 0 -2.4 0M194.7 333.5a1.2 1.2 0 1 0 2.4 0a1.2 1.2 0 1 0 -2.4 0M208.5 274.7a1.2 1.2 0 1 0 2.4 0a1.2 1.2 0 1 0 -2.4 0M197.1 300.7a1.2 1.2 0 1 0 2.4 0a1.2 1.2 0 1 0 -2.4 0M208.4 297.0a1.2 1.2 0 1 0 2.4 0a1.2 1.2 0 1 0 -2.4 0M210.2 320.7a1.2 1.2 0 1 0 2.4 0a1.2 1.2 0 1 0 -2.4 0M206.5 335.4a1.2 1.2 0 1 0 2.4 0a1.2 1.2 0 1 0 -2.4 0M209.7 373.9a1.2 1.2 0 1 0 2.4 0a1.2 1.2 0 1 0 -2.4 0M195.3 313.5a1.2 1.2 0 1 0 2.4 0a1.2 1.2 0 1 0 -2.4 0M194.0 308.3a1.2 1.2 0 1 0 2.4 0a1.2 1.2 0 1 0 -2.4 0M195.0 340.7a1.2 1.2 0 1 0 2.4 0a1.2 1.2 0 1 0 -2.4 0M190.2 309.2a1.2 1.2 0 1 0 2.4 0a1.2 1.2 0 1 0 -2.4 0M209.9 296.6a1.2 1.2 0 1 0 2.4 0a1.2 1.2 0 1 0 -2.4 0M194.3 327.7a1.2 1.2 0 1 0 2.4 0a1.2 1.2 0 1 0 -2.4 0M203.4 302.7a1.2 1.2 0 1 0 2.4 0a1.2 1.2 0 1 0 -2.4 0M195.9 322.2a1.2 1.2 0 1 0 2.4 0a1.2 1.2 0 1 0 -2.4 0M201.5 375.4a1.2 1.2 0 1 0 2.4 0a1.2 1.2 0 1 0 -2.4 0M199.2 342.5a1.2 1.2 0 1 0 2.4 0a1.2 1.2 0 1 0 -2.4 0M205.4 340.9a1.2 1.2 0 1 0 2.4 0a1.2 1.2 0 1 0 -2.4 0M194.1 316.4a1.2 1.2 0 1 0 2.4 0a1.2 1.2 0 1 0 -2.4 0M196.0 352.7a1.2 1.2 0 1 0 2.4 0a1.2 1.2 0 1 0 -2.4 0M192.8 341.6a1.2 1.2 0 1 0 2.4 0a1.2 1.2 0 1 0 -2.4 0M196.8 355.2a1.2 1.2 0 1 0 2.4 0a1.2 1.2 0 1 0 -2.4 0M207.8 331.2a1.2 1.2 0 1 0 2.4 0a1.2 1.2 0 1 0 -2.4 0M210.6 328.4a1.2 1.2 0 1 0 2.4 0a1.2 1.2 0 1 0 -2.4 0M190.1 378.0a1.2 1.2 0 1 0 2.4 0a1.2 1.2 0 1 0 -2.4 0M208.1 309.4a1.2 1.2 0 1 0 2.4 0a1.2 1.2 0 1 0 -2.4 0M205.7 325.9a1.2 1.2 0 1 0 2.4 0a1.2 1.2 0 1 0 -2.4 0M191.5 323.9a1.2 1.2 0 1 0 2.4 0a1.2 1.2 0 1 0 -2.4 0M193.3 372.0a1.2 1.2 0 1 0 2.4 0a1.2 1.2 0 1 0 -2.4 0M208.5 327.2a1.2 1.2 0 1 0 2.4 0a1.2 1.2 0 1 0 -2.4 0M194.0 289.9a1.2 1.2 0 1 0 2.4 0a1.2 1.2 0 1 0 -2.4 0M209.4 394.9a1.2 1.2 0 1 0 2.4 0a1.2 1.2 0 1 0 -2.4 0M201.5 388.9a1.2 1.2 0 1 0 2.4 0a1.2 1.2 0 1 0 -2.4 0M211.1 322.0a1.2 1.2 0 1 0 2.4 0a1.2 1.2 0 1 0 -2.4 0M200.7 300.7a1.2 1.2 0 1 0 2.4 0a1.2 1.2 0 1 0 -2.4 0M192.6 358.7a1.2 1.2 0 1 0 2.4 0a1.2 1.2 0 1 0 -2.4 0M202.9 313.1a1.2 1.2 0 1 0 2.4 0a1.2 1.2 0 1 0 -2.4 0M199.4 307.7a1.2 1.2 0 1 0 2.4 0a1.2 1.2 0 1 0 -2.4 0M191.3 341.8a1.2 1.2 0 1 0 2.4 0a1.2 1.2 0 1 0 -2.4 0M207.5 318.0a1.2 1.2 0 1 0 2.4 0a1.2 1.2 0 1 0 -2.4 0M209.2 339.5a1.2 1.2 0 1 0 2.4 0a1.2 1.2 0 1 0 -2.4 0M210.6 361.4a1.2 1.2 0 1 0 2.4 0a1.2 1.2 0 1 0 -2.4 0M203.7 313.2a1.2 1.2 0 1 0 2.4 0a1.2 1.2 0 1 0 -2.4 0M202.4 352.3a1.2 1.2 0 1 0 2.4 0a1.2 1.2 0 1 0 -2.4 0M194.0 283.8a1.2 1.2 0 1 0 2.4 0a1.2 1.2 0 1 0 -2.4 0M210.6 326.5a1.2 1.2 0 1 0 2.4 0a1.2 1.2 0 1 0 -2.4 0M205.7 351.1a1.2 1.2 0 1 0 2.4 0a1.2 1.2 0 1 0 -2.4 0M204.2 343.3a1.2 1.2 0 1 0 2.4 0a1.2 1.2 0 1 0 -2.4 0M204.8 358.6a1.2 1.2 0 1 0 2.4 0a1.2 1.2 0 1 0 -2.4 0M208.0 320.0a1.2 1.2 0 1 0 2.4 0a1.2 1.2 0 1 0 -2.4 0M197.2 336.0a1.2 1.2 0 1 0 2.4 0a1.2 1.2 0 1 0 -2.4 0M192.2 335.8a1.2 1.2 0 1 0 2.4 0a1.2 1.2 0 1 0 -2.4 0M211.2 306.1a1.2 1.2 0 1 0 2.4 0a1.2 1.2 0 1 0 -2.4 0M190.5 338.7a1.2 1.2 0 1 0 2.4 0a1.2 1.2 0 1 0 -2.4 0M195.7 322.1a1.2 1.2 0 1 0 2.4 0a1.2 1.2 0 1 0 -2.4 0M200.4 270.2a1.2 1.2 0 1 0 2.4 0a1.2 1.2 0 1 0 -2.4 0M190.7 366.8a1.2 1.2 0 1 0 2.4 0a1.2 1.2 0 1 0 -2.4 0M196.5 298.1a1.2 1.2 0 1 0 2.4 0a1.2 1.2 0 1 0 -2.4 0M208.6 299.6a1.2 1.2 0 1 0 2.4 0a1.2 1.2 0 1 0 -2.4 0M203.3 379.1a1.2 1.2 0 1 0 2.4 0a1.2 1.2 0 1 0 -2.4 0M202.4 367.5a1.2 1.2 0 1 0 2.4 0a1.2 1.2 0 1 0 -2.4 0M190.2 355.6a1.2 1.2 0 1 0 2.4 0a1.2 1.2 0 1 0 -2.4 0M199.0 304.9a1.2 1.2 0 1 0 2.4 0a1.2 1.2 0 1 0 -2.4 0M192.4 341.3a1.2 1.2 0 1 0 2.4 0a1.2 1.2 0 1 0 -2.4 0M198.2 334.5a1.2 1.2 0 1 0 2.4 0a1.2 1.2 0 1 0 -2.4 0M198.2 311.7a1.2 1.2 0 1 0 2.4 0a1.2 1.2 0 1 0 -2.4 0M199.0 327.1a1.2 1.2 0 1 0 2.4 0a1.2 1.2 0 1 0 -2.4 0M196.6 324.3a1.2 1.2 0 1 0 2.4 0a1.2 1.2 0 1 0 -2.4 0M206.7 338.5a1.2 1.2 0 1 0 2.4 0a1.2 1.2 0 1 0 -2.4 0M199.8 300.9a1.2 1.2 0 1 0 2.4 0a1.2 1.2 0 1 0 -2.4 0M209.4 350.4a1.2 1.2 0 1 0 2.4 0a1.2 1.2 0 1 0 -2.4 0M197.2 286.6a1.2 1.2 0 1 0 2.4 0a1.2 1.2 0 1 0 -2.4 0M192.9 339.0a1.2 1.2 0 1 0 2.4 0a1.2 1.2 0 1 0 -2.4 0M197.5 351.0a1.2 1.2 0 1 0 2.4 0a1.2 1.2 0 1 0 -2.4 0M208.6 313.4a1.2 1.2 0 1 0 2.4 0a1.2 1.2 0 1 0 -2.4 0M197.6 318.5a1.2 1.2 0 1 0 2.4 0a1.2 1.2 0 1 0 -2.4 0M207.5 381.8a1.2 1.2 0 1 0 2.4 0a1.2 1.2 0 1 0 -2.4 0M204.8 324.4a1.2 1.2 0 1 0 2.4 0a1.2 1.2 0 1 0 -2.4 0M195.4 365.4a1.2 1.2 0 1 0 2.4 0a1.2 1.2 0 1 0 -2.4 0M193.9 351.8a1.2 1.2 0 1 0 2.4 0a1.2 1.2 0 1 0 -2.4 0M192.2 309.7a1.2 1.2 0 1 0 2.4 0a1.2 1.2 0 1 0 -2.4 0M199.5 352.7a1.2 1.2 0 1 0 2.4 0a1.2 1.2 0 1 0 -2.4 0M204.8 328.0a1.2 1.2 0 1 0 2.4 0a1.2 1.2 0 1 0 -2.4 0M196.2 340.1a1.2 1.2 0 1 0 2.4 0a1.2 1.2 0 1 0 -2.4 0M210.4 279.9a1.2 1.2 0 1 0 2.4 0a1.2 1.2 0 1 0 -2.4 0M190.1 332.8a1.2 1.2 0 1 0 2.4 0a1.2 1.2 0 1 0 -2.4 0M206.8 360.9a1.2 1.2 0 1 0 2.4 0a1.2 1.2 0 1 0 -2.4 0M193.5 359.1a1.2 1.2 0 1 0 2.4 0a1.2 1.2 0 1 0 -2.4 0M211.4 353.9a1.2 1.2 0 1 0 2.4 0a1.2 1.2 0 1 0 -2.4 0M191.9 327.0a1.2 1.2 0 1 0 2.4 0a1.2 1.2 0 1 0 -2.4 0M209.7 330.4a1.2 1.2 0 1 0 2.4 0a1.2 1.2 0 1 0 -2.4 0M198.5 305.1a1.2 1.2 0 1 0 2.4 0a1.2 1.2 0 1 0 -2.4 0M196.0 326.0a1.2 1.2 0 1 0 2.4 0a1.2 1.2 0 1 0 -2.4 0M190.7 327.0a1.2 1.2 0 1 0 2.4 0a1.2 1.2 0 1 0 -2.4 0M194.5 321.9a1.2 1.2 0 1 0 2.4 0a1.2 1.2 0 1 0 -2.4 0M198.1 333.8a1.2 1.2 0 1 0 2.4 0a1.2 1.2 0 1 0 -2.4 0M210.0 322.8a1.2 1.2 0 1 0 2.4 0a1.2 1.2 0 1 0 -2.4 0M210.7 310.0a1.2 1.2 0 1 0 2.4 0a1.2 1.2 0 1 0 -2.4 0M191.5 310.0a1.2 1.2 0 1 0 2.4 0a1.2 1.2 0 1 0 -2.4 0M201.9 344.6a1.2 1.2 0 1 0 2.4 0a1.2 1.2 0 1 0 -2.4 0M190.5 376.5a1.2 1.2 0 1 0 2.4 0a1.2 1.2 0 1 0 -2.4 0M192.0 351.5a1.2 1.2 0 1 0 2.4 0a1.2 1.2 0 1 0 -2.4 0M203.1 323.1a1.2 1.2 0 1 0 2.4 0a1.2 1.2 0 1 0 -2.4 0M201.2 395.3a1.2 1.2 0 1 0 2.4 0a1.2 1.2 0 1 0 -2.4 0M209.2 342.9a1.2 1.2 0 1 0 2.4 0a1.2 1.2 0 1 0 -2.4 0M209.3 318.8a1.2 1.2 0 1 0 2.4 0a1.2 1.2 0 1 0 -2.4 0M193.2 345.2a1.2 1.2 0 1 0 2.4 0a1.2 1.2 0 1 0 -2.4 0M203.5 359.6a1.2 1.2 0 1 0 2.4 0a1.2 1.2 0 1 0 -2.4 0M207.2 284.9a1.2 1.2 0 1 0 2.4 0a1.2 1.2 0 1 0 -2.4 0M206.5 294.5a1.2 1.2 0 1 0 2.4 0a1.2 1.2 0 1 0 -2.4 0M202.1 337.3a1.2 1.2 0 1 0 2.4 0a1.2 1.2 0 1 0 -2.4 0M200.9 296.1a1.2 1.2 0 1 0 2.4 0a1.2 1.2 0 1 0 -2.4 0M202.1 296.8a1.2 1.2 0 1 0 2.4 0a1.2 1.2 0 1 0 -2.4 0M198.7 360.0a1.2 1.2 0 1 0 2.4 0a1.2 1.2 0 1 0 -2.4 0M202.0 355.0a1.2 1.2 0 1 0 2.4 0a1.2 1.2 0 1 0 -2.4 0M209.1 337.5a1.2 1.2 0 1 0 2.4 0a1.2 1.2 0 1 0 -2.4 0M197.3 359.2a1.2 1.2 0 1 0 2.4 0a1.2 1.2 0 1 0 -2.4 0M199.3 328.6a1.2 1.2 0 1 0 2.4 0a1.2 1.2 0 1 0 -2.4 0M199.3 364.9a1.2 1.2 0 1 0 2.4 0a1.2 1.2 0 1 0 -2.4 0M208.5 330.9a1.2 1.2 0 1 0 2.4 0a1.2 1.2 0 1 0 -2.4 0M195.1 302.5a1.2 1.2 0 1 0 2.4 0a1.2 1.2 0 1 0 -2.4 0M199.3 325.1a1.2 1.2 0 1 0 2.4 0a1.2 1.2 0 1 0 -2.4 0M206.0 337.6a1.2 1.2 0 1 0 2.4 0a1.2 1.2 0 1 0 -2.4 0M198.3 290.5a1.2 1.2 0 1 0 2.4 0a1.2 1.2 0 1 0 -2.4 0M208.3 354.1a1.2 1.2 0 1 0 2.4 0a1.2 1.2 0 1 0 -2.4 0M201.4 373.6a1.2 1.2 0 1 0 2.4 0a1.2 1.2 0 1 0 -2.4 0M191.9 338.6a1.2 1.2 0 1 0 2.4 0a1.2 1.2 0 1 0 -2.4 0M197.7 318.4a1.2 1.2 0 1 0 2.4 0a1.2 1.2 0 1 0 -2.4 0M193.0 330.0a1.2 1.2 0 1 0 2.4 0a1.2 1.2 0 1 0 -2.4 0M199.3 327.5a1.2 1.2 0 1 0 2.4 0a1.2 1.2 0 1 0 -2.4 0M197.7 332.2a1.2 1.2 0 1 0 2.4 0a1.2 1.2 0 1 0 -2.4 0M197.1 351.2a1.2 1.2 0 1 0 2.4 0a1.2 1.2 0 1 0 -2.4 0M207.7 345.7a1.2 1.2 0 1 0 2.4 0a1.2 1.2 0 1 0 -2.4 0M209.2 319.4a1.2 1.2 0 1 0 2.4 0a1.2 1.2 0 1 0 -2.4 0M206.1 333.7a1.2 1.2 0 1 0 2.4 0a1.2 1.2 0 1 0 -2.4 0M206.3 361.2a1.2 1.2 0 1 0 2.4 0a1.2 1.2 0 1 0 -2.4 0M209.1 349.3a1.2 1.2 0 1 0 2.4 0a1.2 1.2 0 1 0 -2.4 0M209.6 349.0a1.2 1.2 0 1 0 2.4 0a1.2 1.2 0 1 0 -2.4 0M193.6 332.4a1.2 1.2 0 1 0 2.4 0a1.2 1.2 0 1 0 -2.4 0M209.2 326.3a1.2 1.2 0 1 0 2.4 0a1.2 1.2 0 1 0 -2.4 0M193.3 328.6a1.2 1.2 0 1 0 2.4 0a1.2 1.2 0 1 0 -2.4 0M195.7 348.0a1.2 1.2 0 1 0 2.4 0a1.2 1.2 0 1 0 -2.4 0M206.9 330.6a1.2 1.2 0 1 0 2.4 0a1.2 1.2 0 1 0 -2.4 0M192.9 366.7a1.2 1.2 0 1 0 2.4 0a1.2 1.2 0 1 0 -2.4 0M210.6 332.5a1.2 1.2 0 1 0 2.4 0a1.2 1.2 0 1 0 -2.4 0M209.9 374.2a1.2 1.2 0 1 0 2.4 0a1.2 1.2 0 1 0 -2.4 0M189.8 347.3a1.2 1.2 0 1 0 2.4 0a1.2 1.2 0 1 0 -2.4 0M203.5 362.6a1.2 1.2 0 1 0 2.4 0a1.2 1.2 0 1 0 -2.4 0M209.8 314.8a1.2 1.2 0 1 0 2.4 0a1.2 1.2 0 1 0 -2.4 0M201.5 362.7a1.2 1.2 0 1 0 2.4 0a1.2 1.2 0 1 0 -2.4 0M201.4 324.1a1.2 1.2 0 1 0 2.4 0a1.2 1.2 0 1 0 -2.4 0M202.5 344.0a1.2 1.2 0 1 0 2.4 0a1.2 1.2 0 1 0 -2.4 0M201.7 363.5a1.2 1.2 0 1 0 2.4 0a1.2 1.2 0 1 0 -2.4 0M202.4 372.3a1.2 1.2 0 1 0 2.4 0a1.2 1.2 0 1 0 -2.4 0M204.5 319.4a1.2 1.2 0 1 0 2.4 0a1.2 1.2 0 1 0 -2.4 0M210.5 321.4a1.2 1.2 0 1 0 2.4 0a1.2 1.2 0 1 0 -2.4 0M191.6 311.3a1.2 1.2 0 1 0 2.4 0a1.2 1.2 0 1 0 -2.4 0M194.9 283.8a1.2 1.2 0 1 0 2.4 0a1.2 1.2 0 1 0 -2.4 0M189.9 324.4a1.2 1.2 0 1 0 2.4 0a1.2 1.2 0 1 0 -2.4 0M191.2 324.2a1.2 1.2 0 1 0 2.4 0a1.2 1.2 0 1 0 -2.4 0M194.2 334.8a1.2 1.2 0 1 0 2.4 0a1.2 1.2 0 1 0 -2.4 0M209.3 328.8a1.2 1.2 0 1 0 2.4 0a1.2 1.2 0 1 0 -2.4 0M196.6 340.7a1.2 1.2 0 1 0 2.4 0a1.2 1.2 0 1 0 -2.4 0M202.8 354.9a1.2 1.2 0 1 0 2.4 0a1.2 1.2 0 1 0 -2.4 0M196.6 279.7a1.2 1.2 0 1 0 2.4 0a1.2 1.2 0 1 0 -2.4 0M211.1 380.2a1.2 1.2 0 1 0 2.4 0a1.2 1.2 0 1 0 -2.4 0M194.0 325.1a1.2 1.2 0 1 0 2.4 0a1.2 1.2 0 1 0 -2.4 0M198.3 320.2a1.2 1.2 0 1 0 2.4 0a1.2 1.2 0 1 0 -2.4 0M197.8 327.8a1.2 1.2 0 1 0 2.4 0a1.2 1.2 0 1 0 -2.4 0M194.4 356.8a1.2 1.2 0 1 0 2.4 0a1.2 1.2 0 1 0 -2.4 0M191.4 336.8a1.2 1.2 0 1 0 2.4 0a1.2 1.2 0 1 0 -2.4 0M198.2 343.8a1.2 1.2 0 1 0 2.4 0a1.2 1.2 0 1 0 -2.4 0M194.2 359.8a1.2 1.2 0 1 0 2.4 0a1.2 1.2 0 1 0 -2.4 0M190.3 333.1a1.2 1.2 0 1 0 2.4 0a1.2 1.2 0 1 0 -2.4 0M208.9 342.5a1.2 1.2 0 1 0 2.4 0a1.2 1.2 0 1 0 -2.4 0M197.2 346.3a1.2 1.2 0 1 0 2.4 0a1.2 1.2 0 1 0 -2.4 0M190.0 314.2a1.2 1.2 0 1 0 2.4 0a1.2 1.2 0 1 0 -2.4 0M203.1 359.6a1.2 1.2 0 1 0 2.4 0a1.2 1.2 0 1 0 -2.4 0M200.1 320.6a1.2 1.2 0 1 0 2.4 0a1.2 1.2 0 1 0 -2.4 0M204.7 304.2a1.2 1.2 0 1 0 2.4 0a1.2 1.2 0 1 0 -2.4 0M197.6 321.0a1.2 1.2 0 1 0 2.4 0a1.2 1.2 0 1 0 -2.4 0M192.8 330.3a1.2 1.2 0 1 0 2.4 0a1.2 1.2 0 1 0 -2.4 0M203.6 325.9a1.2 1.2 0 1 0 2.4 0a1.2 1.2 0 1 0 -2.4 0M198.4 357.6a1.2 1.2 0 1 0 2.4 0a1.2 1.2 0 1 0 -2.4 0M208.7 352.3a1.2 1.2 0 1 0 2.4 0a1.2 1.2 0 1 0 -2.4 0M196.9 354.5a1.2 1.2 0 1 0 2.4 0a1.2 1.2 0 1 0 -2.4 0M194.6 327.7a1.2 1.2 0 1 0 2.4 0a1.2 1.2 0 1 0 -2.4 0M193.8 312.8a1.2 1.2 0 1 0 2.4 0a1.2 1.2 0 1 0 -2.4 0M195.3 304.2a1.2 1.2 0 1 0 2.4 0a1.2 1.2 0 1 0 -2.4 0M195.0 345.3a1.2 1.2 0 1 0 2.4 0a1.2 1.2 0 1 0 -2.4 0M201.1 330.1a1.2 1.2 0 1 0 2.4 0a1.2 1.2 0 1 0 -2.4 0M197.8 374.4a1.2 1.2 0 1 0 2.4 0a1.2 1.2 0 1 0 -2.4 0M210.7 390.0a1.2 1.2 0 1 0 2.4 0a1.2 1.2 0 1 0 -2.4 0M194.2 354.9a1.2 1.2 0 1 0 2.4 0a1.2 1.2 0 1 0 -2.4 0M210.1 349.7a1.2 1.2 0 1 0 2.4 0a1.2 1.2 0 1 0 -2.4 0M197.1 372.7a1.2 1.2 0 1 0 2.4 0a1.2 1.2 0 1 0 -2.4 0M200.2 378.6a1.2 1.2 0 1 0 2.4 0a1.2 1.2 0 1 0 -2.4 0M210.5 318.5a1.2 1.2 0 1 0 2.4 0a1.2 1.2 0 1 0 -2.4 0M206.7 353.3a1.2 1.2 0 1 0 2.4 0a1.2 1.2 0 1 0 -2.4 0M210.2 376.1a1.2 1.2 0 1 0 2.4 0a1.2 1.2 0 1 0 -2.4 0M201.4 272.2a1.2 1.2 0 1 0 2.4 0a1.2 1.2 0 1 0 -2.4 0M196.7 328.0a1.2 1.2 0 1 0 2.4 0a1.2 1.2 0 1 0 -2.4 0M204.4 340.8a1.2 1.2 0 1 0 2.4 0a1.2 1.2 0 1 0 -2.4 0M204.6 314.9a1.2 1.2 0 1 0 2.4 0a1.2 1.2 0 1 0 -2.4 0M190.7 352.3a1.2 1.2 0 1 0 2.4 0a1.2 1.2 0 1 0 -2.4 0M192.1 300.5a1.2 1.2 0 1 0 2.4 0a1.2 1.2 0 1 0 -2.4 0M210.2 372.6a1.2 1.2 0 1 0 2.4 0a1.2 1.2 0 1 0 -2.4 0M205.4 366.6a1.2 1.2 0 1 0 2.4 0a1.2 1.2 0 1 0 -2.4 0M207.6 336.2a1.2 1.2 0 1 0 2.4 0a1.2 1.2 0 1 0 -2.4 0M193.9 352.6a1.2 1.2 0 1 0 2.4 0a1.2 1.2 0 1 0 -2.4 0M210.8 268.2a1.2 1.2 0 1 0 2.4 0a1.2 1.2 0 1 0 -2.4 0M196.3 374.4a1.2 1.2 0 1 0 2.4 0a1.2 1.2 0 1 0 -2.4 0M192.8 351.8a1.2 1.2 0 1 0 2.4 0a1.2 1.2 0 1 0 -2.4 0M197.6 326.6a1.2 1.2 0 1 0 2.4 0a1.2 1.2 0 1 0 -2.4 0M197.4 318.2a1.2 1.2 0 1 0 2.4 0a1.2 1.2 0 1 0 -2.4 0M191.1 306.8a1.2 1.2 0 1 0 2.4 0a1.2 1.2 0 1 0 -2.4 0M208.1 324.0a1.2 1.2 0 1 0 2.4 0a1.2 1.2 0 1 0 -2.4 0M208.6 387.7a1.2 1.2 0 1 0 2.4 0a1.2 1.2 0 1 0 -2.4 0M194.1 345.2a1.2 1.2 0 1 0 2.4 0a1.2 1.2 0 1 0 -2.4 0M201.7 328.4a1.2 1.2 0 1 0 2.4 0a1.2 1.2 0 1 0 -2.4 0M208.6 310.7a1.2 1.2 0 1 0 2.4 0a1.2 1.2 0 1 0 -2.4 0M198.0 341.2a1.2 1.2 0 1 0 2.4 0a1.2 1.2 0 1 0 -2.4 0M200.8 340.6a1.2 1.2 0 1 0 2.4 0a1.2 1.2 0 1 0 -2.4 0M195.1 357.4a1.2 1.2 0 1 0 2.4 0a1.2 1.2 0 1 0 -2.4 0M199.9 349.8a1.2 1.2 0 1 0 2.4 0a1.2 1.2 0 1 0 -2.4 0M196.5 362.4a1.2 1.2 0 1 0 2.4 0a1.2 1.2 0 1 0 -2.4 0M207.6 347.5a1.2 1.2 0 1 0 2.4 0a1.2 1.2 0 1 0 -2.4 0M193.2 373.3a1.2 1.2 0 1 0 2.4 0a1.2 1.2 0 1 0 -2.4 0M190.5 323.3a1.2 1.2 0 1 0 2.4 0a1.2 1.2 0 1 0 -2.4 0M209.3 374.5a1.2 1.2 0 1 0 2.4 0a1.2 1.2 0 1 0 -2.4 0M193.5 279.6a1.2 1.2 0 1 0 2.4 0a1.2 1.2 0 1 0 -2.4 0M201.7 289.1a1.2 1.2 0 1 0 2.4 0a1.2 1.2 0 1 0 -2.4 0M205.1 304.5a1.2 1.2 0 1 0 2.4 0a1.2 1.2 0 1 0 -2.4 0M196.9 338.7a1.2 1.2 0 1 0 2.4 0a1.2 1.2 0 1 0 -2.4 0M209.9 348.5a1.2 1.2 0 1 0 2.4 0a1.2 1.2 0 1 0 -2.4 0M197.1 301.5a1.2 1.2 0 1 0 2.4 0a1.2 1.2 0 1 0 -2.4 0M194.1 328.6a1.2 1.2 0 1 0 2.4 0a1.2 1.2 0 1 0 -2.4 0M191.2 387.5a1.2 1.2 0 1 0 2.4 0a1.2 1.2 0 1 0 -2.4 0M209.2 352.0a1.2 1.2 0 1 0 2.4 0a1.2 1.2 0 1 0 -2.4 0M194.5 305.7a1.2 1.2 0 1 0 2.4 0a1.2 1.2 0 1 0 -2.4 0M209.2 354.1a1.2 1.2 0 1 0 2.4 0a1.2 1.2 0 1 0 -2.4 0M199.7 376.7a1.2 1.2 0 1 0 2.4 0a1.2 1.2 0 1 0 -2.4 0M210.0 378.3a1.2 1.2 0 1 0 2.4 0a1.2 1.2 0 1 0 -2.4 0M191.7 350.4a1.2 1.2 0 1 0 2.4 0a1.2 1.2 0 1 0 -2.4 0M208.3 320.4a1.2 1.2 0 1 0 2.4 0a1.2 1.2 0 1 0 -2.4 0M211.0 345.1a1.2 1.2 0 1 0 2.4 0a1.2 1.2 0 1 0 -2.4 0M205.2 345.0a1.2 1.2 0 1 0 2.4 0a1.2 1.2 0 1 0 -2.4 0M192.7 313.0a1.2 1.2 0 1 0 2.4 0a1.2 1.2 0 1 0 -2.4 0M211.3 335.3a1.2 1.2 0 1 0 2.4 0a1.2 1.2 0 1 0 -2.4 0M207.1 301.2a1.2 1.2 0 1 0 2.4 0a1.2 1.2 0 1 0 -2.4 0M194.3 396.1a1.2 1.2 0 1 0 2.4 0a1.2 1.2 0 1 0 -2.4 0M210.8 315.6a1.2 1.2 0 1 0 2.4 0a1.2 1.2 0 1 0 -2.4 0M191.7 320.3a1.2 1.2 0 1 0 2.4 0a1.2 1.2 0 1 0 -2.4 0M192.6 373.5a1.2 1.2 0 1 0 2.4 0a1.2 1.2 0 1 0 -2.4 0M190.1 367.2a1.2 1.2 0 1 0 2.4 0a1.2 1.2 0 1 0 -2.4 0M202.6 310.7a1.2 1.2 0 1 0 2.4 0a1.2 1.2 0 1 0 -2.4 0M198.5 361.2a1.2 1.2 0 1 0 2.4 0a1.2 1.2 0 1 0 -2.4 0M191.7 350.0a1.2 1.2 0 1 0 2.4 0a1.2 1.2 0 1 0 -2.4 0M200.5 318.0a1.2 1.2 0 1 0 2.4 0a1.2 1.2 0 1 0 -2.4 0M208.8 342.1a1.2 1.2 0 1 0 2.4 0a1.2 1.2 0 1 0 -2.4 0M191.8 321.2a1.2 1.2 0 1 0 2.4 0a1.2 1.2 0 1 0 -2.4 0M203.6 356.0a1.2 1.2 0 1 0 2.4 0a1.2 1.2 0 1 0 -2.4 0M193.4 325.8a1.2 1.2 0 1 0 2.4 0a1.2 1.2 0 1 0 -2.4 0M200.8 305.5a1.2 1.2 0 1 0 2.4 0a1.2 1.2 0 1 0 -2.4 0M197.2 325.1a1.2 1.2 0 1 0 2.4 0a1.2 1.2 0 1 0 -2.4 0M195.8 390.4a1.2 1.2 0 1 0 2.4 0a1.2 1.2 0 1 0 -2.4 0M190.1 316.7a1.2 1.2 0 1 0 2.4 0a1.2 1.2 0 1 0 -2.4 0M202.3 332.0a1.2 1.2 0 1 0 2.4 0a1.2 1.2 0 1 0 -2.4 0M199.4 357.0a1.2 1.2 0 1 0 2.4 0a1.2 1.2 0 1 0 -2.4 0M204.7 297.4a1.2 1.2 0 1 0 2.4 0a1.2 1.2 0 1 0 -2.4 0M193.8 378.8a1.2 1.2 0 1 0 2.4 0a1.2 1.2 0 1 0 -2.4 0M211.0 364.4a1.2 1.2 0 1 0 2.4 0a1.2 1.2 0 1 0 -2.4 0M190.2 350.0a1.2 1.2 0 1 0 2.4 0a1.2 1.2 0 1 0 -2.4 0M194.0 292.7a1.2 1.2 0 1 0 2.4 0a1.2 1.2 0 1 0 -2.4 0M203.7 334.7a1.2 1.2 0 1 0 2.4 0a1.2 1.2 0 1 0 -2.4 0M192.7 368.1a1.2 1.2 0 1 0 2.4 0a1.2 1.2 0 1 0 -2.4 0M195.4 331.1a1.2 1.2 0 1 0 2.4 0a1.2 1.2 0 1 0 -2.4 0M200.6 325.0a1.2 1.2 0 1 0 2.4 0a1.2 1.2 0 1 0 -2.4 0M206.1 319.5a1.2 1.2 0 1 0 2.4 0a1.2 1.2 0 1 0 -2.4 0M208.5 306.1a1.2 1.2 0 1 0 2.4 0a1.2 1.2 0 1 0 -2.4 0M196.6 356.8a1.2 1.2 0 1 0 2.4 0a1.2 1.2 0 1 0 -2.4 0M204.0 320.8a1.2 1.2 0 1 0 2.4 0a1.2 1.2 0 1 0 -2.4 0M190.3 314.5a1.2 1.2 0 1 0 2.4 0a1.2 1.2 0 1 0 -2.4 0M209.0 340.6a1.2 1.2 0 1 0 2.4 0a1.2 1.2 0 1 0 -2.4 0M204.3 357.9a1.2 1.2 0 1 0 2.4 0a1.2 1.2 0 1 0 -2.4 0M209.3 358.4a1.2 1.2 0 1 0 2.4 0a1.2 1.2 0 1 0 -2.4 0M194.3 314.2a1.2 1.2 0 1 0 2.4 0a1.2 1.2 0 1 0 -2.4 0M200.5 312.9a1.2 1.2 0 1 0 2.4 0a1.2 1.2 0 1 0 -2.4 0M205.9 355.1a1.2 1.2 0 1 0 2.4 0a1.2 1.2 0 1 0 -2.4 0M190.3 368.3a1.2 1.2 0 1 0 2.4 0a1.2 1.2 0 1 0 -2.4 0M208.0 301.5a1.2 1.2 0 1 0 2.4 0a1.2 1.2 0 1 0 -2.4 0M205.1 373.9a1.2 1.2 0 1 0 2.4 0a1.2 1.2 0 1 0 -2.4 0M206.8 329.5a1.2 1.2 0 1 0 2.4 0a1.2 1.2 0 1 0 -2.4 0M193.3 376.8a1.2 1.2 0 1 0 2.4 0a1.2 1.2 0 1 0 -2.4 0M206.6 379.1a1.2 1.2 0 1 0 2.4 0a1.2 1.2 0 1 0 -2.4 0M202.0 324.5a1.2 1.2 0 1 0 2.4 0a1.2 1.2 0 1 0 -2.4 0M193.0 338.5a1.2 1.2 0 1 0 2.4 0a1.2 1.2 0 1 0 -2.4 0M192.7 296.3a1.2 1.2 0 1 0 2.4 0a1.2 1.2 0 1 0 -2.4 0M208.3 362.5a1.2 1.2 0 1 0 2.4 0a1.2 1.2 0 1 0 -2.4 0M198.4 338.5a1.2 1.2 0 1 0 2.4 0a1.2 1.2 0 1 0 -2.4 0M195.7 307.0a1.2 1.2 0 1 0 2.4 0a1.2 1.2 0 1 0 -2.4 0M197.8 306.5a1.2 1.2 0 1 0 2.4 0a1.2 1.2 0 1 0 -2.4 0M204.6 347.2a1.2 1.2 0 1 0 2.4 0a1.2 1.2 0 1 0 -2.4 0M192.7 356.1a1.2 1.2 0 1 0 2.4 0a1.2 1.2 0 1 0 -2.4 0M193.3 291.9a1.2 1.2 0 1 0 2.4 0a1.2 1.2 0 1 0 -2.4 0M203.8 343.1a1.2 1.2 0 1 0 2.4 0a1.2 1.2 0 1 0 -2.4 0M209.1 334.3a1.2 1.2 0 1 0 2.4 0a1.2 1.2 0 1 0 -2.4 0M204.3 380.2a1.2 1.2 0 1 0 2.4 0a1.2 1.2 0 1 0 -2.4 0M210.2 337.1a1.2 1.2 0 1 0 2.4 0a1.2 1.2 0 1 0 -2.4 0M195.9 349.3a1.2 1.2 0 1 0 2.4 0a1.2 1.2 0 1 0 -2.4 0M197.4 314.2a1.2 1.2 0 1 0 2.4 0a1.2 1.2 0 1 0 -2.4 0M197.9 301.1a1.2 1.2 0 1 0 2.4 0a1.2 1.2 0 1 0 -2.4 0M197.5 343.3a1.2 1.2 0 1 0 2.4 0a1.2 1.2 0 1 0 -2.4 0M195.6 369.4a1.2 1.2 0 1 0 2.4 0a1.2 1.2 0 1 0 -2.4 0M206.9 332.3a1.2 1.2 0 1 0 2.4 0a1.2 1.2 0 1 0 -2.4 0M195.9 372.2a1.2 1.2 0 1 0 2.4 0a1.2 1.2 0 1 0 -2.4 0M198.8 350.2a1.2 1.2 0 1 0 2.4 0a1.2 1.2 0 1 0 -2.4 0M200.0 320.0a1.2 1.2 0 1 0 2.4 0a1.2 1.2 0 1 0 -2.4 0M211.3 273.5a1.2 1.2 0 1 0 2.4 0a1.2 1.2 0 1 0 -2.4 0M196.9 323.9a1.2 1.2 0 1 0 2.4 0a1.2 1.2 0 1 0 -2.4 0M204.7 361.2a1.2 1.2 0 1 0 2.4 0a1.2 1.2 0 1 0 -2.4 0M196.9 313.4a1.2 1.2 0 1 0 2.4 0a1.2 1.2 0 1 0 -2.4 0M207.1 391.8a1.2 1.2 0 1 0 2.4 0a1.2 1.2 0 1 0 -2.4 0M198.2 351.6a1.2 1.2 0 1 0 2.4 0a1.2 1.2 0 1 0 -2.4 0M190.3 294.2a1.2 1.2 0 1 0 2.4 0a1.2 1.2 0 1 0 -2.4 0M201.1 314.3a1.2 1.2 0 1 0 2.4 0a1.2 1.2 0 1 0 -2.4 0M197.1 369.4a1.2 1.2 0 1 0 2.4 0a1.2 1.2 0 1 0 -2.4 0M195.5 353.9a1.2 1.2 0 1 0 2.4 0a1.2 1.2 0 1 0 -2.4 0M196.1 311.5a1.2 1.2 0 1 0 2.4 0a1.2 1.2 0 1 0 -2.4 0M189.8 334.9a1.2 1.2 0 1 0 2.4 0a1.2 1.2 0 1 0 -2.4 0M205.6 349.0a1.2 1.2 0 1 0 2.4 0a1.2 1.2 0 1 0 -2.4 0M201.6 322.9a1.2 1.2 0 1 0 2.4 0a1.2 1.2 0 1 0 -2.4 0M203.5 348.5a1.2 1.2 0 1 0 2.4 0a1.2 1.2 0 1 0 -2.4 0M202.1 383.4a1.2 1.2 0 1 0 2.4 0a1.2 1.2 0 1 0 -2.4 0M198.0 312.7a1.2 1.2 0 1 0 2.4 0a1.2 1.2 0 1 0 -2.4 0M199.7 350.4a1.2 1.2 0 1 0 2.4 0a1.2 1.2 0 1 0 -2.4 0M200.1 359.6a1.2 1.2 0 1 0 2.4 0a1.2 1.2 0 1 0 -2.4 0M209.6 368.2a1.2 1.2 0 1 0 2.4 0a1.2 1.2 0 1 0 -2.4 0M197.3 327.2a1.2 1.2 0 1 0 2.4 0a1.2 1.2 0 1 0 -2.4 0M193.1 354.5a1.2 1.2 0 1 0 2.4 0a1.2 1.2 0 1 0 -2.4 0M191.6 317.5a1.2 1.2 0 1 0 2.4 0a1.2 1.2 0 1 0 -2.4 0M197.1 357.0a1.2 1.2 0 1 0 2.4 0a1.2 1.2 0 1 0 -2.4 0M202.2 305.6a1.2 1.2 0 1 0 2.4 0a1.2 1.2 0 1 0 -2.4 0M202.4 343.6a1.2 1.2 0 1 0 2.4 0a1.2 1.2 0 1 0 -2.4 0M205.5 350.6a1.2 1.2 0 1 0 2.4 0a1.2 1.2 0 1 0 -2.4 0M204.0 384.7a1.2 1.2 0 1 0 2.4 0a1.2 1.2 0 1 0 -2.4 0M191.6 362.1a1.2 1.2 0 1 0 2.4 0a1.2 1.2 0 1 0 -2.4 0M198.2 315.0a1.2 1.2 0 1 0 2.4 0a1.2 1.2 0 1 0 -2.4 0M197.8 366.1a1.2 1.2 0 1 0 2.4 0a1.2 1.2 0 1 0 -2.4 0M192.2 360.5a1.2 1.2 0 1 0 2.4 0a1.2 1.2 0 1 0 -2.4 0M202.5 324.9a1.2 1.2 0 1 0 2.4 0a1.2 1.2 0 1 0 -2.4 0M206.5 321.3a1.2 1.2 0 1 0 2.4 0a1.2 1.2 0 1 0 -2.4 0M190.7 351.2a1.2 1.2 0 1 0 2.4 0a1.2 1.2 0 1 0 -2.4 0M201.2 331.6a1.2 1.2 0 1 0 2.4 0a1.2 1.2 0 1 0 -2.4 0M192.4 375.3a1.2 1.2 0 1 0 2.4 0a1.2 1.2 0 1 0 -2.4 0M206.6 341.3a1.2 1.2 0 1 0 2.4 0a1.2 1.2 0 1 0 -2.4 0M201.9 310.3a1.2 1.2 0 1 0 2.4 0a1.2 1.2 0 1 0 -2.4 0M191.2 291.3a1.2 1.2 0 1 0 2.4 0a1.2 1.2 0 1 0 -2.4 0M200.9 338.0a1.2 1.2 0 1 0 2.4 0a1.2 1.2 0 1 0 -2.4 0M195.0 340.3a1.2 1.2 0 1 0 2.4 0a1.2 1.2 0 1 0 -2.4 0M194.3 390.1a1.2 1.2 0 1 0 2.4 0a1.2 1.2 0 1 0 -2.4 0M204.2 304.9a1.2 1.2 0 1 0 2.4 0a1.2 1.2 0 1 0 -2.4 0M198.5 321.0a1.2 1.2 0 1 0 2.4 0a1.2 1.2 0 1 0 -2.4 0M209.8 353.1a1.2 1.2 0 1 0 2.4 0a1.2 1.2 0 1 0 -2.4 0M209.6 324.4a1.2 1.2 0 1 0 2.4 0a1.2 1.2 0 1 0 -2.4 0M208.2 308.5a1.2 1.2 0 1 0 2.4 0a1.2 1.2 0 1 0 -2.4 0M198.7 352.1a1.2 1.2 0 1 0 2.4 0a1.2 1.2 0 1 0 -2.4 0M209.3 368.2a1.2 1.2 0 1 0 2.4 0a1.2 1.2 0 1 0 -2.4 0M191.4 320.4a1.2 1.2 0 1 0 2.4 0a1.2 1.2 0 1 0 -2.4 0M206.6 324.1a1.2 1.2 0 1 0 2.4 0a1.2 1.2 0 1 0 -2.4 0M197.6 308.5a1.2 1.2 0 1 0 2.4 0a1.2 1.2 0 1 0 -2.4 0M208.5 331.3a1.2 1.2 0 1 0 2.4 0a1.2 1.2 0 1 0 -2.4 0M190.4 350.3a1.2 1.2 0 1 0 2.4 0a1.2 1.2 0 1 0 -2.4 0M202.2 344.9a1.2 1.2 0 1 0 2.4 0a1.2 1.2 0 1 0 -2.4 0M191.3 360.2a1.2 1.2 0 1 0 2.4 0a1.2 1.2 0 1 0 -2.4 0M196.2 358.1a1.2 1.2 0 1 0 2.4 0a1.2 1.2 0 1 0 -2.4 0M202.0 348.1a1.2 1.2 0 1 0 2.4 0a1.2 1.2 0 1 0 -2.4 0M192.8 346.1a1.2 1.2 0 1 0 2.4 0a1.2 1.2 0 1 0 -2.4 0M204.8 304.7a1.2 1.2 0 1 0 2.4 0a1.2 1.2 0 1 0 -2.4 0M200.9 365.3a1.2 1.2 0 1 0 2.4 0a1.2 1.2 0 1 0 -2.4 0M194.6 334.8a1.2 1.2 0 1 0 2.4 0a1.2 1.2 0 1 0 -2.4 0M201.4 348.8a1.2 1.2 0 1 0 2.4 0a1.2 1.2 0 1 0 -2.4 0M199.4 295.0a1.2 1.2 0 1 0 2.4 0a1.2 1.2 0 1 0 -2.4 0M190.5 326.7a1.2 1.2 0 1 0 2.4 0a1.2 1.2 0 1 0 -2.4 0M205.1 343.2a1.2 1.2 0 1 0 2.4 0a1.2 1.2 0 1 0 -2.4 0M205.2 312.4a1.2 1.2 0 1 0 2.4 0a1.2 1.2 0 1 0 -2.4 0M209.5 331.7a1.2 1.2 0 1 0 2.4 0a1.2 1.2 0 1 0 -2.4 0M210.1 345.8a1.2 1.2 0 1 0 2.4 0a1.2 1.2 0 1 0 -2.4 0M197.8 293.7a1.2 1.2 0 1 0 2.4 0a1.2 1.2 0 1 0 -2.4 0M203.7 315.0a1.2 1.2 0 1 0 2.4 0a1.2 1.2 0 1 0 -2.4 0M202.9 288.7a1.2 1.2 0 1 0 2.4 0a1.2 1.2 0 1 0 -2.4 0M190.9 303.5a1.2 1.2 0 1 0 2.4 0a1.2 1.2 0 1 0 -2.4 0M205.4 313.4a1.2 1.2 0 1 0 2.4 0a1.2 1.2 0 1 0 -2.4 0M195.7 330.0a1.2 1.2 0 1 0 2.4 0a1.2 1.2 0 1 0 -2.4 0M199.0 361.5a1.2 1.2 0 1 0 2.4 0a1.2 1.2 0 1 0 -2.4 0M203.2 315.0a1.2 1.2 0 1 0 2.4 0a1.2 1.2 0 1 0 -2.4 0M200.7 367.5a1.2 1.2 0 1 0 2.4 0a1.2 1.2 0 1 0 -2.4 0M195.8 315.9a1.2 1.2 0 1 0 2.4 0a1.2 1.2 0 1 0 -2.4 0M208.7 333.2a1.2 1.2 0 1 0 2.4 0a1.2 1.2 0 1 0 -2.4 0M191.8 351.2a1.2 1.2 0 1 0 2.4 0a1.2 1.2 0 1 0 -2.4 0M202.8 359.4a1.2 1.2 0 1 0 2.4 0a1.2 1.2 0 1 0 -2.4 0M193.8 315.2a1.2 1.2 0 1 0 2.4 0a1.2 1.2 0 1 0 -2.4 0M209.8 299.9a1.2 1.2 0 1 0 2.4 0a1.2 1.2 0 1 0 -2.4 0M210.0 340.8a1.2 1.2 0 1 0 2.4 0a1.2 1.2 0 1 0 -2.4 0M205.2 321.6a1.2 1.2 0 1 0 2.4 0a1.2 1.2 0 1 0 -2.4 0M208.9 297.5a1.2 1.2 0 1 0 2.4 0a1.2 1.2 0 1 0 -2.4 0M206.4 388.2a1.2 1.2 0 1 0 2.4 0a1.2 1.2 0 1 0 -2.4 0M203.9 342.1a1.2 1.2 0 1 0 2.4 0a1.2 1.2 0 1 0 -2.4 0M205.9 362.3a1.2 1.2 0 1 0 2.4 0a1.2 1.2 0 1 0 -2.4 0M209.5 302.8a1.2 1.2 0 1 0 2.4 0a1.2 1.2 0 1 0 -2.4 0M194.5 326.5a1.2 1.2 0 1 0 2.4 0a1.2 1.2 0 1 0 -2.4 0M205.6 345.2a1.2 1.2 0 1 0 2.4 0a1.2 1.2 0 1 0 -2.4 0M193.7 376.1a1.2 1.2 0 1 0 2.4 0a1.2 1.2 0 1 0 -2.4 0M199.8 337.9a1.2 1.2 0 1 0 2.4 0a1.2 1.2 0 1 0 -2.4 0M197.1 394.0a1.2 1.2 0 1 0 2.4 0a1.2 1.2 0 1 0 -2.4 0M203.5 340.9a1.2 1.2 0 1 0 2.4 0a1.2 1.2 0 1 0 -2.4 0M203.6 344.2a1.2 1.2 0 1 0 2.4 0a1.2 1.2 0 1 0 -2.4 0M209.3 316.7a1.2 1.2 0 1 0 2.4 0a1.2 1.2 0 1 0 -2.4 0M207.9 329.3a1.2 1.2 0 1 0 2.4 0a1.2 1.2 0 1 0 -2.4 0M191.2 331.9a1.2 1.2 0 1 0 2.4 0a1.2 1.2 0 1 0 -2.4 0M193.5 317.7a1.2 1.2 0 1 0 2.4 0a1.2 1.2 0 1 0 -2.4 0M190.8 371.4a1.2 1.2 0 1 0 2.4 0a1.2 1.2 0 1 0 -2.4 0M205.1 354.7a1.2 1.2 0 1 0 2.4 0a1.2 1.2 0 1 0 -2.4 0M197.3 326.8a1.2 1.2 0 1 0 2.4 0a1.2 1.2 0 1 0 -2.4 0M210.9 335.8a1.2 1.2 0 1 0 2.4 0a1.2 1.2 0 1 0 -2.4 0M194.4 339.3a1.2 1.2 0 1 0 2.4 0a1.2 1.2 0 1 0 -2.4 0M210.5 327.8a1.2 1.2 0 1 0 2.4 0a1.2 1.2 0 1 0 -2.4 0M206.1 327.4a1.2 1.2 0 1 0 2.4 0a1.2 1.2 0 1 0 -2.4 0M206.3 348.7a1.2 1.2 0 1 0 2.4 0a1.2 1.2 0 1 0 -2.4 0M202.9 350.4a1.2 1.2 0 1 0 2.4 0a1.2 1.2 0 1 0 -2.4 0M208.9 321.6a1.2 1.2 0 1 0 2.4 0a1.2 1.2 0 1 0 -2.4 0M194.9 304.2a1.2 1.2 0 1 0 2.4 0a1.2 1.2 0 1 0 -2.4 0M208.6 298.1a1.2 1.2 0 1 0 2.4 0a1.2 1.2 0 1 0 -2.4 0M208.8 355.0a1.2 1.2 0 1 0 2.4 0a1.2 1.2 0 1 0 -2.4 0M202.9 385.1a1.2 1.2 0 1 0 2.4 0a1.2 1.2 0 1 0 -2.4 0M204.1 313.5a1.2 1.2 0 1 0 2.4 0a1.2 1.2 0 1 0 -2.4 0M194.7 333.9a1.2 1.2 0 1 0 2.4 0a1.2 1.2 0 1 0 -2.4 0M200.4 320.5a1.2 1.2 0 1 0 2.4 0a1.2 1.2 0 1 0 -2.4 0M202.5 311.7a1.2 1.2 0 1 0 2.4 0a1.2 1.2 0 1 0 -2.4 0M196.6 286.9a1.2 1.2 0 1 0 2.4 0a1.2 1.2 0 1 0 -2.4 0M190.7 360.3a1.2 1.2 0 1 0 2.4 0a1.2 1.2 0 1 0 -2.4 0M210.3 317.6a1.2 1.2 0 1 0 2.4 0a1.2 1.2 0 1 0 -2.4 0M207.2 336.7a1.2 1.2 0 1 0 2.4 0a1.2 1.2 0 1 0 -2.4 0M197.7 338.4a1.2 1.2 0 1 0 2.4 0a1.2 1.2 0 1 0 -2.4 0M201.3 303.4a1.2 1.2 0 1 0 2.4 0a1.2 1.2 0 1 0 -2.4 0M202.6 311.9a1.2 1.2 0 1 0 2.4 0a1.2 1.2 0 1 0 -2.4 0M210.5 359.3a1.2 1.2 0 1 0 2.4 0a1.2 1.2 0 1 0 -2.4 0M201.9 340.4a1.2 1.2 0 1 0 2.4 0a1.2 1.2 0 1 0 -2.4 0M205.4 327.2a1.2 1.2 0 1 0 2.4 0a1.2 1.2 0 1 0 -2.4 0M207.1 369.5a1.2 1.2 0 1 0 2.4 0a1.2 1.2 0 1 0 -2.4 0M192.0 310.7a1.2 1.2 0 1 0 2.4 0a1.2 1.2 0 1 0 -2.4 0M202.4 335.0a1.2 1.2 0 1 0 2.4 0a1.2 1.2 0 1 0 -2.4 0M209.9 328.8a1.2 1.2 0 1 0 2.4 0a1.2 1.2 0 1 0 -2.4 0M207.6 324.3a1.2 1.2 0 1 0 2.4 0a1.2 1.2 0 1 0 -2.4 0M209.7 300.8a1.2 1.2 0 1 0 2.4 0a1.2 1.2 0 1 0 -2.4 0M193.3 332.1a1.2 1.2 0 1 0 2.4 0a1.2 1.2 0 1 0 -2.4 0M206.6 342.2a1.2 1.2 0 1 0 2.4 0a1.2 1.2 0 1 0 -2.4 0M195.8 288.1a1.2 1.2 0 1 0 2.4 0a1.2 1.2 0 1 0 -2.4 0M208.7 345.9a1.2 1.2 0 1 0 2.4 0a1.2 1.2 0 1 0 -2.4 0M206.7 346.5a1.2 1.2 0 1 0 2.4 0a1.2 1.2 0 1 0 -2.4 0M197.9 368.7a1.2 1.2 0 1 0 2.4 0a1.2 1.2 0 1 0 -2.4 0M202.3 305.1a1.2 1.2 0 1 0 2.4 0a1.2 1.2 0 1 0 -2.4 0M199.9 326.0a1.2 1.2 0 1 0 2.4 0a1.2 1.2 0 1 0 -2.4 0M210.1 320.8a1.2 1.2 0 1 0 2.4 0a1.2 1.2 0 1 0 -2.4 0M201.8 328.7a1.2 1.2 0 1 0 2.4 0a1.2 1.2 0 1 0 -2.4 0M191.5 336.4a1.2 1.2 0 1 0 2.4 0a1.2 1.2 0 1 0 -2.4 0M201.4 353.2a1.2 1.2 0 1 0 2.4 0a1.2 1.2 0 1 0 -2.4 0M190.2 353.1a1.2 1.2 0 1 0 2.4 0a1.2 1.2 0 1 0 -2.4 0M192.7 321.8a1.2 1.2 0 1 0 2.4 0a1.2 1.2 0 1 0 -2.4 0M200.4 329.8a1.2 1.2 0 1 0 2.4 0a1.2 1.2 0 1 0 -2.4 0M199.8 290.9a1.2 1.2 0 1 0 2.4 0a1.2 1.2 0 1 0 -2.4 0M191.3 352.5a1.2 1.2 0 1 0 2.4 0a1.2 1.2 0 1 0 -2.4 0M197.2 345.5a1.2 1.2 0 1 0 2.4 0a1.2 1.2 0 1 0 -2.4 0" fill="#43B6D3" fill-opacity="0.6"/>
<path d="M95.70,264.60 L95.90,265.76 L96.20,266.93 L96.49,268.09 L96.79,269.25 L97.09,270.42 L97.39,271.58 L97.71,272.74 L98.06,273.90 L98.46,275.07 L98.86,276.23 L99.27,277.39 L99.68,278.56 L100.09,279.72 L100.50,280.88 L100.91,282.05 L101.31,283.21 L101.72,284.37 L102.13,285.53 L102.55,286.70 L102.98,287.86 L103.41,289.02 L103.84,290.19 L104.27,291.35 L104.71,292.51 L105.14,293.68 L105.57,294.84 L106.00,296.00 L106.43,297.16 L106.86,298.33 L107.30,299.49 L107.74,300.65 L108.18,301.82 L108.63,302.98 L109.07,304.14 L109.52,305.31 L109.96,306.47 L110.40,307.63 L110.85,308.79 L111.29,309.96 L111.74,311.12 L112.19,312.28 L112.66,313.45 L113.13,314.61 L113.62,315.77 L114.10,316.94 L114.56,318.10 L115.00,319.26 L115.44,320.43 L115.87,321.59 L116.30,322.75 L116.73,323.91 L117.16,325.08 L117.59,326.24 L118.02,327.40 L118.44,328.57 L118.81,329.73 L119.13,330.89 L119.40,332.06 L119.68,333.22 L119.95,334.38 L120.23,335.54 L120.51,336.71 L120.76,337.87 L120.91,339.03 L120.95,340.20 L120.91,341.36 L120.87,342.52 L120.83,343.69 L120.79,344.85 L120.75,346.01 L120.59,347.17 L120.27,348.34 L119.79,349.50 L119.26,350.66 L118.73,351.83 L118.20,352.99 L117.68,354.15 L117.14,355.32 L116.52,356.48 L115.82,357.64 L115.06,358.81 L114.30,359.97 L113.53,361.13 L112.77,362.29 L112.01,363.46 L111.28,364.62 L110.61,365.78 L109.99,366.95 L109.39,368.11 L108.79,369.27 L108.19,370.44 L107.59,371.60 L106.99,372.76 L106.41,373.92 L105.84,375.09 L105.29,376.25 L104.74,377.41 L104.20,378.58 L103.65,379.74 L103.10,380.90 L102.55,382.07 L101.98,383.23 L101.40,384.39 L100.82,385.55 L100.24,386.72 L99.66,387.88 L99.08,389.04 L98.50,390.21 L97.97,391.37 L97.51,392.53 L97.11,393.70 L96.71,394.86 L96.32,396.02 L95.92,397.18 L95.56,398.35 L95.26,399.51 L95.01,400.67 L94.75,401.84 L94.58,403.00 L92.42,403.00 L92.25,401.84 L91.99,400.67 L91.74,399.51 L91.44,398.35 L91.08,397.18 L90.68,396.02 L90.29,394.86 L89.89,393.70 L89.49,392.53 L89.03,391.37 L88.50,390.21 L87.92,389.04 L87.34,387.88 L86.76,386.72 L86.18,385.55 L85.60,384.39 L85.02,383.23 L84.45,382.07 L83.90,380.90 L83.35,379.74 L82.80,378.58 L82.26,377.41 L81.71,376.25 L81.16,375.09 L80.59,373.92 L80.01,372.76 L79.41,371.60 L78.81,370.44 L78.21,369.27 L77.61,368.11 L77.01,366.95 L76.39,365.78 L75.72,364.62 L74.99,363.46 L74.23,362.29 L73.47,361.13 L72.70,359.97 L71.94,358.81 L71.18,357.64 L70.48,356.48 L69.86,355.32 L69.32,354.15 L68.80,352.99 L68.27,351.83 L67.74,350.66 L67.21,349.50 L66.73,348.34 L66.41,347.17 L66.25,346.01 L66.21,344.85 L66.17,343.69 L66.13,342.52 L66.09,341.36 L66.05,340.20 L66.09,339.03 L66.24,337.87 L66.49,336.71 L66.77,335.54 L67.05,334.38 L67.32,333.22 L67.60,332.06 L67.87,330.89 L68.19,329.73 L68.56,328.57 L68.98,327.40 L69.41,326.24 L69.84,325.08 L70.27,323.91 L70.70,322.75 L71.13,321.59 L71.56,320.43 L72.00,319.26 L72.44,318.10 L72.90,316.94 L73.38,315.77 L73.87,314.61 L74.34,313.45 L74.81,312.28 L75.26,311.12 L75.71,309.96 L76.15,308.79 L76.60,307.63 L77.04,306.47 L77.48,305.31 L77.93,304.14 L78.37,302.98 L78.82,301.82 L79.26,300.65 L79.70,299.49 L80.14,298.33 L80.57,297.16 L81.00,296.00 L81.43,294.84 L81.86,293.68 L82.29,292.51 L82.73,291.35 L83.16,290.19 L83.59,289.02 L84.02,287.86 L84.45,286.70 L84.87,285.53 L85.28,284.37 L85.69,283.21 L86.09,282.05 L86.50,280.88 L86.91,279.72 L87.32,278.56 L87.73,277.39 L88.14,276.23 L88.54,275.07 L88.94,273.90 L89.29,272.74 L89.61,271.58 L89.91,270.42 L90.21,269.25 L90.51,268.09 L90.80,266.93 L91.10,265.76 L91.30,264.60Z" fill="none" stroke="#333" stroke-width="0.55"/>
<path d="M204.74,264.40 L204.81,265.56 L204.91,266.71 L205.02,267.87 L205.16,269.03 L205.34,270.18 L205.54,271.34 L205.74,272.49 L205.94,273.65 L206.14,274.81 L206.34,275.96 L206.56,277.12 L206.82,278.28 L207.13,279.43 L207.44,280.59 L207.76,281.74 L208.07,282.90 L208.39,284.06 L208.71,285.21 L209.09,286.37 L209.53,287.53 L210.03,288.68 L210.60,289.84 L211.24,290.99 L211.97,292.15 L212.71,293.31 L213.45,294.46 L214.20,295.62 L214.97,296.78 L215.70,297.93 L216.33,299.09 L216.86,300.25 L217.31,301.40 L217.81,302.56 L218.44,303.71 L219.20,304.87 L220.04,306.03 L220.87,307.18 L221.69,308.34 L222.51,309.50 L223.32,310.65 L224.13,311.81 L224.93,312.96 L225.71,314.12 L226.49,315.28 L227.16,316.43 L227.73,317.59 L228.20,318.75 L228.64,319.90 L228.95,321.06 L229.14,322.22 L229.24,323.37 L229.33,324.53 L229.37,325.68 L229.37,326.84 L229.34,328.00 L229.31,329.15 L229.10,330.31 L228.74,331.47 L228.23,332.62 L227.71,333.78 L227.20,334.93 L226.69,336.09 L226.18,337.25 L225.69,338.40 L225.26,339.56 L224.88,340.72 L224.52,341.87 L224.17,343.03 L223.81,344.18 L223.46,345.34 L223.11,346.50 L222.76,347.65 L222.41,348.81 L222.07,349.97 L221.73,351.12 L221.39,352.28 L221.05,353.44 L220.70,354.59 L220.34,355.75 L219.95,356.90 L219.51,358.06 L219.06,359.22 L218.61,360.37 L218.16,361.53 L217.70,362.69 L217.25,363.84 L216.76,365.00 L216.22,366.15 L215.63,367.31 L215.05,368.47 L214.46,369.62 L213.88,370.78 L213.29,371.94 L212.72,373.09 L212.17,374.25 L211.66,375.41 L211.17,376.56 L210.68,377.72 L210.18,378.87 L209.69,380.03 L209.20,381.19 L208.73,382.34 L208.29,383.50 L207.88,384.66 L207.47,385.81 L207.06,386.97 L206.65,388.12 L206.25,389.28 L205.85,390.44 L205.52,391.59 L205.26,392.75 L205.05,393.91 L204.84,395.06 L204.64,396.22 L204.43,397.37 L204.22,398.53 L204.01,399.69 L203.81,400.84 L203.67,402.00 L199.93,402.00 L199.79,400.84 L199.59,399.69 L199.38,398.53 L199.17,397.37 L198.96,396.22 L198.76,395.06 L198.55,393.91 L198.34,392.75 L198.08,391.59 L197.75,390.44 L197.35,389.28 L196.95,388.12 L196.54,386.97 L196.13,385.81 L195.72,384.66 L195.31,383.50 L194.87,382.34 L194.40,381.19 L193.91,380.03 L193.42,378.87 L192.92,377.72 L192.43,376.56 L191.94,375.41 L191.43,374.25 L190.88,373.09 L190.31,371.94 L189.72,370.78 L189.14,369.62 L188.55,368.47 L187.97,367.31 L187.38,366.15 L186.84,365.00 L186.35,363.84 L185.90,362.69 L185.44,361.53 L184.99,360.37 L184.54,359.22 L184.09,358.06 L183.65,356.90 L183.26,355.75 L182.90,354.59 L182.55,353.44 L182.21,352.28 L181.87,351.12 L181.53,349.97 L181.19,348.81 L180.84,347.65 L180.49,346.50 L180.14,345.34 L179.79,344.18 L179.43,343.03 L179.08,341.87 L178.72,340.72 L178.34,339.56 L177.91,338.40 L177.42,337.25 L176.91,336.09 L176.40,334.93 L175.89,333.78 L175.37,332.62 L174.86,331.47 L174.50,330.31 L174.29,329.15 L174.26,328.00 L174.23,326.84 L174.23,325.68 L174.27,324.53 L174.36,323.37 L174.46,322.22 L174.65,321.06 L174.96,319.90 L175.40,318.75 L175.87,317.59 L176.44,316.43 L177.11,315.28 L177.89,314.12 L178.67,312.96 L179.47,311.81 L180.28,310.65 L181.09,309.50 L181.91,308.34 L182.73,307.18 L183.56,306.03 L184.40,304.87 L185.16,303.71 L185.79,302.56 L186.29,301.40 L186.74,300.25 L187.27,299.09 L187.90,297.93 L188.63,296.78 L189.40,295.62 L190.15,294.46 L190.89,293.31 L191.63,292.15 L192.36,290.99 L193.00,289.84 L193.57,288.68 L194.07,287.53 L194.51,286.37 L194.89,285.21 L195.21,284.06 L195.53,282.90 L195.84,281.74 L196.16,280.59 L196.47,279.43 L196.78,278.28 L197.04,277.12 L197.26,275.96 L197.46,274.81 L197.66,273.65 L197.86,272.49 L198.06,271.34 L198.26,270.18 L198.44,269.03 L198.58,267.87 L198.69,266.71 L198.79,265.56 L198.86,264.40Z" fill="none" stroke="#333" stroke-width="0.55"/>
<path d="M93.5 264.6V317M93.5 356.3V403M201.8 264.4V312.4M201.8 353.5V402" stroke="#555" stroke-width="0.45"/>
<rect x="77" y="317" width="32.8" height="39.3" fill="none" stroke="#777" stroke-width="0.55"/>
<line x1="77" x2="109.8" y1="336.5" y2="336.5" stroke="#444" stroke-width="0.6"/>
<rect x="185.7" y="312.4" width="32.8" height="41.1" fill="none" stroke="#777" stroke-width="0.55"/>
<line x1="185.7" x2="218.5" y1="329.8" y2="329.8" stroke="#444" stroke-width="0.6"/>
<line x1="93.5" x2="119" y1="335.3" y2="335.3" stroke="#333" stroke-width="0.45" stroke-dasharray="0.8,1.6"/>
<circle cx="93.5" cy="335.3" r="2.45" fill="#8B0000"/>
<line x1="201.8" x2="230" y1="331.9" y2="331.9" stroke="#333" stroke-width="0.45" stroke-dasharray="0.8,1.6"/>
<circle cx="201.8" cy="331.9" r="2.45" fill="#8B0000"/>
<g transform="translate(124.60,335.60) scale(0.9921,1)">
<text x="0.00" y="0.31" font-family='"Liberation Serif", serif' font-size="6.20" font-weight="bold" font-style="normal" text-anchor="start" fill="#000" dominant-baseline="central" >&#956;</text>
<text x="3.51" y="2.36" font-family='"Liberation Serif", serif' font-size="3.41" font-weight="bold" font-style="normal" text-anchor="start" fill="#000" dominant-baseline="central" >mean</text>
<text x="11.47" y="0.00" font-family='"Liberation Serif", serif' font-size="6.20" font-weight="bold" font-style="normal" text-anchor="start" fill="#000" dominant-baseline="central" > = 57.59</text>
</g>
<path d="M125.1 332.7L126.3 331.3L127.6 332.7" fill="none" stroke="#111" stroke-width="0.45"/>
<g transform="translate(234.40,332.20) scale(0.9921,1)">
<text x="0.00" y="0.31" font-family='"Liberation Serif", serif' font-size="6.20" font-weight="bold" font-style="normal" text-anchor="start" fill="#000" dominant-baseline="central" >&#956;</text>
<text x="3.51" y="2.36" font-family='"Liberation Serif", serif' font-size="3.41" font-weight="bold" font-style="normal" text-anchor="start" fill="#000" dominant-baseline="central" >mean</text>
<text x="11.47" y="0.00" font-family='"Liberation Serif", serif' font-size="6.20" font-weight="bold" font-style="normal" text-anchor="start" fill="#000" dominant-baseline="central" > = 59.10</text>
</g>
<path d="M234.9 329.3L236.2 327.9L237.4 329.3" fill="none" stroke="#111" stroke-width="0.45"/>
<path d="M93.5 409.5V411M201.8 409.5V411" stroke="#444" stroke-width="0.4"/>
<g transform="translate(81.00,417.00) scale(1.0172,1)">
<text x="0.00" y="0.00" font-family='"Liberation Serif", serif' font-size="6.20" font-weight="normal" font-style="italic" text-anchor="start" fill="#000" dominant-baseline="central" stroke="#000" stroke-width="0.3">CA9</text>
<text x="11.02" y="0.00" font-family='"Liberation Serif", serif' font-size="6.20" font-weight="normal" font-style="normal" text-anchor="start" fill="#000" dominant-baseline="central" stroke="#000" stroke-width="0.3"> high</text>
</g>
<g transform="translate(81.00,423.80) scale(0.9383,1)">
<text x="0.00" y="0.00" font-family='"Liberation Serif", serif' font-size="6.00" font-weight="normal" font-style="normal" text-anchor="start" fill="#000" dominant-baseline="central" stroke="#000" stroke-width="0.3">(n = 550)</text>
</g>
<g transform="translate(190.00,417.20) scale(0.9830,1)">
<text x="0.00" y="0.00" font-family='"Liberation Serif", serif' font-size="6.20" font-weight="normal" font-style="italic" text-anchor="start" fill="#000" dominant-baseline="central" stroke="#000" stroke-width="0.3">CA9</text>
<text x="11.02" y="0.00" font-family='"Liberation Serif", serif' font-size="6.20" font-weight="normal" font-style="normal" text-anchor="start" fill="#000" dominant-baseline="central" stroke="#000" stroke-width="0.3"> low</text>
</g>
<g transform="translate(190.00,423.80) scale(0.9383,1)">
<text x="0.00" y="0.00" font-family='"Liberation Serif", serif' font-size="6.00" font-weight="normal" font-style="normal" text-anchor="start" fill="#000" dominant-baseline="central" stroke="#000" stroke-width="0.3">(n = 550)</text>
</g>
<g transform="translate(139.50,423.60) scale(1.0460,1)">
<text x="0.00" y="0.00" font-family='"Liberation Serif", serif' font-size="6.30" font-weight="normal" font-style="italic" text-anchor="start" fill="#000" dominant-baseline="central" stroke="#000" stroke-width="0.3">group</text>
</g>
<g transform="translate(79.00,440.00) scale(1.0539,1)">
<text x="0.00" y="0.00" font-family='"Liberation Sans", sans-serif' font-size="5.60" font-weight="normal" font-style="normal" text-anchor="start" fill="#000" dominant-baseline="central" >log</text>
<text x="7.47" y="1.68" font-family='"Liberation Sans", sans-serif' font-size="3.36" font-weight="normal" font-style="normal" text-anchor="start" fill="#000" dominant-baseline="central" >e</text>
<text x="9.34" y="0.00" font-family='"Liberation Sans", sans-serif' font-size="5.60" font-weight="normal" font-style="normal" text-anchor="start" fill="#000" dominant-baseline="central" >(BF</text>
<text x="18.36" y="1.68" font-family='"Liberation Sans", sans-serif' font-size="3.36" font-weight="normal" font-style="normal" text-anchor="start" fill="#000" dominant-baseline="central" >01</text>
<text x="22.10" y="0.00" font-family='"Liberation Sans", sans-serif' font-size="5.60" font-weight="normal" font-style="normal" text-anchor="start" fill="#000" dominant-baseline="central" >) = 0.94, </text>
<text x="44.36" y="0.00" font-family='"Liberation Sans", sans-serif' font-size="5.60" font-weight="normal" font-style="italic" text-anchor="start" fill="#000" dominant-baseline="central" >&#948;&#770;</text>
<text x="47.47" y="-2.24" font-family='"Liberation Sans", sans-serif' font-size="3.08" font-weight="normal" font-style="normal" text-anchor="start" fill="#000" dominant-baseline="central" >posterior</text>
<text x="47.47" y="1.96" font-family='"Liberation Sans", sans-serif' font-size="3.08" font-weight="normal" font-style="normal" text-anchor="start" fill="#000" dominant-baseline="central" >difference</text>
<text x="59.45" y="0.00" font-family='"Liberation Sans", sans-serif' font-size="5.60" font-weight="normal" font-style="normal" text-anchor="start" fill="#000" dominant-baseline="central" > = 1.50, CI</text>
<text x="85.45" y="-2.24" font-family='"Liberation Sans", sans-serif' font-size="3.08" font-weight="normal" font-style="normal" text-anchor="start" fill="#000" dominant-baseline="central" >HDI</text>
<text x="85.45" y="1.96" font-family='"Liberation Sans", sans-serif' font-size="3.08" font-weight="normal" font-style="normal" text-anchor="start" fill="#000" dominant-baseline="central" >95%</text>
<text x="90.75" y="0.00" font-family='"Liberation Sans", sans-serif' font-size="5.60" font-weight="normal" font-style="normal" text-anchor="start" fill="#000" dominant-baseline="central" > [-0.05, 3.02], </text>
<text x="125.30" y="0.00" font-family='"Liberation Sans", sans-serif' font-size="5.60" font-weight="normal" font-style="italic" text-anchor="start" fill="#000" dominant-baseline="central" >r</text>
<text x="127.17" y="-2.24" font-family='"Liberation Sans", sans-serif' font-size="3.08" font-weight="normal" font-style="normal" text-anchor="start" fill="#000" dominant-baseline="central" >JZS</text>
<text x="127.17" y="1.96" font-family='"Liberation Sans", sans-serif' font-size="3.08" font-weight="normal" font-style="normal" text-anchor="start" fill="#000" dominant-baseline="central" >Cauchy</text>
<text x="132.64" y="0.00" font-family='"Liberation Sans", sans-serif' font-size="5.60" font-weight="normal" font-style="normal" text-anchor="start" fill="#000" dominant-baseline="central" > = 0.71</text>
</g>
<text x="292.30" y="234.90" font-family='"Liberation Serif", serif' font-size="14.00" font-weight="bold" font-style="normal" text-anchor="start" fill="#000" dominant-baseline="central" >D</text>
<text x="428.00" y="245.60" font-family='"Liberation Serif", serif' font-size="5.70" font-weight="bold" font-style="normal" text-anchor="middle" fill="#000" dominant-baseline="central" stroke="#000" stroke-width="0.15">TCGA-BRCA</text>
<line x1="398.2" x2="402.8" y1="255.4" y2="255.4" stroke="#111" stroke-width="1.8"/>
<g transform="translate(406.00,255.40) scale(0.9594,1)">
<text x="0.00" y="0.00" font-family='"Liberation Serif", serif' font-size="6.50" font-weight="normal" font-style="normal" text-anchor="start" fill="#000" dominant-baseline="central" stroke="#000" stroke-width="0.3">low </text>
<text x="11.38" y="0.00" font-family='"Liberation Serif", serif' font-size="6.50" font-weight="normal" font-style="italic" text-anchor="start" fill="#000" dominant-baseline="central" stroke="#000" stroke-width="0.3">CA9</text>
</g>
<line x1="431.2" x2="436.2" y1="255.4" y2="255.4" stroke="#e8140f" stroke-width="1.8"/>
<g transform="translate(440.00,255.40) scale(0.9702,1)">
<text x="0.00" y="0.00" font-family='"Liberation Serif", serif' font-size="6.50" font-weight="normal" font-style="normal" text-anchor="start" fill="#000" dominant-baseline="central" stroke="#000" stroke-width="0.3">high </text>
<text x="13.18" y="0.00" font-family='"Liberation Serif", serif' font-size="6.50" font-weight="normal" font-style="italic" text-anchor="start" fill="#000" dominant-baseline="central" stroke="#000" stroke-width="0.3">CA9</text>
</g>
<line x1="317.60" x2="317.60" y1="263" y2="380" stroke="#e8e8e8" stroke-width="0.5"/>
<line x1="317.60" x2="317.60" y1="407.4" y2="438" stroke="#e8e8e8" stroke-width="0.5"/>
<line x1="340.10" x2="340.10" y1="263" y2="380" stroke="#f3f3f3" stroke-width="0.5"/>
<line x1="340.10" x2="340.10" y1="407.4" y2="438" stroke="#f3f3f3" stroke-width="0.5"/>
<line x1="362.60" x2="362.60" y1="263" y2="380" stroke="#e8e8e8" stroke-width="0.5"/>
<line x1="362.60" x2="362.60" y1="407.4" y2="438" stroke="#e8e8e8" stroke-width="0.5"/>
<line x1="385.10" x2="385.10" y1="263" y2="380" stroke="#f3f3f3" stroke-width="0.5"/>
<line x1="385.10" x2="385.10" y1="407.4" y2="438" stroke="#f3f3f3" stroke-width="0.5"/>
<line x1="407.60" x2="407.60" y1="263" y2="380" stroke="#e8e8e8" stroke-width="0.5"/>
<line x1="407.60" x2="407.60" y1="407.4" y2="438" stroke="#e8e8e8" stroke-width="0.5"/>
<line x1="430.10" x2="430.10" y1="263" y2="380" stroke="#f3f3f3" stroke-width="0.5"/>
<line x1="430.10" x2="430.10" y1="407.4" y2="438" stroke="#f3f3f3" stroke-width="0.5"/>
<line x1="452.60" x2="452.60" y1="263" y2="380" stroke="#e8e8e8" stroke-width="0.5"/>
<line x1="452.60" x2="452.60" y1="407.4" y2="438" stroke="#e8e8e8" stroke-width="0.5"/>
<line x1="475.10" x2="475.10" y1="263" y2="380" stroke="#f3f3f3" stroke-width="0.5"/>
<line x1="475.10" x2="475.10" y1="407.4" y2="438" stroke="#f3f3f3" stroke-width="0.5"/>
<line x1="497.60" x2="497.60" y1="263" y2="380" stroke="#e8e8e8" stroke-width="0.5"/>
<line x1="497.60" x2="497.60" y1="407.4" y2="438" stroke="#e8e8e8" stroke-width="0.5"/>
<line x1="520.10" x2="520.10" y1="263" y2="380" stroke="#f3f3f3" stroke-width="0.5"/>
<line x1="520.10" x2="520.10" y1="407.4" y2="438" stroke="#f3f3f3" stroke-width="0.5"/>
<line x1="306.6" x2="541" y1="375.20" y2="375.20" stroke="#e8e8e8" stroke-width="0.5"/>
<line x1="306.6" x2="541" y1="361.80" y2="361.80" stroke="#f3f3f3" stroke-width="0.5"/>
<line x1="306.6" x2="541" y1="348.40" y2="348.40" stroke="#e8e8e8" stroke-width="0.5"/>
<line x1="306.6" x2="541" y1="335.00" y2="335.00" stroke="#f3f3f3" stroke-width="0.5"/>
<line x1="306.6" x2="541" y1="321.60" y2="321.60" stroke="#e8e8e8" stroke-width="0.5"/>
<line x1="306.6" x2="541" y1="308.20" y2="308.20" stroke="#f3f3f3" stroke-width="0.5"/>
<line x1="306.6" x2="541" y1="294.80" y2="294.80" stroke="#e8e8e8" stroke-width="0.5"/>
<line x1="306.6" x2="541" y1="281.40" y2="281.40" stroke="#f3f3f3" stroke-width="0.5"/>
<line x1="306.6" x2="541" y1="268.00" y2="268.00" stroke="#e8e8e8" stroke-width="0.5"/>
<line x1="306.4" x2="541" y1="416" y2="416" stroke="#eeeeee" stroke-width="0.5"/>
<line x1="306.4" x2="541" y1="429.4" y2="429.4" stroke="#eeeeee" stroke-width="0.5"/>
<line x1="306.4" x2="541" y1="422.7" y2="422.7" stroke="#eeeeee" stroke-width="0.5"/>
<rect x="306.6" y="262.6" width="234.4" height="117.4" fill="none" stroke="#c4c4c4" stroke-width="0.8"/>
<rect x="306.4" y="407.4" width="234.6" height="30.6" fill="none" stroke="#c4c4c4" stroke-width="0.8"/>
<line x1="304.5" x2="306.6" y1="375.20" y2="375.20" stroke="#444" stroke-width="0.4"/>
<text x="304.40" y="375.20" font-family='"Liberation Serif", serif' font-size="4.90" font-weight="normal" font-style="normal" text-anchor="end" fill="#222" dominant-baseline="central" stroke="#000" stroke-width="0.15">0.00</text>
<line x1="304.5" x2="306.6" y1="348.40" y2="348.40" stroke="#444" stroke-width="0.4"/>
<text x="304.40" y="348.40" font-family='"Liberation Serif", serif' font-size="4.90" font-weight="normal" font-style="normal" text-anchor="end" fill="#222" dominant-baseline="central" stroke="#000" stroke-width="0.15">0.25</text>
<line x1="304.5" x2="306.6" y1="321.60" y2="321.60" stroke="#444" stroke-width="0.4"/>
<text x="304.40" y="321.60" font-family='"Liberation Serif", serif' font-size="4.90" font-weight="normal" font-style="normal" text-anchor="end" fill="#222" dominant-baseline="central" stroke="#000" stroke-width="0.15">0.50</text>
<line x1="304.5" x2="306.6" y1="294.80" y2="294.80" stroke="#444" stroke-width="0.4"/>
<text x="304.40" y="294.80" font-family='"Liberation Serif", serif' font-size="4.90" font-weight="normal" font-style="normal" text-anchor="end" fill="#222" dominant-baseline="central" stroke="#000" stroke-width="0.15">0.75</text>
<line x1="304.5" x2="306.6" y1="268.00" y2="268.00" stroke="#444" stroke-width="0.4"/>
<text x="304.40" y="268.00" font-family='"Liberation Serif", serif' font-size="4.90" font-weight="normal" font-style="normal" text-anchor="end" fill="#222" dominant-baseline="central" stroke="#000" stroke-width="0.15">1.00</text>
<line x1="317.60" x2="317.60" y1="380" y2="381.8" stroke="#444" stroke-width="0.4"/>
<text x="317.60" y="384.20" font-family='"Liberation Serif", serif' font-size="4.90" font-weight="normal" font-style="normal" text-anchor="middle" fill="#222" dominant-baseline="central" stroke="#000" stroke-width="0.15">0</text>
<line x1="317.60" x2="317.60" y1="438" y2="439.3" stroke="#444" stroke-width="0.4"/>
<text x="317.60" y="441.50" font-family='"Liberation Serif", serif' font-size="3.60" font-weight="normal" font-style="normal" text-anchor="middle" fill="#333" dominant-baseline="central" >0</text>
<line x1="362.60" x2="362.60" y1="380" y2="381.8" stroke="#444" stroke-width="0.4"/>
<text x="362.60" y="384.20" font-family='"Liberation Serif", serif' font-size="4.90" font-weight="normal" font-style="normal" text-anchor="middle" fill="#222" dominant-baseline="central" stroke="#000" stroke-width="0.15">5</text>
<line x1="362.60" x2="362.60" y1="438" y2="439.3" stroke="#444" stroke-width="0.4"/>
<text x="362.60" y="441.50" font-family='"Liberation Serif", serif' font-size="3.60" font-weight="normal" font-style="normal" text-anchor="middle" fill="#333" dominant-baseline="central" >5</text>
<line x1="407.60" x2="407.60" y1="380" y2="381.8" stroke="#444" stroke-width="0.4"/>
<text x="407.60" y="384.20" font-family='"Liberation Serif", serif' font-size="4.90" font-weight="normal" font-style="normal" text-anchor="middle" fill="#222" dominant-baseline="central" stroke="#000" stroke-width="0.15">10</text>
<line x1="407.60" x2="407.60" y1="438" y2="439.3" stroke="#444" stroke-width="0.4"/>
<text x="407.60" y="441.50" font-family='"Liberation Serif", serif' font-size="3.60" font-weight="normal" font-style="normal" text-anchor="middle" fill="#333" dominant-baseline="central" >10</text>
<line x1="452.60" x2="452.60" y1="380" y2="381.8" stroke="#444" stroke-width="0.4"/>
<text x="452.60" y="384.20" font-family='"Liberation Serif", serif' font-size="4.90" font-weight="normal" font-style="normal" text-anchor="middle" fill="#222" dominant-baseline="central" stroke="#000" stroke-width="0.15">15</text>
<line x1="452.60" x2="452.60" y1="438" y2="439.3" stroke="#444" stroke-width="0.4"/>
<text x="452.60" y="441.50" font-family='"Liberation Serif", serif' font-size="3.60" font-weight="normal" font-style="normal" text-anchor="middle" fill="#333" dominant-baseline="central" >15</text>
<line x1="497.60" x2="497.60" y1="380" y2="381.8" stroke="#444" stroke-width="0.4"/>
<text x="497.60" y="384.20" font-family='"Liberation Serif", serif' font-size="4.90" font-weight="normal" font-style="normal" text-anchor="middle" fill="#222" dominant-baseline="central" stroke="#000" stroke-width="0.15">20</text>
<line x1="497.60" x2="497.60" y1="438" y2="439.3" stroke="#444" stroke-width="0.4"/>
<text x="497.60" y="441.50" font-family='"Liberation Serif", serif' font-size="3.60" font-weight="normal" font-style="normal" text-anchor="middle" fill="#333" dominant-baseline="central" >20</text>
<text x="289.8" y="325" font-family='"Liberation Serif", serif' font-size="6.3" text-anchor="middle" dominant-baseline="central" transform="rotate(-90 289.8 325)" stroke="#000" stroke-width="0.3">Survival probability</text>
<text x="427.00" y="391.40" font-family='"Liberation Serif", serif' font-size="5.85" font-weight="bold" font-style="normal" text-anchor="middle" fill="#000" dominant-baseline="central" stroke="#000" stroke-width="0.15">Time in years</text>
<text x="427.00" y="447.00" font-family='"Liberation Serif", serif' font-size="5.85" font-weight="bold" font-style="normal" text-anchor="middle" fill="#000" dominant-baseline="central" stroke="#000" stroke-width="0.15">Time in years</text>
<text x="421.80" y="404.20" font-family='"Liberation Serif", serif' font-size="5.85" font-weight="bold" font-style="normal" text-anchor="middle" fill="#000" dominant-baseline="central" stroke="#000" stroke-width="0.15">Number at risk</text>
<path d="M317.6 321.5H427.6M414.4 321.5V375.2M427.6 326.3V375.2" fill="none" stroke="#111" stroke-width="0.7" stroke-dasharray="1.1,1.1"/>
<g transform="translate(329.40,348.80) scale(0.9225,1)">
<text x="0.00" y="0.00" font-family='"Liberation Serif", serif' font-size="6.40" font-weight="bold" font-style="italic" text-anchor="start" fill="#000" dominant-baseline="central" >p</text>
<text x="3.20" y="0.00" font-family='"Liberation Serif", serif' font-size="6.40" font-weight="bold" font-style="normal" text-anchor="start" fill="#000" dominant-baseline="central" > = 0.17</text>
</g>
<g transform="translate(329.40,362.60) scale(0.9128,1)">
<text x="0.00" y="0.00" font-family='"Liberation Serif", serif' font-size="6.20" font-weight="bold" font-style="normal" text-anchor="start" fill="#000" dominant-baseline="central" >HR: 1.25 (0.91 - 1.72)</text>
</g>
<path d="M317.7 267.9H318.3V268.0H319.4V268.0H319.7V268.1H323.1V268.1H324.3V268.2H325.3V268.6H327.5V268.9H328.2V269.3H329.7V269.7H330.0V269.9H331.2V270.0H333.3V270.2H335.2V270.4H337.1V271.5H338.5V272.6H339.2V273.3H340.4V274.1H342.9V274.8H344.8V275.5H345.8V276.3H347.3V277.0H350.8V277.6H351.1V278.1H352.6V278.6H352.8V279.2H353.6V279.6H354.5V279.9H357.2V280.3H358.7V281.4H359.4V282.5H361.6V283.6H365.0V284.6H365.5V285.5H366.0V286.5H368.1V286.7H369.2V287.0H370.6V287.2H372.2V287.5H372.7V287.7H373.3V288.4H373.3V289.0H373.8V289.7H378.2V290.4H381.1V292.9H381.5V295.4H383.7V295.9H384.7V296.5H386.9V297.4H388.2V298.4H389.4V299.4H390.2V300.3H392.5V300.8H392.8V301.4H394.6V301.9H397.4V302.8H397.9V303.6H399.8V304.3H401.8V305.1H402.3V305.8H403.4V309.0V315.1H408.9V317.8H413.3V321.1H414.6V329.6H422.8V335H480.8V354.8H516" fill="none" stroke="#111" stroke-width="1.3"/>
<path d="M317.7 267.9H319.4V268.0H321.0V268.2H321.8V268.9H326.2V269.6H326.2V270.3H326.5V271.0H327.8V271.5H328.3V272.1H330.8V272.6H333.4V273.7H334.0V274.8H334.2V275.4H336.3V275.9H337.1V276.4H339.6V277.0H342.2V278.4H343.0V279.7H344.7V281.4H346.2V283.0H347.9V283.4H348.0V283.9H350.5V284.3H351.7V284.7H352.4V285.2H353.9V285.8H354.2V286.3H357.2V286.9H358.1V287.8H358.4V288.7H361.6V289.6H364.2V290.3H365.0V291.0H366.5V291.4H367.7V291.8H370.4V292.2H370.5V292.6H373.5V293.4H374.5V294.2H375.8V295.1H376.0V295.9H376.9V297.5H379.3V299.2H380.0V299.6H383.5V299.9H383.6V300.3H384.1V301.0H385.9V301.8H388.0V302.5H390.1V303.6H391.3V304.7H393.9V306.0H394.6V307.4H394.8V307.3H398.0V307.1H399.6V307.0H400.1V306.9H401.5V307.7H402.8V308.5V315.1H407.8V317.8H414.4V321.5H427.6V326.6H477V332H502V340.6H531" fill="none" stroke="#e8140f" stroke-width="1.3"/>
<path d="M419 328.20000000000005V331.0M440 333.6V336.4M446 333.6V336.4M459 333.6V336.4M464 333.6V336.4" stroke="#111" stroke-width="0.6"/>
<path d="M421 320.1V322.9M442.5 325.20000000000005V328.0M473 325.20000000000005V328.0M494 330.6V333.4M515 339.20000000000005V342.0M527 339.20000000000005V342.0" stroke="#e8140f" stroke-width="0.6"/>
<line x1="295" x2="304" y1="416" y2="416" stroke="#111" stroke-width="1.6"/>
<line x1="295" x2="304" y1="429.4" y2="429.4" stroke="#e8140f" stroke-width="1.6"/>
<text x="317.60" y="416.90" font-family='"Liberation Sans", sans-serif' font-size="5.40" font-weight="normal" font-style="normal" text-anchor="middle" fill="#111" dominant-baseline="central" >550</text>
<text x="317.60" y="430.00" font-family='"Liberation Sans", sans-serif' font-size="5.40" font-weight="normal" font-style="normal" text-anchor="middle" fill="#e8140f" dominant-baseline="central" >550</text>
<text x="362.60" y="416.90" font-family='"Liberation Sans", sans-serif' font-size="5.40" font-weight="normal" font-style="normal" text-anchor="middle" fill="#111" dominant-baseline="central" >136</text>
<text x="362.60" y="430.00" font-family='"Liberation Sans", sans-serif' font-size="5.40" font-weight="normal" font-style="normal" text-anchor="middle" fill="#e8140f" dominant-baseline="central" >119</text>
<text x="407.60" y="416.90" font-family='"Liberation Sans", sans-serif' font-size="5.40" font-weight="normal" font-style="normal" text-anchor="middle" fill="#111" dominant-baseline="central" >22</text>
<text x="407.60" y="430.00" font-family='"Liberation Sans", sans-serif' font-size="5.40" font-weight="normal" font-style="normal" text-anchor="middle" fill="#e8140f" dominant-baseline="central" >20</text>
<text x="452.60" y="416.90" font-family='"Liberation Sans", sans-serif' font-size="5.40" font-weight="normal" font-style="normal" text-anchor="middle" fill="#111" dominant-baseline="central" >3</text>
<text x="452.60" y="430.00" font-family='"Liberation Sans", sans-serif' font-size="5.40" font-weight="normal" font-style="normal" text-anchor="middle" fill="#e8140f" dominant-baseline="central" >9</text>
<text x="497.60" y="416.90" font-family='"Liberation Sans", sans-serif' font-size="5.40" font-weight="normal" font-style="normal" text-anchor="middle" fill="#111" dominant-baseline="central" >1</text>
<text x="497.60" y="430.00" font-family='"Liberation Sans", sans-serif' font-size="5.40" font-weight="normal" font-style="normal" text-anchor="middle" fill="#e8140f" dominant-baseline="central" >5</text>
</svg></body></html>
